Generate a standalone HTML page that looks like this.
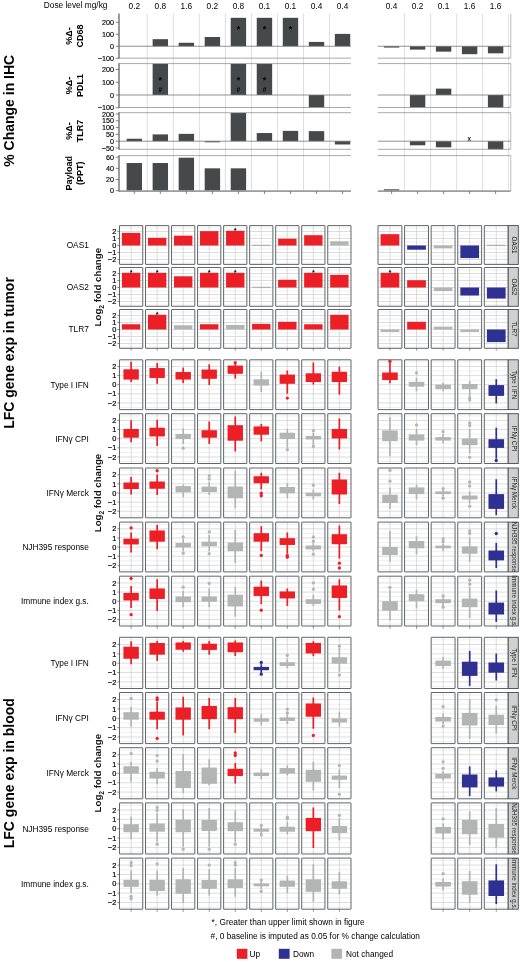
<!DOCTYPE html>
<html lang="en">
<head>
<meta charset="utf-8">
<title>Figure</title>
<style>
html,body{margin:0;padding:0;background:#fff;}
body{width:520px;height:962px;overflow:hidden;}
svg{display:block;font-family:'Liberation Sans',Arial,sans-serif;}
</style>
</head>
<body>
<svg width="520" height="962" viewBox="0 0 520 962">
<rect x="0" y="0" width="520" height="962" fill="#ffffff"/>
<text x="43.8" y="8.1" font-size="8.3" text-anchor="start" fill="#000">Dose level mg/kg</text>
<text x="134.3" y="8.8" font-size="8.3" text-anchor="middle" fill="#000">0.2</text>
<text x="160.33" y="8.8" font-size="8.3" text-anchor="middle" fill="#000">0.8</text>
<text x="186.36" y="8.8" font-size="8.3" text-anchor="middle" fill="#000">1.6</text>
<text x="212.39" y="8.8" font-size="8.3" text-anchor="middle" fill="#000">0.2</text>
<text x="238.42" y="8.8" font-size="8.3" text-anchor="middle" fill="#000">0.8</text>
<text x="264.45" y="8.8" font-size="8.3" text-anchor="middle" fill="#000">0.1</text>
<text x="290.48" y="8.8" font-size="8.3" text-anchor="middle" fill="#000">0.1</text>
<text x="316.51" y="8.8" font-size="8.3" text-anchor="middle" fill="#000">0.4</text>
<text x="342.54" y="8.8" font-size="8.3" text-anchor="middle" fill="#000">0.4</text>
<text x="391.6" y="8.8" font-size="8.3" text-anchor="middle" fill="#000">0.4</text>
<text x="417.6" y="8.8" font-size="8.3" text-anchor="middle" fill="#000">0.2</text>
<text x="443.6" y="8.8" font-size="8.3" text-anchor="middle" fill="#000">0.1</text>
<text x="469.6" y="8.8" font-size="8.3" text-anchor="middle" fill="#000">1.6</text>
<text x="495.6" y="8.8" font-size="8.3" text-anchor="middle" fill="#000">1.6</text>
<line x1="147.31" y1="13.8" x2="147.31" y2="191" stroke="#d6d6d6" stroke-width="0.8"/>
<line x1="173.35" y1="13.8" x2="173.35" y2="191" stroke="#d6d6d6" stroke-width="0.8"/>
<line x1="199.38" y1="13.8" x2="199.38" y2="191" stroke="#d6d6d6" stroke-width="0.8"/>
<line x1="225.41" y1="13.8" x2="225.41" y2="191" stroke="#d6d6d6" stroke-width="0.8"/>
<line x1="251.44" y1="13.8" x2="251.44" y2="191" stroke="#d6d6d6" stroke-width="0.8"/>
<line x1="277.47" y1="13.8" x2="277.47" y2="191" stroke="#d6d6d6" stroke-width="0.8"/>
<line x1="303.5" y1="13.8" x2="303.5" y2="191" stroke="#d6d6d6" stroke-width="0.8"/>
<line x1="329.53" y1="13.8" x2="329.53" y2="191" stroke="#d6d6d6" stroke-width="0.8"/>
<line x1="404.6" y1="13.8" x2="404.6" y2="191" stroke="#d6d6d6" stroke-width="0.8"/>
<line x1="430.6" y1="13.8" x2="430.6" y2="191" stroke="#d6d6d6" stroke-width="0.8"/>
<line x1="456.6" y1="13.8" x2="456.6" y2="191" stroke="#d6d6d6" stroke-width="0.8"/>
<line x1="482.6" y1="13.8" x2="482.6" y2="191" stroke="#d6d6d6" stroke-width="0.8"/>
<line x1="508.6" y1="13.8" x2="508.6" y2="191" stroke="#d6d6d6" stroke-width="0.8"/>
<rect x="152.63" y="39.17" width="15.4" height="7.08" fill="#46484a"/>
<rect x="178.66" y="42.77" width="15.4" height="3.48" fill="#46484a"/>
<rect x="204.69" y="37.01" width="15.4" height="9.24" fill="#46484a"/>
<rect x="230.72" y="17.81" width="15.4" height="28.44" fill="#46484a"/>
<rect x="256.75" y="17.81" width="15.4" height="28.44" fill="#46484a"/>
<rect x="282.78" y="17.81" width="15.4" height="28.44" fill="#46484a"/>
<rect x="308.81" y="41.93" width="15.4" height="4.32" fill="#46484a"/>
<rect x="334.84" y="33.89" width="15.4" height="12.36" fill="#46484a"/>
<rect x="383.9" y="46.25" width="15.4" height="1.32" fill="#46484a"/>
<rect x="409.9" y="46.25" width="15.4" height="3.36" fill="#46484a"/>
<rect x="435.9" y="46.25" width="15.4" height="5.4" fill="#46484a"/>
<rect x="461.9" y="46.25" width="15.4" height="7.92" fill="#46484a"/>
<rect x="487.9" y="46.25" width="15.4" height="7.08" fill="#46484a"/>
<text x="238.42" y="32.4" font-size="9" text-anchor="middle" font-weight="bold" fill="#000">*</text>
<text x="264.45" y="32.4" font-size="9" text-anchor="middle" font-weight="bold" fill="#000">*</text>
<text x="290.48" y="32.4" font-size="9" text-anchor="middle" font-weight="bold" fill="#000">*</text>
<line x1="119" y1="58.15" x2="351" y2="58.15" stroke="#8e8e8e" stroke-width="0.75"/>
<line x1="377.8" y1="58.15" x2="510.8" y2="58.15" stroke="#8e8e8e" stroke-width="0.75"/>
<line x1="510.8" y1="13.9" x2="510.8" y2="58.15" stroke="#a8a8a8" stroke-width="0.75"/>
<line x1="119" y1="46.25" x2="351" y2="46.25" stroke="#777" stroke-width="0.8"/>
<line x1="377.8" y1="46.25" x2="510.8" y2="46.25" stroke="#777" stroke-width="0.8"/>
<line x1="119" y1="13.5" x2="119" y2="58.55" stroke="#666" stroke-width="1.3"/>
<line x1="115.7" y1="22.25" x2="119" y2="22.25" stroke="#666" stroke-width="0.8"/>
<text x="114" y="24.75" font-size="7.2" text-anchor="end" fill="#000" stroke="#000" stroke-width="0.15">200</text>
<line x1="115.7" y1="34.25" x2="119" y2="34.25" stroke="#666" stroke-width="0.8"/>
<text x="114" y="36.75" font-size="7.2" text-anchor="end" fill="#000" stroke="#000" stroke-width="0.15">100</text>
<line x1="115.7" y1="46.25" x2="119" y2="46.25" stroke="#666" stroke-width="0.8"/>
<text x="114" y="48.75" font-size="7.2" text-anchor="end" fill="#000" stroke="#000" stroke-width="0.15">0</text>
<line x1="115.7" y1="58.25" x2="119" y2="58.25" stroke="#666" stroke-width="0.8"/>
<text x="114" y="60.75" font-size="7.2" text-anchor="end" fill="#000" stroke="#000" stroke-width="0.15">−100</text>
<text x="71.6" y="36.02" font-size="9" text-anchor="middle" font-weight="bold" fill="#000" transform="rotate(-90 71.6 36.02)">%Δ-</text>
<text x="83.2" y="36.02" font-size="9" text-anchor="middle" font-weight="bold" fill="#000" transform="rotate(-90 83.2 36.02)">CD68</text>
<rect x="152.63" y="63.8" width="15.4" height="31.2" fill="#46484a"/>
<rect x="230.72" y="63.8" width="15.4" height="31.2" fill="#46484a"/>
<rect x="256.75" y="63.8" width="15.4" height="31.2" fill="#46484a"/>
<rect x="308.81" y="95" width="15.4" height="12.5" fill="#46484a"/>
<rect x="409.9" y="95" width="15.4" height="12.5" fill="#46484a"/>
<rect x="435.9" y="88.62" width="15.4" height="6.38" fill="#46484a"/>
<rect x="487.9" y="95" width="15.4" height="12.5" fill="#46484a"/>
<text x="160.33" y="82.6" font-size="9" text-anchor="middle" font-weight="bold" fill="#000">*</text>
<text x="160.33" y="91.8" font-size="6.5" text-anchor="middle" font-weight="bold" fill="#000">#</text>
<text x="238.42" y="82.6" font-size="9" text-anchor="middle" font-weight="bold" fill="#000">*</text>
<text x="238.42" y="91.8" font-size="6.5" text-anchor="middle" font-weight="bold" fill="#000">#</text>
<text x="264.45" y="82.6" font-size="9" text-anchor="middle" font-weight="bold" fill="#000">*</text>
<text x="264.45" y="91.8" font-size="6.5" text-anchor="middle" font-weight="bold" fill="#000">#</text>
<line x1="119" y1="63.6" x2="351" y2="63.6" stroke="#8e8e8e" stroke-width="0.75"/>
<line x1="377.8" y1="63.6" x2="510.8" y2="63.6" stroke="#8e8e8e" stroke-width="0.75"/>
<line x1="119" y1="107.5" x2="351" y2="107.5" stroke="#8e8e8e" stroke-width="0.75"/>
<line x1="377.8" y1="107.5" x2="510.8" y2="107.5" stroke="#8e8e8e" stroke-width="0.75"/>
<line x1="510.8" y1="63.6" x2="510.8" y2="107.5" stroke="#a8a8a8" stroke-width="0.75"/>
<line x1="119" y1="95" x2="351" y2="95" stroke="#777" stroke-width="0.8"/>
<line x1="377.8" y1="95" x2="510.8" y2="95" stroke="#777" stroke-width="0.8"/>
<line x1="119" y1="63.2" x2="119" y2="107.9" stroke="#666" stroke-width="1.3"/>
<line x1="115.7" y1="69.5" x2="119" y2="69.5" stroke="#666" stroke-width="0.8"/>
<text x="114" y="72" font-size="7.2" text-anchor="end" fill="#000" stroke="#000" stroke-width="0.15">200</text>
<line x1="115.7" y1="82.25" x2="119" y2="82.25" stroke="#666" stroke-width="0.8"/>
<text x="114" y="84.75" font-size="7.2" text-anchor="end" fill="#000" stroke="#000" stroke-width="0.15">100</text>
<line x1="115.7" y1="95" x2="119" y2="95" stroke="#666" stroke-width="0.8"/>
<text x="114" y="97.5" font-size="7.2" text-anchor="end" fill="#000" stroke="#000" stroke-width="0.15">0</text>
<line x1="115.7" y1="107.75" x2="119" y2="107.75" stroke="#666" stroke-width="0.8"/>
<text x="114" y="110.25" font-size="7.2" text-anchor="end" fill="#000" stroke="#000" stroke-width="0.15">−100</text>
<text x="71.6" y="85.55" font-size="9" text-anchor="middle" font-weight="bold" fill="#000" transform="rotate(-90 71.6 85.55)">%Δ-</text>
<text x="83.2" y="85.55" font-size="9" text-anchor="middle" font-weight="bold" fill="#000" transform="rotate(-90 83.2 85.55)">PDL1</text>
<rect x="126.6" y="138.75" width="15.4" height="2.45" fill="#46484a"/>
<rect x="152.63" y="134.4" width="15.4" height="6.8" fill="#46484a"/>
<rect x="178.66" y="133.86" width="15.4" height="7.34" fill="#46484a"/>
<rect x="204.69" y="141.2" width="15.4" height="1.09" fill="#46484a"/>
<rect x="230.72" y="112.9" width="15.4" height="28.3" fill="#46484a"/>
<rect x="256.75" y="133.04" width="15.4" height="8.16" fill="#46484a"/>
<rect x="282.78" y="130.86" width="15.4" height="10.34" fill="#46484a"/>
<rect x="308.81" y="131.14" width="15.4" height="10.06" fill="#46484a"/>
<rect x="334.84" y="141.2" width="15.4" height="3.26" fill="#46484a"/>
<rect x="409.9" y="141.2" width="15.4" height="4.08" fill="#46484a"/>
<rect x="435.9" y="141.2" width="15.4" height="6.12" fill="#46484a"/>
<rect x="487.9" y="141.2" width="15.4" height="8.1" fill="#46484a"/>
<line x1="119" y1="112.7" x2="351" y2="112.7" stroke="#8e8e8e" stroke-width="0.75"/>
<line x1="377.8" y1="112.7" x2="510.8" y2="112.7" stroke="#8e8e8e" stroke-width="0.75"/>
<line x1="119" y1="149.3" x2="351" y2="149.3" stroke="#8e8e8e" stroke-width="0.75"/>
<line x1="377.8" y1="149.3" x2="510.8" y2="149.3" stroke="#8e8e8e" stroke-width="0.75"/>
<line x1="510.8" y1="112.7" x2="510.8" y2="149.3" stroke="#a8a8a8" stroke-width="0.75"/>
<line x1="119" y1="141.2" x2="351" y2="141.2" stroke="#777" stroke-width="0.8"/>
<line x1="377.8" y1="141.2" x2="510.8" y2="141.2" stroke="#777" stroke-width="0.8"/>
<line x1="119" y1="112.3" x2="119" y2="149.7" stroke="#666" stroke-width="1.3"/>
<line x1="115.7" y1="114" x2="119" y2="114" stroke="#666" stroke-width="0.8"/>
<text x="114" y="116.5" font-size="7.2" text-anchor="end" fill="#000" stroke="#000" stroke-width="0.15">200</text>
<line x1="115.7" y1="120.8" x2="119" y2="120.8" stroke="#666" stroke-width="0.8"/>
<text x="114" y="123.3" font-size="7.2" text-anchor="end" fill="#000" stroke="#000" stroke-width="0.15">150</text>
<line x1="115.7" y1="127.6" x2="119" y2="127.6" stroke="#666" stroke-width="0.8"/>
<text x="114" y="130.1" font-size="7.2" text-anchor="end" fill="#000" stroke="#000" stroke-width="0.15">100</text>
<line x1="115.7" y1="134.4" x2="119" y2="134.4" stroke="#666" stroke-width="0.8"/>
<text x="114" y="136.9" font-size="7.2" text-anchor="end" fill="#000" stroke="#000" stroke-width="0.15">50</text>
<line x1="115.7" y1="141.2" x2="119" y2="141.2" stroke="#666" stroke-width="0.8"/>
<text x="114" y="143.7" font-size="7.2" text-anchor="end" fill="#000" stroke="#000" stroke-width="0.15">0</text>
<line x1="115.7" y1="148" x2="119" y2="148" stroke="#666" stroke-width="0.8"/>
<text x="114" y="150.5" font-size="7.2" text-anchor="end" fill="#000" stroke="#000" stroke-width="0.15">−50</text>
<text x="71.6" y="131" font-size="9" text-anchor="middle" font-weight="bold" fill="#000" transform="rotate(-90 71.6 131)">%Δ-</text>
<text x="83.2" y="131" font-size="9" text-anchor="middle" font-weight="bold" fill="#000" transform="rotate(-90 83.2 131)">TLR7</text>
<rect x="126.6" y="163.03" width="15.4" height="27.67" fill="#46484a"/>
<rect x="152.63" y="163.03" width="15.4" height="27.67" fill="#46484a"/>
<rect x="178.66" y="157.72" width="15.4" height="32.98" fill="#46484a"/>
<rect x="204.69" y="168.34" width="15.4" height="22.36" fill="#46484a"/>
<rect x="230.72" y="168.34" width="15.4" height="22.36" fill="#46484a"/>
<rect x="383.9" y="189.3" width="15.4" height="1.4" fill="#46484a"/>
<line x1="119" y1="155.6" x2="351" y2="155.6" stroke="#8e8e8e" stroke-width="0.75"/>
<line x1="377.8" y1="155.6" x2="510.8" y2="155.6" stroke="#8e8e8e" stroke-width="0.75"/>
<line x1="119" y1="191.2" x2="351" y2="191.2" stroke="#9c9c9c" stroke-width="1.7"/>
<line x1="377.8" y1="191.2" x2="510.8" y2="191.2" stroke="#9c9c9c" stroke-width="1.7"/>
<line x1="510.8" y1="155.6" x2="510.8" y2="191" stroke="#a8a8a8" stroke-width="0.75"/>
<line x1="119" y1="155.2" x2="119" y2="191.4" stroke="#666" stroke-width="1.3"/>
<line x1="115.7" y1="157.16" x2="119" y2="157.16" stroke="#666" stroke-width="0.8"/>
<text x="114" y="159.66" font-size="7.2" text-anchor="end" fill="#000" stroke="#000" stroke-width="0.15">60</text>
<line x1="115.7" y1="168.34" x2="119" y2="168.34" stroke="#666" stroke-width="0.8"/>
<text x="114" y="170.84" font-size="7.2" text-anchor="end" fill="#000" stroke="#000" stroke-width="0.15">40</text>
<line x1="115.7" y1="179.52" x2="119" y2="179.52" stroke="#666" stroke-width="0.8"/>
<text x="114" y="182.02" font-size="7.2" text-anchor="end" fill="#000" stroke="#000" stroke-width="0.15">20</text>
<line x1="115.7" y1="190.7" x2="119" y2="190.7" stroke="#666" stroke-width="0.8"/>
<text x="114" y="193.2" font-size="7.2" text-anchor="end" fill="#000" stroke="#000" stroke-width="0.15">0</text>
<text x="71.6" y="173.3" font-size="9" text-anchor="middle" font-weight="bold" fill="#000" transform="rotate(-90 71.6 173.3)">Payload</text>
<text x="83.2" y="173.3" font-size="9" text-anchor="middle" font-weight="bold" fill="#000" transform="rotate(-90 83.2 173.3)">(PPT)</text>
<text x="469.4" y="141" font-size="6.5" text-anchor="middle" font-weight="bold" fill="#222">x</text>
<line x1="134.3" y1="191.2" x2="134.3" y2="194" stroke="#666" stroke-width="0.8"/>
<line x1="160.33" y1="191.2" x2="160.33" y2="194" stroke="#666" stroke-width="0.8"/>
<line x1="186.36" y1="191.2" x2="186.36" y2="194" stroke="#666" stroke-width="0.8"/>
<line x1="212.39" y1="191.2" x2="212.39" y2="194" stroke="#666" stroke-width="0.8"/>
<line x1="238.42" y1="191.2" x2="238.42" y2="194" stroke="#666" stroke-width="0.8"/>
<line x1="264.45" y1="191.2" x2="264.45" y2="194" stroke="#666" stroke-width="0.8"/>
<line x1="290.48" y1="191.2" x2="290.48" y2="194" stroke="#666" stroke-width="0.8"/>
<line x1="316.51" y1="191.2" x2="316.51" y2="194" stroke="#666" stroke-width="0.8"/>
<line x1="342.54" y1="191.2" x2="342.54" y2="194" stroke="#666" stroke-width="0.8"/>
<line x1="391.6" y1="191.2" x2="391.6" y2="194" stroke="#666" stroke-width="0.8"/>
<line x1="417.6" y1="191.2" x2="417.6" y2="194" stroke="#666" stroke-width="0.8"/>
<line x1="443.6" y1="191.2" x2="443.6" y2="194" stroke="#666" stroke-width="0.8"/>
<line x1="469.6" y1="191.2" x2="469.6" y2="194" stroke="#666" stroke-width="0.8"/>
<line x1="495.6" y1="191.2" x2="495.6" y2="194" stroke="#666" stroke-width="0.8"/>
<text x="14.2" y="110.8" font-size="14" text-anchor="middle" font-weight="bold" fill="#000" transform="rotate(-90 14.2 110.8)">% Change in IHC</text>
<text x="14.2" y="353" font-size="14" text-anchor="middle" font-weight="bold" fill="#000" transform="rotate(-90 14.2 353)">LFC gene exp in tumor</text>
<text x="14.2" y="773.2" font-size="14" text-anchor="middle" font-weight="bold" fill="#000" transform="rotate(-90 14.2 773.2)">LFC gene exp in blood</text>
<text x="101.4" y="287.2" font-size="9.7" font-weight="bold" text-anchor="middle" fill="#111" transform="rotate(-90 101.4 287.2)">Log<tspan font-size="6.6" dy="2.2">2</tspan><tspan dy="-2.2"> fold change</tspan></text>
<text x="101.4" y="493" font-size="9.7" font-weight="bold" text-anchor="middle" fill="#111" transform="rotate(-90 101.4 493)">Log<tspan font-size="6.6" dy="2.2">2</tspan><tspan dy="-2.2"> fold change</tspan></text>
<text x="101.4" y="773.2" font-size="9.7" font-weight="bold" text-anchor="middle" fill="#111" transform="rotate(-90 101.4 773.2)">Log<tspan font-size="6.6" dy="2.2">2</tspan><tspan dy="-2.2"> fold change</tspan></text>
<rect x="119.5" y="225.6" width="23.25" height="38.8" fill="#fff"/>
<path d="M119.5 263H142.75M119.5 256H142.75M119.5 249H142.75M119.5 242H142.75M119.5 235H142.75M119.5 228H142.75" stroke="#e0e0e0" stroke-width="0.5" fill="none"/>
<path d="M119.5 259.5H142.75M119.5 252.5H142.75M119.5 245.5H142.75M119.5 238.5H142.75M119.5 231.5H142.75M131.12 225.6V264.4" stroke="#cfcfcf" stroke-width="0.7" fill="none"/>
<rect x="121.92" y="232.9" width="18.4" height="12.6" fill="#ec1f26"/>
<rect x="119.5" y="225.6" width="23.25" height="38.8" fill="none" stroke="#464a4e" stroke-width="0.85" rx="0.2"/>
<rect x="145.53" y="225.6" width="23.25" height="38.8" fill="#fff"/>
<path d="M145.53 263H168.78M145.53 256H168.78M145.53 249H168.78M145.53 242H168.78M145.53 235H168.78M145.53 228H168.78" stroke="#e0e0e0" stroke-width="0.5" fill="none"/>
<path d="M145.53 259.5H168.78M145.53 252.5H168.78M145.53 245.5H168.78M145.53 238.5H168.78M145.53 231.5H168.78M157.16 225.6V264.4" stroke="#cfcfcf" stroke-width="0.7" fill="none"/>
<rect x="147.96" y="237.8" width="18.4" height="7.7" fill="#ec1f26"/>
<rect x="145.53" y="225.6" width="23.25" height="38.8" fill="none" stroke="#464a4e" stroke-width="0.85" rx="0.2"/>
<rect x="171.56" y="225.6" width="23.25" height="38.8" fill="#fff"/>
<path d="M171.56 263H194.81M171.56 256H194.81M171.56 249H194.81M171.56 242H194.81M171.56 235H194.81M171.56 228H194.81" stroke="#e0e0e0" stroke-width="0.5" fill="none"/>
<path d="M171.56 259.5H194.81M171.56 252.5H194.81M171.56 245.5H194.81M171.56 238.5H194.81M171.56 231.5H194.81M183.19 225.6V264.4" stroke="#cfcfcf" stroke-width="0.7" fill="none"/>
<rect x="173.99" y="235.7" width="18.4" height="9.8" fill="#ec1f26"/>
<rect x="171.56" y="225.6" width="23.25" height="38.8" fill="none" stroke="#464a4e" stroke-width="0.85" rx="0.2"/>
<rect x="197.59" y="225.6" width="23.25" height="38.8" fill="#fff"/>
<path d="M197.59 263H220.84M197.59 256H220.84M197.59 249H220.84M197.59 242H220.84M197.59 235H220.84M197.59 228H220.84" stroke="#e0e0e0" stroke-width="0.5" fill="none"/>
<path d="M197.59 259.5H220.84M197.59 252.5H220.84M197.59 245.5H220.84M197.59 238.5H220.84M197.59 231.5H220.84M209.22 225.6V264.4" stroke="#cfcfcf" stroke-width="0.7" fill="none"/>
<rect x="200.02" y="231.15" width="18.4" height="14.35" fill="#ec1f26"/>
<rect x="197.59" y="225.6" width="23.25" height="38.8" fill="none" stroke="#464a4e" stroke-width="0.85" rx="0.2"/>
<rect x="223.62" y="225.6" width="23.25" height="38.8" fill="#fff"/>
<path d="M223.62 263H246.87M223.62 256H246.87M223.62 249H246.87M223.62 242H246.87M223.62 235H246.87M223.62 228H246.87" stroke="#e0e0e0" stroke-width="0.5" fill="none"/>
<path d="M223.62 259.5H246.87M223.62 252.5H246.87M223.62 245.5H246.87M223.62 238.5H246.87M223.62 231.5H246.87M235.25 225.6V264.4" stroke="#cfcfcf" stroke-width="0.7" fill="none"/>
<rect x="226.05" y="230.8" width="18.4" height="14.7" fill="#ec1f26"/>
<text x="235.25" y="233.4" font-size="7.5" text-anchor="middle" font-weight="bold" fill="#000">*</text>
<rect x="223.62" y="225.6" width="23.25" height="38.8" fill="none" stroke="#464a4e" stroke-width="0.85" rx="0.2"/>
<rect x="249.65" y="225.6" width="23.25" height="38.8" fill="#fff"/>
<path d="M249.65 263H272.9M249.65 256H272.9M249.65 249H272.9M249.65 242H272.9M249.65 235H272.9M249.65 228H272.9" stroke="#e0e0e0" stroke-width="0.5" fill="none"/>
<path d="M249.65 259.5H272.9M249.65 252.5H272.9M249.65 245.5H272.9M249.65 238.5H272.9M249.65 231.5H272.9M261.27 225.6V264.4" stroke="#cfcfcf" stroke-width="0.7" fill="none"/>
<rect x="252.07" y="244.7" width="18.4" height="1.4" fill="#b3b5b4"/>
<rect x="249.65" y="225.6" width="23.25" height="38.8" fill="none" stroke="#464a4e" stroke-width="0.85" rx="0.2"/>
<rect x="275.68" y="225.6" width="23.25" height="38.8" fill="#fff"/>
<path d="M275.68 263H298.93M275.68 256H298.93M275.68 249H298.93M275.68 242H298.93M275.68 235H298.93M275.68 228H298.93" stroke="#e0e0e0" stroke-width="0.5" fill="none"/>
<path d="M275.68 259.5H298.93M275.68 252.5H298.93M275.68 245.5H298.93M275.68 238.5H298.93M275.68 231.5H298.93M287.31 225.6V264.4" stroke="#cfcfcf" stroke-width="0.7" fill="none"/>
<rect x="278.11" y="238.71" width="18.4" height="6.79" fill="#ec1f26"/>
<rect x="275.68" y="225.6" width="23.25" height="38.8" fill="none" stroke="#464a4e" stroke-width="0.85" rx="0.2"/>
<rect x="301.71" y="225.6" width="23.25" height="38.8" fill="#fff"/>
<path d="M301.71 263H324.96M301.71 256H324.96M301.71 249H324.96M301.71 242H324.96M301.71 235H324.96M301.71 228H324.96" stroke="#e0e0e0" stroke-width="0.5" fill="none"/>
<path d="M301.71 259.5H324.96M301.71 252.5H324.96M301.71 245.5H324.96M301.71 238.5H324.96M301.71 231.5H324.96M313.34 225.6V264.4" stroke="#cfcfcf" stroke-width="0.7" fill="none"/>
<rect x="304.14" y="235.21" width="18.4" height="10.29" fill="#ec1f26"/>
<rect x="301.71" y="225.6" width="23.25" height="38.8" fill="none" stroke="#464a4e" stroke-width="0.85" rx="0.2"/>
<rect x="327.74" y="225.6" width="23.25" height="38.8" fill="#fff"/>
<path d="M327.74 263H350.99M327.74 256H350.99M327.74 249H350.99M327.74 242H350.99M327.74 235H350.99M327.74 228H350.99" stroke="#e0e0e0" stroke-width="0.5" fill="none"/>
<path d="M327.74 259.5H350.99M327.74 252.5H350.99M327.74 245.5H350.99M327.74 238.5H350.99M327.74 231.5H350.99M339.37 225.6V264.4" stroke="#cfcfcf" stroke-width="0.7" fill="none"/>
<rect x="330.17" y="241.3" width="18.4" height="4.2" fill="#b3b5b4"/>
<rect x="327.74" y="225.6" width="23.25" height="38.8" fill="none" stroke="#464a4e" stroke-width="0.85" rx="0.2"/>
<rect x="378" y="225.6" width="23.9" height="38.8" fill="#fff"/>
<path d="M378 263H401.9M378 256H401.9M378 249H401.9M378 242H401.9M378 235H401.9M378 228H401.9" stroke="#e0e0e0" stroke-width="0.5" fill="none"/>
<path d="M378 259.5H401.9M378 252.5H401.9M378 245.5H401.9M378 238.5H401.9M378 231.5H401.9M389.95 225.6V264.4" stroke="#cfcfcf" stroke-width="0.7" fill="none"/>
<rect x="380.6" y="234.16" width="18.7" height="11.34" fill="#ec1f26"/>
<rect x="378" y="225.6" width="23.9" height="38.8" fill="none" stroke="#464a4e" stroke-width="0.85" rx="0.2"/>
<rect x="404.58" y="225.6" width="23.9" height="38.8" fill="#fff"/>
<path d="M404.58 263H428.48M404.58 256H428.48M404.58 249H428.48M404.58 242H428.48M404.58 235H428.48M404.58 228H428.48" stroke="#e0e0e0" stroke-width="0.5" fill="none"/>
<path d="M404.58 259.5H428.48M404.58 252.5H428.48M404.58 245.5H428.48M404.58 238.5H428.48M404.58 231.5H428.48M416.53 225.6V264.4" stroke="#cfcfcf" stroke-width="0.7" fill="none"/>
<rect x="407.18" y="245.5" width="18.7" height="4.2" fill="#2e3192"/>
<rect x="404.58" y="225.6" width="23.9" height="38.8" fill="none" stroke="#464a4e" stroke-width="0.85" rx="0.2"/>
<rect x="431.16" y="225.6" width="23.9" height="38.8" fill="#fff"/>
<path d="M431.16 263H455.06M431.16 256H455.06M431.16 249H455.06M431.16 242H455.06M431.16 235H455.06M431.16 228H455.06" stroke="#e0e0e0" stroke-width="0.5" fill="none"/>
<path d="M431.16 259.5H455.06M431.16 252.5H455.06M431.16 245.5H455.06M431.16 238.5H455.06M431.16 231.5H455.06M443.11 225.6V264.4" stroke="#cfcfcf" stroke-width="0.7" fill="none"/>
<rect x="433.76" y="245.5" width="18.7" height="2.8" fill="#b3b5b4"/>
<rect x="431.16" y="225.6" width="23.9" height="38.8" fill="none" stroke="#464a4e" stroke-width="0.85" rx="0.2"/>
<rect x="457.74" y="225.6" width="23.9" height="38.8" fill="#fff"/>
<path d="M457.74 263H481.64M457.74 256H481.64M457.74 249H481.64M457.74 242H481.64M457.74 235H481.64M457.74 228H481.64" stroke="#e0e0e0" stroke-width="0.5" fill="none"/>
<path d="M457.74 259.5H481.64M457.74 252.5H481.64M457.74 245.5H481.64M457.74 238.5H481.64M457.74 231.5H481.64M469.69 225.6V264.4" stroke="#cfcfcf" stroke-width="0.7" fill="none"/>
<rect x="460.34" y="245.5" width="18.7" height="12.6" fill="#2e3192"/>
<rect x="457.74" y="225.6" width="23.9" height="38.8" fill="none" stroke="#464a4e" stroke-width="0.85" rx="0.2"/>
<rect x="484.32" y="225.6" width="23.9" height="38.8" fill="#fff"/>
<path d="M484.32 263H508.22M484.32 256H508.22M484.32 249H508.22M484.32 242H508.22M484.32 235H508.22M484.32 228H508.22" stroke="#e0e0e0" stroke-width="0.5" fill="none"/>
<path d="M484.32 259.5H508.22M484.32 252.5H508.22M484.32 245.5H508.22M484.32 238.5H508.22M484.32 231.5H508.22M496.27 225.6V264.4" stroke="#cfcfcf" stroke-width="0.7" fill="none"/>
<rect x="486.92" y="244.7" width="18.7" height="1.4" fill="#b3b5b4"/>
<rect x="484.32" y="225.6" width="23.9" height="38.8" fill="none" stroke="#464a4e" stroke-width="0.85" rx="0.2"/>
<line x1="117.4" y1="231.5" x2="119.2" y2="231.5" stroke="#333" stroke-width="0.6"/>
<text x="116.3" y="234.15" font-size="7.4" text-anchor="end" fill="#000" stroke="#000" stroke-width="0.2">2</text>
<line x1="117.4" y1="238.5" x2="119.2" y2="238.5" stroke="#333" stroke-width="0.6"/>
<text x="116.3" y="241.15" font-size="7.4" text-anchor="end" fill="#000" stroke="#000" stroke-width="0.2">1</text>
<line x1="117.4" y1="245.5" x2="119.2" y2="245.5" stroke="#333" stroke-width="0.6"/>
<text x="116.3" y="248.15" font-size="7.4" text-anchor="end" fill="#000" stroke="#000" stroke-width="0.2">0</text>
<line x1="117.4" y1="252.5" x2="119.2" y2="252.5" stroke="#333" stroke-width="0.6"/>
<text x="116.3" y="255.15" font-size="7.4" text-anchor="end" fill="#000" stroke="#000" stroke-width="0.2">−1</text>
<line x1="117.4" y1="259.5" x2="119.2" y2="259.5" stroke="#333" stroke-width="0.6"/>
<text x="116.3" y="262.15" font-size="7.4" text-anchor="end" fill="#000" stroke="#000" stroke-width="0.2">−2</text>
<rect x="508.2" y="225.6" width="10.1" height="38.8" fill="#d0d0d0" stroke="#464a4e" stroke-width="0.9"/>
<text x="511.5" y="245" font-size="6.3" text-anchor="middle" fill="#1a1a1a" transform="rotate(90 511.5 245)">OAS1</text>
<text x="88.8" y="248.2" font-size="8.3" text-anchor="end" fill="#000">OAS1</text>
<rect x="119.5" y="267.5" width="23.25" height="38.8" fill="#fff"/>
<path d="M119.5 305H142.75M119.5 298H142.75M119.5 291H142.75M119.5 284H142.75M119.5 277H142.75M119.5 270H142.75" stroke="#e0e0e0" stroke-width="0.5" fill="none"/>
<path d="M119.5 301.5H142.75M119.5 294.5H142.75M119.5 287.5H142.75M119.5 280.5H142.75M119.5 273.5H142.75M131.12 267.5V306.3" stroke="#cfcfcf" stroke-width="0.7" fill="none"/>
<rect x="121.92" y="272.8" width="18.4" height="14.7" fill="#ec1f26"/>
<text x="131.12" y="275.4" font-size="7.5" text-anchor="middle" font-weight="bold" fill="#000">*</text>
<rect x="119.5" y="267.5" width="23.25" height="38.8" fill="none" stroke="#464a4e" stroke-width="0.85" rx="0.2"/>
<rect x="145.53" y="267.5" width="23.25" height="38.8" fill="#fff"/>
<path d="M145.53 305H168.78M145.53 298H168.78M145.53 291H168.78M145.53 284H168.78M145.53 277H168.78M145.53 270H168.78" stroke="#e0e0e0" stroke-width="0.5" fill="none"/>
<path d="M145.53 301.5H168.78M145.53 294.5H168.78M145.53 287.5H168.78M145.53 280.5H168.78M145.53 273.5H168.78M157.16 267.5V306.3" stroke="#cfcfcf" stroke-width="0.7" fill="none"/>
<rect x="147.96" y="272.8" width="18.4" height="14.7" fill="#ec1f26"/>
<text x="157.16" y="275.4" font-size="7.5" text-anchor="middle" font-weight="bold" fill="#000">*</text>
<rect x="145.53" y="267.5" width="23.25" height="38.8" fill="none" stroke="#464a4e" stroke-width="0.85" rx="0.2"/>
<rect x="171.56" y="267.5" width="23.25" height="38.8" fill="#fff"/>
<path d="M171.56 305H194.81M171.56 298H194.81M171.56 291H194.81M171.56 284H194.81M171.56 277H194.81M171.56 270H194.81" stroke="#e0e0e0" stroke-width="0.5" fill="none"/>
<path d="M171.56 301.5H194.81M171.56 294.5H194.81M171.56 287.5H194.81M171.56 280.5H194.81M171.56 273.5H194.81M183.19 267.5V306.3" stroke="#cfcfcf" stroke-width="0.7" fill="none"/>
<rect x="173.99" y="276.3" width="18.4" height="11.2" fill="#ec1f26"/>
<rect x="171.56" y="267.5" width="23.25" height="38.8" fill="none" stroke="#464a4e" stroke-width="0.85" rx="0.2"/>
<rect x="197.59" y="267.5" width="23.25" height="38.8" fill="#fff"/>
<path d="M197.59 305H220.84M197.59 298H220.84M197.59 291H220.84M197.59 284H220.84M197.59 277H220.84M197.59 270H220.84" stroke="#e0e0e0" stroke-width="0.5" fill="none"/>
<path d="M197.59 301.5H220.84M197.59 294.5H220.84M197.59 287.5H220.84M197.59 280.5H220.84M197.59 273.5H220.84M209.22 267.5V306.3" stroke="#cfcfcf" stroke-width="0.7" fill="none"/>
<rect x="200.02" y="272.8" width="18.4" height="14.7" fill="#ec1f26"/>
<text x="209.22" y="275.4" font-size="7.5" text-anchor="middle" font-weight="bold" fill="#000">*</text>
<rect x="197.59" y="267.5" width="23.25" height="38.8" fill="none" stroke="#464a4e" stroke-width="0.85" rx="0.2"/>
<rect x="223.62" y="267.5" width="23.25" height="38.8" fill="#fff"/>
<path d="M223.62 305H246.87M223.62 298H246.87M223.62 291H246.87M223.62 284H246.87M223.62 277H246.87M223.62 270H246.87" stroke="#e0e0e0" stroke-width="0.5" fill="none"/>
<path d="M223.62 301.5H246.87M223.62 294.5H246.87M223.62 287.5H246.87M223.62 280.5H246.87M223.62 273.5H246.87M235.25 267.5V306.3" stroke="#cfcfcf" stroke-width="0.7" fill="none"/>
<rect x="226.05" y="272.8" width="18.4" height="14.7" fill="#ec1f26"/>
<text x="235.25" y="275.4" font-size="7.5" text-anchor="middle" font-weight="bold" fill="#000">*</text>
<rect x="223.62" y="267.5" width="23.25" height="38.8" fill="none" stroke="#464a4e" stroke-width="0.85" rx="0.2"/>
<rect x="249.65" y="267.5" width="23.25" height="38.8" fill="#fff"/>
<path d="M249.65 305H272.9M249.65 298H272.9M249.65 291H272.9M249.65 284H272.9M249.65 277H272.9M249.65 270H272.9" stroke="#e0e0e0" stroke-width="0.5" fill="none"/>
<path d="M249.65 301.5H272.9M249.65 294.5H272.9M249.65 287.5H272.9M249.65 280.5H272.9M249.65 273.5H272.9M261.27 267.5V306.3" stroke="#cfcfcf" stroke-width="0.7" fill="none"/>
<rect x="252.07" y="286.7" width="18.4" height="1.4" fill="#b3b5b4"/>
<rect x="249.65" y="267.5" width="23.25" height="38.8" fill="none" stroke="#464a4e" stroke-width="0.85" rx="0.2"/>
<rect x="275.68" y="267.5" width="23.25" height="38.8" fill="#fff"/>
<path d="M275.68 305H298.93M275.68 298H298.93M275.68 291H298.93M275.68 284H298.93M275.68 277H298.93M275.68 270H298.93" stroke="#e0e0e0" stroke-width="0.5" fill="none"/>
<path d="M275.68 301.5H298.93M275.68 294.5H298.93M275.68 287.5H298.93M275.68 280.5H298.93M275.68 273.5H298.93M287.31 267.5V306.3" stroke="#cfcfcf" stroke-width="0.7" fill="none"/>
<rect x="278.11" y="279.8" width="18.4" height="7.7" fill="#ec1f26"/>
<rect x="275.68" y="267.5" width="23.25" height="38.8" fill="none" stroke="#464a4e" stroke-width="0.85" rx="0.2"/>
<rect x="301.71" y="267.5" width="23.25" height="38.8" fill="#fff"/>
<path d="M301.71 305H324.96M301.71 298H324.96M301.71 291H324.96M301.71 284H324.96M301.71 277H324.96M301.71 270H324.96" stroke="#e0e0e0" stroke-width="0.5" fill="none"/>
<path d="M301.71 301.5H324.96M301.71 294.5H324.96M301.71 287.5H324.96M301.71 280.5H324.96M301.71 273.5H324.96M313.34 267.5V306.3" stroke="#cfcfcf" stroke-width="0.7" fill="none"/>
<rect x="304.14" y="272.8" width="18.4" height="14.7" fill="#ec1f26"/>
<text x="313.34" y="275.4" font-size="7.5" text-anchor="middle" font-weight="bold" fill="#000">*</text>
<rect x="301.71" y="267.5" width="23.25" height="38.8" fill="none" stroke="#464a4e" stroke-width="0.85" rx="0.2"/>
<rect x="327.74" y="267.5" width="23.25" height="38.8" fill="#fff"/>
<path d="M327.74 305H350.99M327.74 298H350.99M327.74 291H350.99M327.74 284H350.99M327.74 277H350.99M327.74 270H350.99" stroke="#e0e0e0" stroke-width="0.5" fill="none"/>
<path d="M327.74 301.5H350.99M327.74 294.5H350.99M327.74 287.5H350.99M327.74 280.5H350.99M327.74 273.5H350.99M339.37 267.5V306.3" stroke="#cfcfcf" stroke-width="0.7" fill="none"/>
<rect x="330.17" y="274.9" width="18.4" height="12.6" fill="#ec1f26"/>
<rect x="327.74" y="267.5" width="23.25" height="38.8" fill="none" stroke="#464a4e" stroke-width="0.85" rx="0.2"/>
<rect x="378" y="267.5" width="23.9" height="38.8" fill="#fff"/>
<path d="M378 305H401.9M378 298H401.9M378 291H401.9M378 284H401.9M378 277H401.9M378 270H401.9" stroke="#e0e0e0" stroke-width="0.5" fill="none"/>
<path d="M378 301.5H401.9M378 294.5H401.9M378 287.5H401.9M378 280.5H401.9M378 273.5H401.9M389.95 267.5V306.3" stroke="#cfcfcf" stroke-width="0.7" fill="none"/>
<rect x="380.6" y="272.8" width="18.7" height="14.7" fill="#ec1f26"/>
<text x="389.95" y="275.4" font-size="7.5" text-anchor="middle" font-weight="bold" fill="#000">*</text>
<rect x="378" y="267.5" width="23.9" height="38.8" fill="none" stroke="#464a4e" stroke-width="0.85" rx="0.2"/>
<rect x="404.58" y="267.5" width="23.9" height="38.8" fill="#fff"/>
<path d="M404.58 305H428.48M404.58 298H428.48M404.58 291H428.48M404.58 284H428.48M404.58 277H428.48M404.58 270H428.48" stroke="#e0e0e0" stroke-width="0.5" fill="none"/>
<path d="M404.58 301.5H428.48M404.58 294.5H428.48M404.58 287.5H428.48M404.58 280.5H428.48M404.58 273.5H428.48M416.53 267.5V306.3" stroke="#cfcfcf" stroke-width="0.7" fill="none"/>
<rect x="407.18" y="280.22" width="18.7" height="7.28" fill="#ec1f26"/>
<rect x="404.58" y="267.5" width="23.9" height="38.8" fill="none" stroke="#464a4e" stroke-width="0.85" rx="0.2"/>
<rect x="431.16" y="267.5" width="23.9" height="38.8" fill="#fff"/>
<path d="M431.16 305H455.06M431.16 298H455.06M431.16 291H455.06M431.16 284H455.06M431.16 277H455.06M431.16 270H455.06" stroke="#e0e0e0" stroke-width="0.5" fill="none"/>
<path d="M431.16 301.5H455.06M431.16 294.5H455.06M431.16 287.5H455.06M431.16 280.5H455.06M431.16 273.5H455.06M443.11 267.5V306.3" stroke="#cfcfcf" stroke-width="0.7" fill="none"/>
<rect x="433.76" y="287.5" width="18.7" height="3.5" fill="#b3b5b4"/>
<rect x="431.16" y="267.5" width="23.9" height="38.8" fill="none" stroke="#464a4e" stroke-width="0.85" rx="0.2"/>
<rect x="457.74" y="267.5" width="23.9" height="38.8" fill="#fff"/>
<path d="M457.74 305H481.64M457.74 298H481.64M457.74 291H481.64M457.74 284H481.64M457.74 277H481.64M457.74 270H481.64" stroke="#e0e0e0" stroke-width="0.5" fill="none"/>
<path d="M457.74 301.5H481.64M457.74 294.5H481.64M457.74 287.5H481.64M457.74 280.5H481.64M457.74 273.5H481.64M469.69 267.5V306.3" stroke="#cfcfcf" stroke-width="0.7" fill="none"/>
<rect x="460.34" y="287.5" width="18.7" height="8.05" fill="#2e3192"/>
<rect x="457.74" y="267.5" width="23.9" height="38.8" fill="none" stroke="#464a4e" stroke-width="0.85" rx="0.2"/>
<rect x="484.32" y="267.5" width="23.9" height="38.8" fill="#fff"/>
<path d="M484.32 305H508.22M484.32 298H508.22M484.32 291H508.22M484.32 284H508.22M484.32 277H508.22M484.32 270H508.22" stroke="#e0e0e0" stroke-width="0.5" fill="none"/>
<path d="M484.32 301.5H508.22M484.32 294.5H508.22M484.32 287.5H508.22M484.32 280.5H508.22M484.32 273.5H508.22M496.27 267.5V306.3" stroke="#cfcfcf" stroke-width="0.7" fill="none"/>
<rect x="486.92" y="287.5" width="18.7" height="11.06" fill="#2e3192"/>
<rect x="484.32" y="267.5" width="23.9" height="38.8" fill="none" stroke="#464a4e" stroke-width="0.85" rx="0.2"/>
<line x1="117.4" y1="273.5" x2="119.2" y2="273.5" stroke="#333" stroke-width="0.6"/>
<text x="116.3" y="276.15" font-size="7.4" text-anchor="end" fill="#000" stroke="#000" stroke-width="0.2">2</text>
<line x1="117.4" y1="280.5" x2="119.2" y2="280.5" stroke="#333" stroke-width="0.6"/>
<text x="116.3" y="283.15" font-size="7.4" text-anchor="end" fill="#000" stroke="#000" stroke-width="0.2">1</text>
<line x1="117.4" y1="287.5" x2="119.2" y2="287.5" stroke="#333" stroke-width="0.6"/>
<text x="116.3" y="290.15" font-size="7.4" text-anchor="end" fill="#000" stroke="#000" stroke-width="0.2">0</text>
<line x1="117.4" y1="294.5" x2="119.2" y2="294.5" stroke="#333" stroke-width="0.6"/>
<text x="116.3" y="297.15" font-size="7.4" text-anchor="end" fill="#000" stroke="#000" stroke-width="0.2">−1</text>
<line x1="117.4" y1="301.5" x2="119.2" y2="301.5" stroke="#333" stroke-width="0.6"/>
<text x="116.3" y="304.15" font-size="7.4" text-anchor="end" fill="#000" stroke="#000" stroke-width="0.2">−2</text>
<rect x="508.2" y="267.5" width="10.1" height="38.8" fill="#d0d0d0" stroke="#464a4e" stroke-width="0.9"/>
<text x="511.5" y="286.9" font-size="6.3" text-anchor="middle" fill="#1a1a1a" transform="rotate(90 511.5 286.9)">OAS2</text>
<text x="88.8" y="290.2" font-size="8.3" text-anchor="end" fill="#000">OAS2</text>
<rect x="119.5" y="309.5" width="23.25" height="38.8" fill="#fff"/>
<path d="M119.5 347H142.75M119.5 340H142.75M119.5 333H142.75M119.5 326H142.75M119.5 319H142.75M119.5 312H142.75" stroke="#e0e0e0" stroke-width="0.5" fill="none"/>
<path d="M119.5 343.5H142.75M119.5 336.5H142.75M119.5 329.5H142.75M119.5 322.5H142.75M119.5 315.5H142.75M131.12 309.5V348.3" stroke="#cfcfcf" stroke-width="0.7" fill="none"/>
<rect x="121.92" y="324.25" width="18.4" height="5.25" fill="#ec1f26"/>
<rect x="119.5" y="309.5" width="23.25" height="38.8" fill="none" stroke="#464a4e" stroke-width="0.85" rx="0.2"/>
<rect x="145.53" y="309.5" width="23.25" height="38.8" fill="#fff"/>
<path d="M145.53 347H168.78M145.53 340H168.78M145.53 333H168.78M145.53 326H168.78M145.53 319H168.78M145.53 312H168.78" stroke="#e0e0e0" stroke-width="0.5" fill="none"/>
<path d="M145.53 343.5H168.78M145.53 336.5H168.78M145.53 329.5H168.78M145.53 322.5H168.78M145.53 315.5H168.78M157.16 309.5V348.3" stroke="#cfcfcf" stroke-width="0.7" fill="none"/>
<rect x="147.96" y="314.8" width="18.4" height="14.7" fill="#ec1f26"/>
<text x="157.16" y="317.4" font-size="7.5" text-anchor="middle" font-weight="bold" fill="#000">*</text>
<rect x="145.53" y="309.5" width="23.25" height="38.8" fill="none" stroke="#464a4e" stroke-width="0.85" rx="0.2"/>
<rect x="171.56" y="309.5" width="23.25" height="38.8" fill="#fff"/>
<path d="M171.56 347H194.81M171.56 340H194.81M171.56 333H194.81M171.56 326H194.81M171.56 319H194.81M171.56 312H194.81" stroke="#e0e0e0" stroke-width="0.5" fill="none"/>
<path d="M171.56 343.5H194.81M171.56 336.5H194.81M171.56 329.5H194.81M171.56 322.5H194.81M171.56 315.5H194.81M183.19 309.5V348.3" stroke="#cfcfcf" stroke-width="0.7" fill="none"/>
<rect x="173.99" y="325.3" width="18.4" height="4.2" fill="#b3b5b4"/>
<rect x="171.56" y="309.5" width="23.25" height="38.8" fill="none" stroke="#464a4e" stroke-width="0.85" rx="0.2"/>
<rect x="197.59" y="309.5" width="23.25" height="38.8" fill="#fff"/>
<path d="M197.59 347H220.84M197.59 340H220.84M197.59 333H220.84M197.59 326H220.84M197.59 319H220.84M197.59 312H220.84" stroke="#e0e0e0" stroke-width="0.5" fill="none"/>
<path d="M197.59 343.5H220.84M197.59 336.5H220.84M197.59 329.5H220.84M197.59 322.5H220.84M197.59 315.5H220.84M209.22 309.5V348.3" stroke="#cfcfcf" stroke-width="0.7" fill="none"/>
<rect x="200.02" y="324.25" width="18.4" height="5.25" fill="#ec1f26"/>
<rect x="197.59" y="309.5" width="23.25" height="38.8" fill="none" stroke="#464a4e" stroke-width="0.85" rx="0.2"/>
<rect x="223.62" y="309.5" width="23.25" height="38.8" fill="#fff"/>
<path d="M223.62 347H246.87M223.62 340H246.87M223.62 333H246.87M223.62 326H246.87M223.62 319H246.87M223.62 312H246.87" stroke="#e0e0e0" stroke-width="0.5" fill="none"/>
<path d="M223.62 343.5H246.87M223.62 336.5H246.87M223.62 329.5H246.87M223.62 322.5H246.87M223.62 315.5H246.87M235.25 309.5V348.3" stroke="#cfcfcf" stroke-width="0.7" fill="none"/>
<rect x="226.05" y="324.95" width="18.4" height="4.55" fill="#b3b5b4"/>
<rect x="223.62" y="309.5" width="23.25" height="38.8" fill="none" stroke="#464a4e" stroke-width="0.85" rx="0.2"/>
<rect x="249.65" y="309.5" width="23.25" height="38.8" fill="#fff"/>
<path d="M249.65 347H272.9M249.65 340H272.9M249.65 333H272.9M249.65 326H272.9M249.65 319H272.9M249.65 312H272.9" stroke="#e0e0e0" stroke-width="0.5" fill="none"/>
<path d="M249.65 343.5H272.9M249.65 336.5H272.9M249.65 329.5H272.9M249.65 322.5H272.9M249.65 315.5H272.9M261.27 309.5V348.3" stroke="#cfcfcf" stroke-width="0.7" fill="none"/>
<rect x="252.07" y="323.9" width="18.4" height="5.6" fill="#ec1f26"/>
<rect x="249.65" y="309.5" width="23.25" height="38.8" fill="none" stroke="#464a4e" stroke-width="0.85" rx="0.2"/>
<rect x="275.68" y="309.5" width="23.25" height="38.8" fill="#fff"/>
<path d="M275.68 347H298.93M275.68 340H298.93M275.68 333H298.93M275.68 326H298.93M275.68 319H298.93M275.68 312H298.93" stroke="#e0e0e0" stroke-width="0.5" fill="none"/>
<path d="M275.68 343.5H298.93M275.68 336.5H298.93M275.68 329.5H298.93M275.68 322.5H298.93M275.68 315.5H298.93M287.31 309.5V348.3" stroke="#cfcfcf" stroke-width="0.7" fill="none"/>
<rect x="278.11" y="321.8" width="18.4" height="7.7" fill="#ec1f26"/>
<rect x="275.68" y="309.5" width="23.25" height="38.8" fill="none" stroke="#464a4e" stroke-width="0.85" rx="0.2"/>
<rect x="301.71" y="309.5" width="23.25" height="38.8" fill="#fff"/>
<path d="M301.71 347H324.96M301.71 340H324.96M301.71 333H324.96M301.71 326H324.96M301.71 319H324.96M301.71 312H324.96" stroke="#e0e0e0" stroke-width="0.5" fill="none"/>
<path d="M301.71 343.5H324.96M301.71 336.5H324.96M301.71 329.5H324.96M301.71 322.5H324.96M301.71 315.5H324.96M313.34 309.5V348.3" stroke="#cfcfcf" stroke-width="0.7" fill="none"/>
<rect x="304.14" y="324.25" width="18.4" height="5.25" fill="#ec1f26"/>
<rect x="301.71" y="309.5" width="23.25" height="38.8" fill="none" stroke="#464a4e" stroke-width="0.85" rx="0.2"/>
<rect x="327.74" y="309.5" width="23.25" height="38.8" fill="#fff"/>
<path d="M327.74 347H350.99M327.74 340H350.99M327.74 333H350.99M327.74 326H350.99M327.74 319H350.99M327.74 312H350.99" stroke="#e0e0e0" stroke-width="0.5" fill="none"/>
<path d="M327.74 343.5H350.99M327.74 336.5H350.99M327.74 329.5H350.99M327.74 322.5H350.99M327.74 315.5H350.99M339.37 309.5V348.3" stroke="#cfcfcf" stroke-width="0.7" fill="none"/>
<rect x="330.17" y="314.8" width="18.4" height="14.7" fill="#ec1f26"/>
<rect x="327.74" y="309.5" width="23.25" height="38.8" fill="none" stroke="#464a4e" stroke-width="0.85" rx="0.2"/>
<rect x="378" y="309.5" width="23.9" height="38.8" fill="#fff"/>
<path d="M378 347H401.9M378 340H401.9M378 333H401.9M378 326H401.9M378 319H401.9M378 312H401.9" stroke="#e0e0e0" stroke-width="0.5" fill="none"/>
<path d="M378 343.5H401.9M378 336.5H401.9M378 329.5H401.9M378 322.5H401.9M378 315.5H401.9M389.95 309.5V348.3" stroke="#cfcfcf" stroke-width="0.7" fill="none"/>
<rect x="380.6" y="329.5" width="18.7" height="2.45" fill="#b3b5b4"/>
<rect x="378" y="309.5" width="23.9" height="38.8" fill="none" stroke="#464a4e" stroke-width="0.85" rx="0.2"/>
<rect x="404.58" y="309.5" width="23.9" height="38.8" fill="#fff"/>
<path d="M404.58 347H428.48M404.58 340H428.48M404.58 333H428.48M404.58 326H428.48M404.58 319H428.48M404.58 312H428.48" stroke="#e0e0e0" stroke-width="0.5" fill="none"/>
<path d="M404.58 343.5H428.48M404.58 336.5H428.48M404.58 329.5H428.48M404.58 322.5H428.48M404.58 315.5H428.48M416.53 309.5V348.3" stroke="#cfcfcf" stroke-width="0.7" fill="none"/>
<rect x="407.18" y="321.8" width="18.7" height="7.7" fill="#ec1f26"/>
<rect x="404.58" y="309.5" width="23.9" height="38.8" fill="none" stroke="#464a4e" stroke-width="0.85" rx="0.2"/>
<rect x="431.16" y="309.5" width="23.9" height="38.8" fill="#fff"/>
<path d="M431.16 347H455.06M431.16 340H455.06M431.16 333H455.06M431.16 326H455.06M431.16 319H455.06M431.16 312H455.06" stroke="#e0e0e0" stroke-width="0.5" fill="none"/>
<path d="M431.16 343.5H455.06M431.16 336.5H455.06M431.16 329.5H455.06M431.16 322.5H455.06M431.16 315.5H455.06M443.11 309.5V348.3" stroke="#cfcfcf" stroke-width="0.7" fill="none"/>
<rect x="433.76" y="326.7" width="18.7" height="2.8" fill="#b3b5b4"/>
<rect x="431.16" y="309.5" width="23.9" height="38.8" fill="none" stroke="#464a4e" stroke-width="0.85" rx="0.2"/>
<rect x="457.74" y="309.5" width="23.9" height="38.8" fill="#fff"/>
<path d="M457.74 347H481.64M457.74 340H481.64M457.74 333H481.64M457.74 326H481.64M457.74 319H481.64M457.74 312H481.64" stroke="#e0e0e0" stroke-width="0.5" fill="none"/>
<path d="M457.74 343.5H481.64M457.74 336.5H481.64M457.74 329.5H481.64M457.74 322.5H481.64M457.74 315.5H481.64M469.69 309.5V348.3" stroke="#cfcfcf" stroke-width="0.7" fill="none"/>
<rect x="460.34" y="329.5" width="18.7" height="2.45" fill="#b3b5b4"/>
<rect x="457.74" y="309.5" width="23.9" height="38.8" fill="none" stroke="#464a4e" stroke-width="0.85" rx="0.2"/>
<rect x="484.32" y="309.5" width="23.9" height="38.8" fill="#fff"/>
<path d="M484.32 347H508.22M484.32 340H508.22M484.32 333H508.22M484.32 326H508.22M484.32 319H508.22M484.32 312H508.22" stroke="#e0e0e0" stroke-width="0.5" fill="none"/>
<path d="M484.32 343.5H508.22M484.32 336.5H508.22M484.32 329.5H508.22M484.32 322.5H508.22M484.32 315.5H508.22M496.27 309.5V348.3" stroke="#cfcfcf" stroke-width="0.7" fill="none"/>
<rect x="486.92" y="329.5" width="18.7" height="12.6" fill="#2e3192"/>
<rect x="484.32" y="309.5" width="23.9" height="38.8" fill="none" stroke="#464a4e" stroke-width="0.85" rx="0.2"/>
<line x1="117.4" y1="315.5" x2="119.2" y2="315.5" stroke="#333" stroke-width="0.6"/>
<text x="116.3" y="318.15" font-size="7.4" text-anchor="end" fill="#000" stroke="#000" stroke-width="0.2">2</text>
<line x1="117.4" y1="322.5" x2="119.2" y2="322.5" stroke="#333" stroke-width="0.6"/>
<text x="116.3" y="325.15" font-size="7.4" text-anchor="end" fill="#000" stroke="#000" stroke-width="0.2">1</text>
<line x1="117.4" y1="329.5" x2="119.2" y2="329.5" stroke="#333" stroke-width="0.6"/>
<text x="116.3" y="332.15" font-size="7.4" text-anchor="end" fill="#000" stroke="#000" stroke-width="0.2">0</text>
<line x1="117.4" y1="336.5" x2="119.2" y2="336.5" stroke="#333" stroke-width="0.6"/>
<text x="116.3" y="339.15" font-size="7.4" text-anchor="end" fill="#000" stroke="#000" stroke-width="0.2">−1</text>
<line x1="117.4" y1="343.5" x2="119.2" y2="343.5" stroke="#333" stroke-width="0.6"/>
<text x="116.3" y="346.15" font-size="7.4" text-anchor="end" fill="#000" stroke="#000" stroke-width="0.2">−2</text>
<rect x="508.2" y="309.5" width="10.1" height="38.8" fill="#d0d0d0" stroke="#464a4e" stroke-width="0.9"/>
<text x="511.5" y="328.9" font-size="6.3" text-anchor="middle" fill="#1a1a1a" transform="rotate(90 511.5 328.9)">TLR7</text>
<text x="88.8" y="332.2" font-size="8.3" text-anchor="end" fill="#000">TLR7</text>
<line x1="131.12" y1="348.5" x2="131.12" y2="350.6" stroke="#444" stroke-width="0.6"/>
<line x1="157.16" y1="348.5" x2="157.16" y2="350.6" stroke="#444" stroke-width="0.6"/>
<line x1="183.19" y1="348.5" x2="183.19" y2="350.6" stroke="#444" stroke-width="0.6"/>
<line x1="209.22" y1="348.5" x2="209.22" y2="350.6" stroke="#444" stroke-width="0.6"/>
<line x1="235.25" y1="348.5" x2="235.25" y2="350.6" stroke="#444" stroke-width="0.6"/>
<line x1="261.27" y1="348.5" x2="261.27" y2="350.6" stroke="#444" stroke-width="0.6"/>
<line x1="287.31" y1="348.5" x2="287.31" y2="350.6" stroke="#444" stroke-width="0.6"/>
<line x1="313.34" y1="348.5" x2="313.34" y2="350.6" stroke="#444" stroke-width="0.6"/>
<line x1="339.37" y1="348.5" x2="339.37" y2="350.6" stroke="#444" stroke-width="0.6"/>
<line x1="389.95" y1="348.5" x2="389.95" y2="350.6" stroke="#444" stroke-width="0.6"/>
<line x1="416.53" y1="348.5" x2="416.53" y2="350.6" stroke="#444" stroke-width="0.6"/>
<line x1="443.11" y1="348.5" x2="443.11" y2="350.6" stroke="#444" stroke-width="0.6"/>
<line x1="469.69" y1="348.5" x2="469.69" y2="350.6" stroke="#444" stroke-width="0.6"/>
<line x1="496.27" y1="348.5" x2="496.27" y2="350.6" stroke="#444" stroke-width="0.6"/>
<rect x="119.5" y="359.8" width="23.25" height="49.8" fill="#fff"/>
<path d="M119.5 407.52H142.75M119.5 398.39H142.75M119.5 389.26H142.75M119.5 380.13H142.75M119.5 371H142.75M119.5 361.88H142.75" stroke="#e0e0e0" stroke-width="0.5" fill="none"/>
<path d="M119.5 402.96H142.75M119.5 393.83H142.75M119.5 384.7H142.75M119.5 375.57H142.75M119.5 366.44H142.75M131.12 359.8V409.6" stroke="#cfcfcf" stroke-width="0.7" fill="none"/>
<line x1="131.12" y1="361.8" x2="131.12" y2="382.05" stroke="#ec1f26" stroke-width="1.7"/>
<rect x="123.42" y="369.3" width="15.4" height="10.25" fill="#ec1f26"/>
<rect x="119.5" y="359.8" width="23.25" height="49.8" fill="none" stroke="#464a4e" stroke-width="0.85" rx="0.2"/>
<rect x="145.53" y="359.8" width="23.25" height="49.8" fill="#fff"/>
<path d="M145.53 407.52H168.78M145.53 398.39H168.78M145.53 389.26H168.78M145.53 380.13H168.78M145.53 371H168.78M145.53 361.88H168.78" stroke="#e0e0e0" stroke-width="0.5" fill="none"/>
<path d="M145.53 402.96H168.78M145.53 393.83H168.78M145.53 384.7H168.78M145.53 375.57H168.78M145.53 366.44H168.78M157.16 359.8V409.6" stroke="#cfcfcf" stroke-width="0.7" fill="none"/>
<line x1="157.16" y1="363.05" x2="157.16" y2="383.8" stroke="#ec1f26" stroke-width="1.7"/>
<rect x="149.46" y="368.05" width="15.4" height="10" fill="#ec1f26"/>
<rect x="145.53" y="359.8" width="23.25" height="49.8" fill="none" stroke="#464a4e" stroke-width="0.85" rx="0.2"/>
<rect x="171.56" y="359.8" width="23.25" height="49.8" fill="#fff"/>
<path d="M171.56 407.52H194.81M171.56 398.39H194.81M171.56 389.26H194.81M171.56 380.13H194.81M171.56 371H194.81M171.56 361.88H194.81" stroke="#e0e0e0" stroke-width="0.5" fill="none"/>
<path d="M171.56 402.96H194.81M171.56 393.83H194.81M171.56 384.7H194.81M171.56 375.57H194.81M171.56 366.44H194.81M183.19 359.8V409.6" stroke="#cfcfcf" stroke-width="0.7" fill="none"/>
<line x1="183.19" y1="367.55" x2="183.19" y2="383.05" stroke="#ec1f26" stroke-width="1.7"/>
<rect x="175.49" y="372.05" width="15.4" height="7.5" fill="#ec1f26"/>
<rect x="171.56" y="359.8" width="23.25" height="49.8" fill="none" stroke="#464a4e" stroke-width="0.85" rx="0.2"/>
<rect x="197.59" y="359.8" width="23.25" height="49.8" fill="#fff"/>
<path d="M197.59 407.52H220.84M197.59 398.39H220.84M197.59 389.26H220.84M197.59 380.13H220.84M197.59 371H220.84M197.59 361.88H220.84" stroke="#e0e0e0" stroke-width="0.5" fill="none"/>
<path d="M197.59 402.96H220.84M197.59 393.83H220.84M197.59 384.7H220.84M197.59 375.57H220.84M197.59 366.44H220.84M209.22 359.8V409.6" stroke="#cfcfcf" stroke-width="0.7" fill="none"/>
<line x1="209.22" y1="364.3" x2="209.22" y2="385.05" stroke="#ec1f26" stroke-width="1.7"/>
<rect x="201.52" y="369.55" width="15.4" height="9.25" fill="#ec1f26"/>
<rect x="197.59" y="359.8" width="23.25" height="49.8" fill="none" stroke="#464a4e" stroke-width="0.85" rx="0.2"/>
<rect x="223.62" y="359.8" width="23.25" height="49.8" fill="#fff"/>
<path d="M223.62 407.52H246.87M223.62 398.39H246.87M223.62 389.26H246.87M223.62 380.13H246.87M223.62 371H246.87M223.62 361.88H246.87" stroke="#e0e0e0" stroke-width="0.5" fill="none"/>
<path d="M223.62 402.96H246.87M223.62 393.83H246.87M223.62 384.7H246.87M223.62 375.57H246.87M223.62 366.44H246.87M235.25 359.8V409.6" stroke="#cfcfcf" stroke-width="0.7" fill="none"/>
<line x1="235.25" y1="362.6" x2="235.25" y2="378.6" stroke="#ec1f26" stroke-width="1.7"/>
<rect x="227.55" y="365.55" width="15.4" height="8.25" fill="#ec1f26"/>
<circle cx="235.25" cy="362.6" r="1.65" fill="#ec1f26"/>
<rect x="223.62" y="359.8" width="23.25" height="49.8" fill="none" stroke="#464a4e" stroke-width="0.85" rx="0.2"/>
<rect x="249.65" y="359.8" width="23.25" height="49.8" fill="#fff"/>
<path d="M249.65 407.52H272.9M249.65 398.39H272.9M249.65 389.26H272.9M249.65 380.13H272.9M249.65 371H272.9M249.65 361.88H272.9" stroke="#e0e0e0" stroke-width="0.5" fill="none"/>
<path d="M249.65 402.96H272.9M249.65 393.83H272.9M249.65 384.7H272.9M249.65 375.57H272.9M249.65 366.44H272.9M261.27 359.8V409.6" stroke="#cfcfcf" stroke-width="0.7" fill="none"/>
<line x1="261.27" y1="371.8" x2="261.27" y2="392.05" stroke="#b3b5b4" stroke-width="1.7"/>
<rect x="253.57" y="379.3" width="15.4" height="6.25" fill="#b3b5b4"/>
<rect x="249.65" y="359.8" width="23.25" height="49.8" fill="none" stroke="#464a4e" stroke-width="0.85" rx="0.2"/>
<rect x="275.68" y="359.8" width="23.25" height="49.8" fill="#fff"/>
<path d="M275.68 407.52H298.93M275.68 398.39H298.93M275.68 389.26H298.93M275.68 380.13H298.93M275.68 371H298.93M275.68 361.88H298.93" stroke="#e0e0e0" stroke-width="0.5" fill="none"/>
<path d="M275.68 402.96H298.93M275.68 393.83H298.93M275.68 384.7H298.93M275.68 375.57H298.93M275.68 366.44H298.93M287.31 359.8V409.6" stroke="#cfcfcf" stroke-width="0.7" fill="none"/>
<line x1="287.31" y1="370.55" x2="287.31" y2="393.8" stroke="#ec1f26" stroke-width="1.7"/>
<rect x="279.61" y="374.55" width="15.4" height="9.25" fill="#ec1f26"/>
<circle cx="287.31" cy="398.05" r="1.65" fill="#ec1f26"/>
<rect x="275.68" y="359.8" width="23.25" height="49.8" fill="none" stroke="#464a4e" stroke-width="0.85" rx="0.2"/>
<rect x="301.71" y="359.8" width="23.25" height="49.8" fill="#fff"/>
<path d="M301.71 407.52H324.96M301.71 398.39H324.96M301.71 389.26H324.96M301.71 380.13H324.96M301.71 371H324.96M301.71 361.88H324.96" stroke="#e0e0e0" stroke-width="0.5" fill="none"/>
<path d="M301.71 402.96H324.96M301.71 393.83H324.96M301.71 384.7H324.96M301.71 375.57H324.96M301.71 366.44H324.96M313.34 359.8V409.6" stroke="#cfcfcf" stroke-width="0.7" fill="none"/>
<line x1="313.34" y1="362.55" x2="313.34" y2="384.55" stroke="#ec1f26" stroke-width="1.7"/>
<rect x="305.64" y="373.3" width="15.4" height="8.75" fill="#ec1f26"/>
<rect x="301.71" y="359.8" width="23.25" height="49.8" fill="none" stroke="#464a4e" stroke-width="0.85" rx="0.2"/>
<rect x="327.74" y="359.8" width="23.25" height="49.8" fill="#fff"/>
<path d="M327.74 407.52H350.99M327.74 398.39H350.99M327.74 389.26H350.99M327.74 380.13H350.99M327.74 371H350.99M327.74 361.88H350.99" stroke="#e0e0e0" stroke-width="0.5" fill="none"/>
<path d="M327.74 402.96H350.99M327.74 393.83H350.99M327.74 384.7H350.99M327.74 375.57H350.99M327.74 366.44H350.99M339.37 359.8V409.6" stroke="#cfcfcf" stroke-width="0.7" fill="none"/>
<line x1="339.37" y1="366.8" x2="339.37" y2="394.55" stroke="#ec1f26" stroke-width="1.7"/>
<rect x="331.67" y="371.8" width="15.4" height="10.25" fill="#ec1f26"/>
<rect x="327.74" y="359.8" width="23.25" height="49.8" fill="none" stroke="#464a4e" stroke-width="0.85" rx="0.2"/>
<rect x="378" y="359.8" width="23.9" height="49.8" fill="#fff"/>
<path d="M378 407.52H401.9M378 398.39H401.9M378 389.26H401.9M378 380.13H401.9M378 371H401.9M378 361.88H401.9" stroke="#e0e0e0" stroke-width="0.5" fill="none"/>
<path d="M378 402.96H401.9M378 393.83H401.9M378 384.7H401.9M378 375.57H401.9M378 366.44H401.9M389.95 359.8V409.6" stroke="#cfcfcf" stroke-width="0.7" fill="none"/>
<line x1="389.95" y1="362.3" x2="389.95" y2="383.3" stroke="#ec1f26" stroke-width="1.7"/>
<rect x="382.15" y="372.5" width="15.6" height="7.5" fill="#ec1f26"/>
<circle cx="389.95" cy="361.3" r="1.65" fill="#ec1f26"/>
<rect x="378" y="359.8" width="23.9" height="49.8" fill="none" stroke="#464a4e" stroke-width="0.85" rx="0.2"/>
<rect x="404.58" y="359.8" width="23.9" height="49.8" fill="#fff"/>
<path d="M404.58 407.52H428.48M404.58 398.39H428.48M404.58 389.26H428.48M404.58 380.13H428.48M404.58 371H428.48M404.58 361.88H428.48" stroke="#e0e0e0" stroke-width="0.5" fill="none"/>
<path d="M404.58 402.96H428.48M404.58 393.83H428.48M404.58 384.7H428.48M404.58 375.57H428.48M404.58 366.44H428.48M416.53 359.8V409.6" stroke="#cfcfcf" stroke-width="0.7" fill="none"/>
<line x1="416.53" y1="377.8" x2="416.53" y2="391.3" stroke="#b3b5b4" stroke-width="1.7"/>
<rect x="408.73" y="381.9" width="15.6" height="4.8" fill="#b3b5b4"/>
<circle cx="416.53" cy="373" r="1.65" fill="#b3b5b4"/>
<rect x="404.58" y="359.8" width="23.9" height="49.8" fill="none" stroke="#464a4e" stroke-width="0.85" rx="0.2"/>
<rect x="431.16" y="359.8" width="23.9" height="49.8" fill="#fff"/>
<path d="M431.16 407.52H455.06M431.16 398.39H455.06M431.16 389.26H455.06M431.16 380.13H455.06M431.16 371H455.06M431.16 361.88H455.06" stroke="#e0e0e0" stroke-width="0.5" fill="none"/>
<path d="M431.16 402.96H455.06M431.16 393.83H455.06M431.16 384.7H455.06M431.16 375.57H455.06M431.16 366.44H455.06M443.11 359.8V409.6" stroke="#cfcfcf" stroke-width="0.7" fill="none"/>
<line x1="443.11" y1="382.7" x2="443.11" y2="391.3" stroke="#b3b5b4" stroke-width="1.7"/>
<rect x="435.31" y="384.6" width="15.6" height="4.5" fill="#b3b5b4"/>
<rect x="431.16" y="359.8" width="23.9" height="49.8" fill="none" stroke="#464a4e" stroke-width="0.85" rx="0.2"/>
<rect x="457.74" y="359.8" width="23.9" height="49.8" fill="#fff"/>
<path d="M457.74 407.52H481.64M457.74 398.39H481.64M457.74 389.26H481.64M457.74 380.13H481.64M457.74 371H481.64M457.74 361.88H481.64" stroke="#e0e0e0" stroke-width="0.5" fill="none"/>
<path d="M457.74 402.96H481.64M457.74 393.83H481.64M457.74 384.7H481.64M457.74 375.57H481.64M457.74 366.44H481.64M469.69 359.8V409.6" stroke="#cfcfcf" stroke-width="0.7" fill="none"/>
<line x1="469.69" y1="381.1" x2="469.69" y2="396.7" stroke="#b3b5b4" stroke-width="1.7"/>
<rect x="461.89" y="384" width="15.6" height="5.1" fill="#b3b5b4"/>
<circle cx="469.69" cy="397.9" r="1.65" fill="#b3b5b4"/>
<circle cx="469.69" cy="400.1" r="1.65" fill="#b3b5b4"/>
<rect x="457.74" y="359.8" width="23.9" height="49.8" fill="none" stroke="#464a4e" stroke-width="0.85" rx="0.2"/>
<rect x="484.32" y="359.8" width="23.9" height="49.8" fill="#fff"/>
<path d="M484.32 407.52H508.22M484.32 398.39H508.22M484.32 389.26H508.22M484.32 380.13H508.22M484.32 371H508.22M484.32 361.88H508.22" stroke="#e0e0e0" stroke-width="0.5" fill="none"/>
<path d="M484.32 402.96H508.22M484.32 393.83H508.22M484.32 384.7H508.22M484.32 375.57H508.22M484.32 366.44H508.22M496.27 359.8V409.6" stroke="#cfcfcf" stroke-width="0.7" fill="none"/>
<line x1="496.27" y1="379.2" x2="496.27" y2="403.4" stroke="#2e3192" stroke-width="1.7"/>
<rect x="488.47" y="385.1" width="15.6" height="10.8" fill="#2e3192"/>
<rect x="484.32" y="359.8" width="23.9" height="49.8" fill="none" stroke="#464a4e" stroke-width="0.85" rx="0.2"/>
<line x1="117.4" y1="366.44" x2="119.2" y2="366.44" stroke="#333" stroke-width="0.6"/>
<text x="116.3" y="369.09" font-size="7.4" text-anchor="end" fill="#000" stroke="#000" stroke-width="0.2">2</text>
<line x1="117.4" y1="375.57" x2="119.2" y2="375.57" stroke="#333" stroke-width="0.6"/>
<text x="116.3" y="378.22" font-size="7.4" text-anchor="end" fill="#000" stroke="#000" stroke-width="0.2">1</text>
<line x1="117.4" y1="384.7" x2="119.2" y2="384.7" stroke="#333" stroke-width="0.6"/>
<text x="116.3" y="387.35" font-size="7.4" text-anchor="end" fill="#000" stroke="#000" stroke-width="0.2">0</text>
<line x1="117.4" y1="393.83" x2="119.2" y2="393.83" stroke="#333" stroke-width="0.6"/>
<text x="116.3" y="396.48" font-size="7.4" text-anchor="end" fill="#000" stroke="#000" stroke-width="0.2">−1</text>
<line x1="117.4" y1="402.96" x2="119.2" y2="402.96" stroke="#333" stroke-width="0.6"/>
<text x="116.3" y="405.61" font-size="7.4" text-anchor="end" fill="#000" stroke="#000" stroke-width="0.2">−2</text>
<rect x="508.2" y="359.8" width="10.1" height="49.8" fill="#d0d0d0" stroke="#464a4e" stroke-width="0.9"/>
<text x="511.5" y="384.7" font-size="6.3" text-anchor="middle" fill="#1a1a1a" transform="rotate(90 511.5 384.7)">Type I IFN</text>
<text x="88.8" y="387.6" font-size="8.3" text-anchor="end" fill="#000">Type I IFN</text>
<rect x="119.5" y="413.7" width="23.25" height="49.8" fill="#fff"/>
<path d="M119.5 461.52H142.75M119.5 452.39H142.75M119.5 443.26H142.75M119.5 434.13H142.75M119.5 425H142.75M119.5 415.88H142.75" stroke="#e0e0e0" stroke-width="0.5" fill="none"/>
<path d="M119.5 456.96H142.75M119.5 447.83H142.75M119.5 438.7H142.75M119.5 429.57H142.75M119.5 420.44H142.75M131.12 413.7V463.5" stroke="#cfcfcf" stroke-width="0.7" fill="none"/>
<line x1="131.12" y1="420.2" x2="131.12" y2="442.2" stroke="#ec1f26" stroke-width="1.7"/>
<rect x="123.42" y="428.95" width="15.4" height="8.75" fill="#ec1f26"/>
<rect x="119.5" y="413.7" width="23.25" height="49.8" fill="none" stroke="#464a4e" stroke-width="0.85" rx="0.2"/>
<rect x="145.53" y="413.7" width="23.25" height="49.8" fill="#fff"/>
<path d="M145.53 461.52H168.78M145.53 452.39H168.78M145.53 443.26H168.78M145.53 434.13H168.78M145.53 425H168.78M145.53 415.88H168.78" stroke="#e0e0e0" stroke-width="0.5" fill="none"/>
<path d="M145.53 456.96H168.78M145.53 447.83H168.78M145.53 438.7H168.78M145.53 429.57H168.78M145.53 420.44H168.78M157.16 413.7V463.5" stroke="#cfcfcf" stroke-width="0.7" fill="none"/>
<line x1="157.16" y1="419.7" x2="157.16" y2="445.95" stroke="#ec1f26" stroke-width="1.7"/>
<rect x="149.46" y="427.7" width="15.4" height="8.75" fill="#ec1f26"/>
<rect x="145.53" y="413.7" width="23.25" height="49.8" fill="none" stroke="#464a4e" stroke-width="0.85" rx="0.2"/>
<rect x="171.56" y="413.7" width="23.25" height="49.8" fill="#fff"/>
<path d="M171.56 461.52H194.81M171.56 452.39H194.81M171.56 443.26H194.81M171.56 434.13H194.81M171.56 425H194.81M171.56 415.88H194.81" stroke="#e0e0e0" stroke-width="0.5" fill="none"/>
<path d="M171.56 456.96H194.81M171.56 447.83H194.81M171.56 438.7H194.81M171.56 429.57H194.81M171.56 420.44H194.81M183.19 413.7V463.5" stroke="#cfcfcf" stroke-width="0.7" fill="none"/>
<line x1="183.19" y1="428.2" x2="183.19" y2="443.95" stroke="#b3b5b4" stroke-width="1.7"/>
<rect x="175.49" y="433.95" width="15.4" height="5" fill="#b3b5b4"/>
<circle cx="183.19" cy="448.2" r="1.65" fill="#b3b5b4"/>
<rect x="171.56" y="413.7" width="23.25" height="49.8" fill="none" stroke="#464a4e" stroke-width="0.85" rx="0.2"/>
<rect x="197.59" y="413.7" width="23.25" height="49.8" fill="#fff"/>
<path d="M197.59 461.52H220.84M197.59 452.39H220.84M197.59 443.26H220.84M197.59 434.13H220.84M197.59 425H220.84M197.59 415.88H220.84" stroke="#e0e0e0" stroke-width="0.5" fill="none"/>
<path d="M197.59 456.96H220.84M197.59 447.83H220.84M197.59 438.7H220.84M197.59 429.57H220.84M197.59 420.44H220.84M209.22 413.7V463.5" stroke="#cfcfcf" stroke-width="0.7" fill="none"/>
<line x1="209.22" y1="421.45" x2="209.22" y2="443.95" stroke="#ec1f26" stroke-width="1.7"/>
<rect x="201.52" y="430.2" width="15.4" height="7.5" fill="#ec1f26"/>
<rect x="197.59" y="413.7" width="23.25" height="49.8" fill="none" stroke="#464a4e" stroke-width="0.85" rx="0.2"/>
<rect x="223.62" y="413.7" width="23.25" height="49.8" fill="#fff"/>
<path d="M223.62 461.52H246.87M223.62 452.39H246.87M223.62 443.26H246.87M223.62 434.13H246.87M223.62 425H246.87M223.62 415.88H246.87" stroke="#e0e0e0" stroke-width="0.5" fill="none"/>
<path d="M223.62 456.96H246.87M223.62 447.83H246.87M223.62 438.7H246.87M223.62 429.57H246.87M223.62 420.44H246.87M235.25 413.7V463.5" stroke="#cfcfcf" stroke-width="0.7" fill="none"/>
<line x1="235.25" y1="416.45" x2="235.25" y2="451.45" stroke="#ec1f26" stroke-width="1.7"/>
<rect x="227.55" y="425.2" width="15.4" height="15.5" fill="#ec1f26"/>
<rect x="223.62" y="413.7" width="23.25" height="49.8" fill="none" stroke="#464a4e" stroke-width="0.85" rx="0.2"/>
<rect x="249.65" y="413.7" width="23.25" height="49.8" fill="#fff"/>
<path d="M249.65 461.52H272.9M249.65 452.39H272.9M249.65 443.26H272.9M249.65 434.13H272.9M249.65 425H272.9M249.65 415.88H272.9" stroke="#e0e0e0" stroke-width="0.5" fill="none"/>
<path d="M249.65 456.96H272.9M249.65 447.83H272.9M249.65 438.7H272.9M249.65 429.57H272.9M249.65 420.44H272.9M261.27 413.7V463.5" stroke="#cfcfcf" stroke-width="0.7" fill="none"/>
<line x1="261.27" y1="423.95" x2="261.27" y2="441.45" stroke="#ec1f26" stroke-width="1.7"/>
<rect x="253.57" y="426.45" width="15.4" height="8.25" fill="#ec1f26"/>
<rect x="249.65" y="413.7" width="23.25" height="49.8" fill="none" stroke="#464a4e" stroke-width="0.85" rx="0.2"/>
<rect x="275.68" y="413.7" width="23.25" height="49.8" fill="#fff"/>
<path d="M275.68 461.52H298.93M275.68 452.39H298.93M275.68 443.26H298.93M275.68 434.13H298.93M275.68 425H298.93M275.68 415.88H298.93" stroke="#e0e0e0" stroke-width="0.5" fill="none"/>
<path d="M275.68 456.96H298.93M275.68 447.83H298.93M275.68 438.7H298.93M275.68 429.57H298.93M275.68 420.44H298.93M287.31 413.7V463.5" stroke="#cfcfcf" stroke-width="0.7" fill="none"/>
<line x1="287.31" y1="428.95" x2="287.31" y2="447.7" stroke="#b3b5b4" stroke-width="1.7"/>
<rect x="279.61" y="432.7" width="15.4" height="6.25" fill="#b3b5b4"/>
<circle cx="287.31" cy="449.7" r="1.65" fill="#b3b5b4"/>
<rect x="275.68" y="413.7" width="23.25" height="49.8" fill="none" stroke="#464a4e" stroke-width="0.85" rx="0.2"/>
<rect x="301.71" y="413.7" width="23.25" height="49.8" fill="#fff"/>
<path d="M301.71 461.52H324.96M301.71 452.39H324.96M301.71 443.26H324.96M301.71 434.13H324.96M301.71 425H324.96M301.71 415.88H324.96" stroke="#e0e0e0" stroke-width="0.5" fill="none"/>
<path d="M301.71 456.96H324.96M301.71 447.83H324.96M301.71 438.7H324.96M301.71 429.57H324.96M301.71 420.44H324.96M313.34 413.7V463.5" stroke="#cfcfcf" stroke-width="0.7" fill="none"/>
<line x1="313.34" y1="432.7" x2="313.34" y2="445.2" stroke="#b3b5b4" stroke-width="1.7"/>
<rect x="305.64" y="435.95" width="15.4" height="3.5" fill="#b3b5b4"/>
<circle cx="313.34" cy="430.7" r="1.65" fill="#b3b5b4"/>
<circle cx="313.34" cy="446.45" r="1.65" fill="#b3b5b4"/>
<rect x="301.71" y="413.7" width="23.25" height="49.8" fill="none" stroke="#464a4e" stroke-width="0.85" rx="0.2"/>
<rect x="327.74" y="413.7" width="23.25" height="49.8" fill="#fff"/>
<path d="M327.74 461.52H350.99M327.74 452.39H350.99M327.74 443.26H350.99M327.74 434.13H350.99M327.74 425H350.99M327.74 415.88H350.99" stroke="#e0e0e0" stroke-width="0.5" fill="none"/>
<path d="M327.74 456.96H350.99M327.74 447.83H350.99M327.74 438.7H350.99M327.74 429.57H350.99M327.74 420.44H350.99M339.37 413.7V463.5" stroke="#cfcfcf" stroke-width="0.7" fill="none"/>
<line x1="339.37" y1="418.45" x2="339.37" y2="449.45" stroke="#ec1f26" stroke-width="1.7"/>
<rect x="331.67" y="428.95" width="15.4" height="9.5" fill="#ec1f26"/>
<rect x="327.74" y="413.7" width="23.25" height="49.8" fill="none" stroke="#464a4e" stroke-width="0.85" rx="0.2"/>
<rect x="378" y="413.7" width="23.9" height="49.8" fill="#fff"/>
<path d="M378 461.52H401.9M378 452.39H401.9M378 443.26H401.9M378 434.13H401.9M378 425H401.9M378 415.88H401.9" stroke="#e0e0e0" stroke-width="0.5" fill="none"/>
<path d="M378 456.96H401.9M378 447.83H401.9M378 438.7H401.9M378 429.57H401.9M378 420.44H401.9M389.95 413.7V463.5" stroke="#cfcfcf" stroke-width="0.7" fill="none"/>
<line x1="389.95" y1="416.9" x2="389.95" y2="456" stroke="#b3b5b4" stroke-width="1.7"/>
<rect x="382.15" y="430.4" width="15.6" height="10.8" fill="#b3b5b4"/>
<rect x="378" y="413.7" width="23.9" height="49.8" fill="none" stroke="#464a4e" stroke-width="0.85" rx="0.2"/>
<rect x="404.58" y="413.7" width="23.9" height="49.8" fill="#fff"/>
<path d="M404.58 461.52H428.48M404.58 452.39H428.48M404.58 443.26H428.48M404.58 434.13H428.48M404.58 425H428.48M404.58 415.88H428.48" stroke="#e0e0e0" stroke-width="0.5" fill="none"/>
<path d="M404.58 456.96H428.48M404.58 447.83H428.48M404.58 438.7H428.48M404.58 429.57H428.48M404.58 420.44H428.48M416.53 413.7V463.5" stroke="#cfcfcf" stroke-width="0.7" fill="none"/>
<line x1="416.53" y1="429" x2="416.53" y2="445.2" stroke="#b3b5b4" stroke-width="1.7"/>
<rect x="408.73" y="434.4" width="15.6" height="6.2" fill="#b3b5b4"/>
<circle cx="416.53" cy="425" r="1.65" fill="#b3b5b4"/>
<rect x="404.58" y="413.7" width="23.9" height="49.8" fill="none" stroke="#464a4e" stroke-width="0.85" rx="0.2"/>
<rect x="431.16" y="413.7" width="23.9" height="49.8" fill="#fff"/>
<path d="M431.16 461.52H455.06M431.16 452.39H455.06M431.16 443.26H455.06M431.16 434.13H455.06M431.16 425H455.06M431.16 415.88H455.06" stroke="#e0e0e0" stroke-width="0.5" fill="none"/>
<path d="M431.16 456.96H455.06M431.16 447.83H455.06M431.16 438.7H455.06M431.16 429.57H455.06M431.16 420.44H455.06M443.11 413.7V463.5" stroke="#cfcfcf" stroke-width="0.7" fill="none"/>
<line x1="443.11" y1="433.9" x2="443.11" y2="443.3" stroke="#b3b5b4" stroke-width="1.7"/>
<rect x="435.31" y="437.1" width="15.6" height="3.5" fill="#b3b5b4"/>
<circle cx="443.11" cy="431.7" r="1.65" fill="#b3b5b4"/>
<rect x="431.16" y="413.7" width="23.9" height="49.8" fill="none" stroke="#464a4e" stroke-width="0.85" rx="0.2"/>
<rect x="457.74" y="413.7" width="23.9" height="49.8" fill="#fff"/>
<path d="M457.74 461.52H481.64M457.74 452.39H481.64M457.74 443.26H481.64M457.74 434.13H481.64M457.74 425H481.64M457.74 415.88H481.64" stroke="#e0e0e0" stroke-width="0.5" fill="none"/>
<path d="M457.74 456.96H481.64M457.74 447.83H481.64M457.74 438.7H481.64M457.74 429.57H481.64M457.74 420.44H481.64M469.69 413.7V463.5" stroke="#cfcfcf" stroke-width="0.7" fill="none"/>
<line x1="469.69" y1="429" x2="469.69" y2="453.2" stroke="#b3b5b4" stroke-width="1.7"/>
<rect x="461.89" y="438.5" width="15.6" height="6.7" fill="#b3b5b4"/>
<circle cx="469.69" cy="422.9" r="1.65" fill="#b3b5b4"/>
<circle cx="469.69" cy="425.5" r="1.65" fill="#b3b5b4"/>
<circle cx="469.69" cy="457.3" r="1.65" fill="#b3b5b4"/>
<rect x="457.74" y="413.7" width="23.9" height="49.8" fill="none" stroke="#464a4e" stroke-width="0.85" rx="0.2"/>
<rect x="484.32" y="413.7" width="23.9" height="49.8" fill="#fff"/>
<path d="M484.32 461.52H508.22M484.32 452.39H508.22M484.32 443.26H508.22M484.32 434.13H508.22M484.32 425H508.22M484.32 415.88H508.22" stroke="#e0e0e0" stroke-width="0.5" fill="none"/>
<path d="M484.32 456.96H508.22M484.32 447.83H508.22M484.32 438.7H508.22M484.32 429.57H508.22M484.32 420.44H508.22M496.27 413.7V463.5" stroke="#cfcfcf" stroke-width="0.7" fill="none"/>
<line x1="496.27" y1="427.7" x2="496.27" y2="458.7" stroke="#2e3192" stroke-width="1.7"/>
<rect x="488.47" y="439.2" width="15.6" height="8.7" fill="#2e3192"/>
<circle cx="496.27" cy="460.5" r="1.65" fill="#2e3192"/>
<rect x="484.32" y="413.7" width="23.9" height="49.8" fill="none" stroke="#464a4e" stroke-width="0.85" rx="0.2"/>
<line x1="117.4" y1="420.44" x2="119.2" y2="420.44" stroke="#333" stroke-width="0.6"/>
<text x="116.3" y="423.09" font-size="7.4" text-anchor="end" fill="#000" stroke="#000" stroke-width="0.2">2</text>
<line x1="117.4" y1="429.57" x2="119.2" y2="429.57" stroke="#333" stroke-width="0.6"/>
<text x="116.3" y="432.22" font-size="7.4" text-anchor="end" fill="#000" stroke="#000" stroke-width="0.2">1</text>
<line x1="117.4" y1="438.7" x2="119.2" y2="438.7" stroke="#333" stroke-width="0.6"/>
<text x="116.3" y="441.35" font-size="7.4" text-anchor="end" fill="#000" stroke="#000" stroke-width="0.2">0</text>
<line x1="117.4" y1="447.83" x2="119.2" y2="447.83" stroke="#333" stroke-width="0.6"/>
<text x="116.3" y="450.48" font-size="7.4" text-anchor="end" fill="#000" stroke="#000" stroke-width="0.2">−1</text>
<line x1="117.4" y1="456.96" x2="119.2" y2="456.96" stroke="#333" stroke-width="0.6"/>
<text x="116.3" y="459.61" font-size="7.4" text-anchor="end" fill="#000" stroke="#000" stroke-width="0.2">−2</text>
<rect x="508.2" y="413.7" width="10.1" height="49.8" fill="#d0d0d0" stroke="#464a4e" stroke-width="0.9"/>
<text x="511.5" y="438.6" font-size="6.3" text-anchor="middle" fill="#1a1a1a" transform="rotate(90 511.5 438.6)">IFNγ CPI</text>
<text x="88.8" y="441.6" font-size="8.3" text-anchor="end" fill="#000">IFNγ CPI</text>
<rect x="119.5" y="468" width="23.25" height="49.8" fill="#fff"/>
<path d="M119.5 515.83H142.75M119.5 506.69H142.75M119.5 497.56H142.75M119.5 488.44H142.75M119.5 479.31H142.75M119.5 470.18H142.75" stroke="#e0e0e0" stroke-width="0.5" fill="none"/>
<path d="M119.5 511.26H142.75M119.5 502.13H142.75M119.5 493H142.75M119.5 483.87H142.75M119.5 474.74H142.75M131.12 468V517.8" stroke="#cfcfcf" stroke-width="0.7" fill="none"/>
<line x1="131.12" y1="477" x2="131.12" y2="494.5" stroke="#ec1f26" stroke-width="1.7"/>
<rect x="123.42" y="482.5" width="15.4" height="6.5" fill="#ec1f26"/>
<rect x="119.5" y="468" width="23.25" height="49.8" fill="none" stroke="#464a4e" stroke-width="0.85" rx="0.2"/>
<rect x="145.53" y="468" width="23.25" height="49.8" fill="#fff"/>
<path d="M145.53 515.83H168.78M145.53 506.69H168.78M145.53 497.56H168.78M145.53 488.44H168.78M145.53 479.31H168.78M145.53 470.18H168.78" stroke="#e0e0e0" stroke-width="0.5" fill="none"/>
<path d="M145.53 511.26H168.78M145.53 502.13H168.78M145.53 493H168.78M145.53 483.87H168.78M145.53 474.74H168.78M157.16 468V517.8" stroke="#cfcfcf" stroke-width="0.7" fill="none"/>
<line x1="157.16" y1="474.5" x2="157.16" y2="495" stroke="#ec1f26" stroke-width="1.7"/>
<rect x="149.46" y="481.5" width="15.4" height="7.25" fill="#ec1f26"/>
<circle cx="157.16" cy="470.75" r="1.65" fill="#ec1f26"/>
<rect x="145.53" y="468" width="23.25" height="49.8" fill="none" stroke="#464a4e" stroke-width="0.85" rx="0.2"/>
<rect x="171.56" y="468" width="23.25" height="49.8" fill="#fff"/>
<path d="M171.56 515.83H194.81M171.56 506.69H194.81M171.56 497.56H194.81M171.56 488.44H194.81M171.56 479.31H194.81M171.56 470.18H194.81" stroke="#e0e0e0" stroke-width="0.5" fill="none"/>
<path d="M171.56 511.26H194.81M171.56 502.13H194.81M171.56 493H194.81M171.56 483.87H194.81M171.56 474.74H194.81M183.19 468V517.8" stroke="#cfcfcf" stroke-width="0.7" fill="none"/>
<line x1="183.19" y1="484.5" x2="183.19" y2="497" stroke="#b3b5b4" stroke-width="1.7"/>
<rect x="175.49" y="486.1" width="15.4" height="6.2" fill="#b3b5b4"/>
<rect x="171.56" y="468" width="23.25" height="49.8" fill="none" stroke="#464a4e" stroke-width="0.85" rx="0.2"/>
<rect x="197.59" y="468" width="23.25" height="49.8" fill="#fff"/>
<path d="M197.59 515.83H220.84M197.59 506.69H220.84M197.59 497.56H220.84M197.59 488.44H220.84M197.59 479.31H220.84M197.59 470.18H220.84" stroke="#e0e0e0" stroke-width="0.5" fill="none"/>
<path d="M197.59 511.26H220.84M197.59 502.13H220.84M197.59 493H220.84M197.59 483.87H220.84M197.59 474.74H220.84M209.22 468V517.8" stroke="#cfcfcf" stroke-width="0.7" fill="none"/>
<line x1="209.22" y1="482" x2="209.22" y2="495" stroke="#b3b5b4" stroke-width="1.7"/>
<rect x="201.52" y="486.6" width="15.4" height="5.4" fill="#b3b5b4"/>
<circle cx="209.22" cy="475.75" r="1.65" fill="#b3b5b4"/>
<circle cx="209.22" cy="479" r="1.65" fill="#b3b5b4"/>
<rect x="197.59" y="468" width="23.25" height="49.8" fill="none" stroke="#464a4e" stroke-width="0.85" rx="0.2"/>
<rect x="223.62" y="468" width="23.25" height="49.8" fill="#fff"/>
<path d="M223.62 515.83H246.87M223.62 506.69H246.87M223.62 497.56H246.87M223.62 488.44H246.87M223.62 479.31H246.87M223.62 470.18H246.87" stroke="#e0e0e0" stroke-width="0.5" fill="none"/>
<path d="M223.62 511.26H246.87M223.62 502.13H246.87M223.62 493H246.87M223.62 483.87H246.87M223.62 474.74H246.87M235.25 468V517.8" stroke="#cfcfcf" stroke-width="0.7" fill="none"/>
<line x1="235.25" y1="470.75" x2="235.25" y2="508.25" stroke="#b3b5b4" stroke-width="1.7"/>
<rect x="227.55" y="486.5" width="15.4" height="11.75" fill="#b3b5b4"/>
<rect x="223.62" y="468" width="23.25" height="49.8" fill="none" stroke="#464a4e" stroke-width="0.85" rx="0.2"/>
<rect x="249.65" y="468" width="23.25" height="49.8" fill="#fff"/>
<path d="M249.65 515.83H272.9M249.65 506.69H272.9M249.65 497.56H272.9M249.65 488.44H272.9M249.65 479.31H272.9M249.65 470.18H272.9" stroke="#e0e0e0" stroke-width="0.5" fill="none"/>
<path d="M249.65 511.26H272.9M249.65 502.13H272.9M249.65 493H272.9M249.65 483.87H272.9M249.65 474.74H272.9M261.27 468V517.8" stroke="#cfcfcf" stroke-width="0.7" fill="none"/>
<line x1="261.27" y1="472.75" x2="261.27" y2="489.5" stroke="#ec1f26" stroke-width="1.7"/>
<rect x="253.57" y="476.25" width="15.4" height="7" fill="#ec1f26"/>
<circle cx="261.27" cy="493.25" r="1.65" fill="#ec1f26"/>
<circle cx="261.27" cy="495.75" r="1.65" fill="#ec1f26"/>
<rect x="249.65" y="468" width="23.25" height="49.8" fill="none" stroke="#464a4e" stroke-width="0.85" rx="0.2"/>
<rect x="275.68" y="468" width="23.25" height="49.8" fill="#fff"/>
<path d="M275.68 515.83H298.93M275.68 506.69H298.93M275.68 497.56H298.93M275.68 488.44H298.93M275.68 479.31H298.93M275.68 470.18H298.93" stroke="#e0e0e0" stroke-width="0.5" fill="none"/>
<path d="M275.68 511.26H298.93M275.68 502.13H298.93M275.68 493H298.93M275.68 483.87H298.93M275.68 474.74H298.93M287.31 468V517.8" stroke="#cfcfcf" stroke-width="0.7" fill="none"/>
<line x1="287.31" y1="483.25" x2="287.31" y2="498.25" stroke="#b3b5b4" stroke-width="1.7"/>
<rect x="279.61" y="487" width="15.4" height="6.25" fill="#b3b5b4"/>
<rect x="275.68" y="468" width="23.25" height="49.8" fill="none" stroke="#464a4e" stroke-width="0.85" rx="0.2"/>
<rect x="301.71" y="468" width="23.25" height="49.8" fill="#fff"/>
<path d="M301.71 515.83H324.96M301.71 506.69H324.96M301.71 497.56H324.96M301.71 488.44H324.96M301.71 479.31H324.96M301.71 470.18H324.96" stroke="#e0e0e0" stroke-width="0.5" fill="none"/>
<path d="M301.71 511.26H324.96M301.71 502.13H324.96M301.71 493H324.96M301.71 483.87H324.96M301.71 474.74H324.96M313.34 468V517.8" stroke="#cfcfcf" stroke-width="0.7" fill="none"/>
<line x1="313.34" y1="489.5" x2="313.34" y2="499.5" stroke="#b3b5b4" stroke-width="1.7"/>
<rect x="305.64" y="492.75" width="15.4" height="3.5" fill="#b3b5b4"/>
<circle cx="313.34" cy="485.25" r="1.65" fill="#b3b5b4"/>
<rect x="301.71" y="468" width="23.25" height="49.8" fill="none" stroke="#464a4e" stroke-width="0.85" rx="0.2"/>
<rect x="327.74" y="468" width="23.25" height="49.8" fill="#fff"/>
<path d="M327.74 515.83H350.99M327.74 506.69H350.99M327.74 497.56H350.99M327.74 488.44H350.99M327.74 479.31H350.99M327.74 470.18H350.99" stroke="#e0e0e0" stroke-width="0.5" fill="none"/>
<path d="M327.74 511.26H350.99M327.74 502.13H350.99M327.74 493H350.99M327.74 483.87H350.99M327.74 474.74H350.99M339.37 468V517.8" stroke="#cfcfcf" stroke-width="0.7" fill="none"/>
<line x1="339.37" y1="472.75" x2="339.37" y2="504" stroke="#ec1f26" stroke-width="1.7"/>
<rect x="331.67" y="479.5" width="15.4" height="15" fill="#ec1f26"/>
<rect x="327.74" y="468" width="23.25" height="49.8" fill="none" stroke="#464a4e" stroke-width="0.85" rx="0.2"/>
<rect x="378" y="468" width="23.9" height="49.8" fill="#fff"/>
<path d="M378 515.83H401.9M378 506.69H401.9M378 497.56H401.9M378 488.44H401.9M378 479.31H401.9M378 470.18H401.9" stroke="#e0e0e0" stroke-width="0.5" fill="none"/>
<path d="M378 511.26H401.9M378 502.13H401.9M378 493H401.9M378 483.87H401.9M378 474.74H401.9M389.95 468V517.8" stroke="#cfcfcf" stroke-width="0.7" fill="none"/>
<line x1="389.95" y1="487.4" x2="389.95" y2="508.9" stroke="#b3b5b4" stroke-width="1.7"/>
<rect x="382.15" y="494.7" width="15.6" height="8.3" fill="#b3b5b4"/>
<circle cx="389.95" cy="470.4" r="1.65" fill="#b3b5b4"/>
<circle cx="389.95" cy="481.2" r="1.65" fill="#b3b5b4"/>
<rect x="378" y="468" width="23.9" height="49.8" fill="none" stroke="#464a4e" stroke-width="0.85" rx="0.2"/>
<rect x="404.58" y="468" width="23.9" height="49.8" fill="#fff"/>
<path d="M404.58 515.83H428.48M404.58 506.69H428.48M404.58 497.56H428.48M404.58 488.44H428.48M404.58 479.31H428.48M404.58 470.18H428.48" stroke="#e0e0e0" stroke-width="0.5" fill="none"/>
<path d="M404.58 511.26H428.48M404.58 502.13H428.48M404.58 493H428.48M404.58 483.87H428.48M404.58 474.74H428.48M416.53 468V517.8" stroke="#cfcfcf" stroke-width="0.7" fill="none"/>
<line x1="416.53" y1="484.7" x2="416.53" y2="499.5" stroke="#b3b5b4" stroke-width="1.7"/>
<rect x="408.73" y="487.4" width="15.6" height="6.7" fill="#b3b5b4"/>
<rect x="404.58" y="468" width="23.9" height="49.8" fill="none" stroke="#464a4e" stroke-width="0.85" rx="0.2"/>
<rect x="431.16" y="468" width="23.9" height="49.8" fill="#fff"/>
<path d="M431.16 515.83H455.06M431.16 506.69H455.06M431.16 497.56H455.06M431.16 488.44H455.06M431.16 479.31H455.06M431.16 470.18H455.06" stroke="#e0e0e0" stroke-width="0.5" fill="none"/>
<path d="M431.16 511.26H455.06M431.16 502.13H455.06M431.16 493H455.06M431.16 483.87H455.06M431.16 474.74H455.06M443.11 468V517.8" stroke="#cfcfcf" stroke-width="0.7" fill="none"/>
<line x1="443.11" y1="490.1" x2="443.11" y2="496.8" stroke="#b3b5b4" stroke-width="1.7"/>
<rect x="435.31" y="491.4" width="15.6" height="2.7" fill="#b3b5b4"/>
<circle cx="443.11" cy="488.7" r="1.65" fill="#b3b5b4"/>
<circle cx="443.11" cy="498.2" r="1.65" fill="#b3b5b4"/>
<rect x="431.16" y="468" width="23.9" height="49.8" fill="none" stroke="#464a4e" stroke-width="0.85" rx="0.2"/>
<rect x="457.74" y="468" width="23.9" height="49.8" fill="#fff"/>
<path d="M457.74 515.83H481.64M457.74 506.69H481.64M457.74 497.56H481.64M457.74 488.44H481.64M457.74 479.31H481.64M457.74 470.18H481.64" stroke="#e0e0e0" stroke-width="0.5" fill="none"/>
<path d="M457.74 511.26H481.64M457.74 502.13H481.64M457.74 493H481.64M457.74 483.87H481.64M457.74 474.74H481.64M469.69 468V517.8" stroke="#cfcfcf" stroke-width="0.7" fill="none"/>
<line x1="469.69" y1="491.4" x2="469.69" y2="503.5" stroke="#b3b5b4" stroke-width="1.7"/>
<rect x="461.89" y="495.5" width="15.6" height="4" fill="#b3b5b4"/>
<circle cx="469.69" cy="482" r="1.65" fill="#b3b5b4"/>
<circle cx="469.69" cy="486" r="1.65" fill="#b3b5b4"/>
<circle cx="469.69" cy="506.2" r="1.65" fill="#b3b5b4"/>
<rect x="457.74" y="468" width="23.9" height="49.8" fill="none" stroke="#464a4e" stroke-width="0.85" rx="0.2"/>
<rect x="484.32" y="468" width="23.9" height="49.8" fill="#fff"/>
<path d="M484.32 515.83H508.22M484.32 506.69H508.22M484.32 497.56H508.22M484.32 488.44H508.22M484.32 479.31H508.22M484.32 470.18H508.22" stroke="#e0e0e0" stroke-width="0.5" fill="none"/>
<path d="M484.32 511.26H508.22M484.32 502.13H508.22M484.32 493H508.22M484.32 483.87H508.22M484.32 474.74H508.22M496.27 468V517.8" stroke="#cfcfcf" stroke-width="0.7" fill="none"/>
<line x1="496.27" y1="479.3" x2="496.27" y2="515.1" stroke="#2e3192" stroke-width="1.7"/>
<rect x="488.47" y="494.1" width="15.6" height="14.8" fill="#2e3192"/>
<rect x="484.32" y="468" width="23.9" height="49.8" fill="none" stroke="#464a4e" stroke-width="0.85" rx="0.2"/>
<line x1="117.4" y1="474.74" x2="119.2" y2="474.74" stroke="#333" stroke-width="0.6"/>
<text x="116.3" y="477.39" font-size="7.4" text-anchor="end" fill="#000" stroke="#000" stroke-width="0.2">2</text>
<line x1="117.4" y1="483.87" x2="119.2" y2="483.87" stroke="#333" stroke-width="0.6"/>
<text x="116.3" y="486.52" font-size="7.4" text-anchor="end" fill="#000" stroke="#000" stroke-width="0.2">1</text>
<line x1="117.4" y1="493" x2="119.2" y2="493" stroke="#333" stroke-width="0.6"/>
<text x="116.3" y="495.65" font-size="7.4" text-anchor="end" fill="#000" stroke="#000" stroke-width="0.2">0</text>
<line x1="117.4" y1="502.13" x2="119.2" y2="502.13" stroke="#333" stroke-width="0.6"/>
<text x="116.3" y="504.78" font-size="7.4" text-anchor="end" fill="#000" stroke="#000" stroke-width="0.2">−1</text>
<line x1="117.4" y1="511.26" x2="119.2" y2="511.26" stroke="#333" stroke-width="0.6"/>
<text x="116.3" y="513.91" font-size="7.4" text-anchor="end" fill="#000" stroke="#000" stroke-width="0.2">−2</text>
<rect x="508.2" y="468" width="10.1" height="49.8" fill="#d0d0d0" stroke="#464a4e" stroke-width="0.9"/>
<text x="511.5" y="492.9" font-size="6.3" text-anchor="middle" fill="#1a1a1a" transform="rotate(90 511.5 492.9)">IFNγ Merck</text>
<text x="88.8" y="495.9" font-size="8.3" text-anchor="end" fill="#000">IFNγ Merck</text>
<rect x="119.5" y="522.1" width="23.25" height="49.8" fill="#fff"/>
<path d="M119.5 569.93H142.75M119.5 560.8H142.75M119.5 551.67H142.75M119.5 542.53H142.75M119.5 533.4H142.75M119.5 524.27H142.75" stroke="#e0e0e0" stroke-width="0.5" fill="none"/>
<path d="M119.5 565.36H142.75M119.5 556.23H142.75M119.5 547.1H142.75M119.5 537.97H142.75M119.5 528.84H142.75M131.12 522.1V571.9" stroke="#cfcfcf" stroke-width="0.7" fill="none"/>
<line x1="131.12" y1="532.45" x2="131.12" y2="552.45" stroke="#ec1f26" stroke-width="1.7"/>
<rect x="123.42" y="538.7" width="15.4" height="5.75" fill="#ec1f26"/>
<circle cx="131.12" cy="527.95" r="1.65" fill="#ec1f26"/>
<rect x="119.5" y="522.1" width="23.25" height="49.8" fill="none" stroke="#464a4e" stroke-width="0.85" rx="0.2"/>
<rect x="145.53" y="522.1" width="23.25" height="49.8" fill="#fff"/>
<path d="M145.53 569.93H168.78M145.53 560.8H168.78M145.53 551.67H168.78M145.53 542.53H168.78M145.53 533.4H168.78M145.53 524.27H168.78" stroke="#e0e0e0" stroke-width="0.5" fill="none"/>
<path d="M145.53 565.36H168.78M145.53 556.23H168.78M145.53 547.1H168.78M145.53 537.97H168.78M145.53 528.84H168.78M157.16 522.1V571.9" stroke="#cfcfcf" stroke-width="0.7" fill="none"/>
<line x1="157.16" y1="524.95" x2="157.16" y2="549.2" stroke="#ec1f26" stroke-width="1.7"/>
<rect x="149.46" y="530.45" width="15.4" height="11.25" fill="#ec1f26"/>
<rect x="145.53" y="522.1" width="23.25" height="49.8" fill="none" stroke="#464a4e" stroke-width="0.85" rx="0.2"/>
<rect x="171.56" y="522.1" width="23.25" height="49.8" fill="#fff"/>
<path d="M171.56 569.93H194.81M171.56 560.8H194.81M171.56 551.67H194.81M171.56 542.53H194.81M171.56 533.4H194.81M171.56 524.27H194.81" stroke="#e0e0e0" stroke-width="0.5" fill="none"/>
<path d="M171.56 565.36H194.81M171.56 556.23H194.81M171.56 547.1H194.81M171.56 537.97H194.81M171.56 528.84H194.81M183.19 522.1V571.9" stroke="#cfcfcf" stroke-width="0.7" fill="none"/>
<line x1="183.19" y1="538.7" x2="183.19" y2="551.2" stroke="#b3b5b4" stroke-width="1.7"/>
<rect x="175.49" y="542.95" width="15.4" height="4.5" fill="#b3b5b4"/>
<circle cx="183.19" cy="536.95" r="1.65" fill="#b3b5b4"/>
<circle cx="183.19" cy="553.2" r="1.65" fill="#b3b5b4"/>
<rect x="171.56" y="522.1" width="23.25" height="49.8" fill="none" stroke="#464a4e" stroke-width="0.85" rx="0.2"/>
<rect x="197.59" y="522.1" width="23.25" height="49.8" fill="#fff"/>
<path d="M197.59 569.93H220.84M197.59 560.8H220.84M197.59 551.67H220.84M197.59 542.53H220.84M197.59 533.4H220.84M197.59 524.27H220.84" stroke="#e0e0e0" stroke-width="0.5" fill="none"/>
<path d="M197.59 565.36H220.84M197.59 556.23H220.84M197.59 547.1H220.84M197.59 537.97H220.84M197.59 528.84H220.84M209.22 522.1V571.9" stroke="#cfcfcf" stroke-width="0.7" fill="none"/>
<line x1="209.22" y1="534.95" x2="209.22" y2="551.2" stroke="#b3b5b4" stroke-width="1.7"/>
<rect x="201.52" y="541.7" width="15.4" height="4.5" fill="#b3b5b4"/>
<circle cx="209.22" cy="531.95" r="1.65" fill="#b3b5b4"/>
<circle cx="209.22" cy="553.7" r="1.65" fill="#b3b5b4"/>
<rect x="197.59" y="522.1" width="23.25" height="49.8" fill="none" stroke="#464a4e" stroke-width="0.85" rx="0.2"/>
<rect x="223.62" y="522.1" width="23.25" height="49.8" fill="#fff"/>
<path d="M223.62 569.93H246.87M223.62 560.8H246.87M223.62 551.67H246.87M223.62 542.53H246.87M223.62 533.4H246.87M223.62 524.27H246.87" stroke="#e0e0e0" stroke-width="0.5" fill="none"/>
<path d="M223.62 565.36H246.87M223.62 556.23H246.87M223.62 547.1H246.87M223.62 537.97H246.87M223.62 528.84H246.87M235.25 522.1V571.9" stroke="#cfcfcf" stroke-width="0.7" fill="none"/>
<line x1="235.25" y1="529.95" x2="235.25" y2="563.2" stroke="#b3b5b4" stroke-width="1.7"/>
<rect x="227.55" y="542.45" width="15.4" height="8.75" fill="#b3b5b4"/>
<rect x="223.62" y="522.1" width="23.25" height="49.8" fill="none" stroke="#464a4e" stroke-width="0.85" rx="0.2"/>
<rect x="249.65" y="522.1" width="23.25" height="49.8" fill="#fff"/>
<path d="M249.65 569.93H272.9M249.65 560.8H272.9M249.65 551.67H272.9M249.65 542.53H272.9M249.65 533.4H272.9M249.65 524.27H272.9" stroke="#e0e0e0" stroke-width="0.5" fill="none"/>
<path d="M249.65 565.36H272.9M249.65 556.23H272.9M249.65 547.1H272.9M249.65 537.97H272.9M249.65 528.84H272.9M261.27 522.1V571.9" stroke="#cfcfcf" stroke-width="0.7" fill="none"/>
<line x1="261.27" y1="526.2" x2="261.27" y2="551.2" stroke="#ec1f26" stroke-width="1.7"/>
<rect x="253.57" y="533.2" width="15.4" height="8.5" fill="#ec1f26"/>
<circle cx="261.27" cy="555.45" r="1.65" fill="#ec1f26"/>
<rect x="249.65" y="522.1" width="23.25" height="49.8" fill="none" stroke="#464a4e" stroke-width="0.85" rx="0.2"/>
<rect x="275.68" y="522.1" width="23.25" height="49.8" fill="#fff"/>
<path d="M275.68 569.93H298.93M275.68 560.8H298.93M275.68 551.67H298.93M275.68 542.53H298.93M275.68 533.4H298.93M275.68 524.27H298.93" stroke="#e0e0e0" stroke-width="0.5" fill="none"/>
<path d="M275.68 565.36H298.93M275.68 556.23H298.93M275.68 547.1H298.93M275.68 537.97H298.93M275.68 528.84H298.93M287.31 522.1V571.9" stroke="#cfcfcf" stroke-width="0.7" fill="none"/>
<line x1="287.31" y1="532.45" x2="287.31" y2="553.7" stroke="#ec1f26" stroke-width="1.7"/>
<rect x="279.61" y="538.2" width="15.4" height="6.75" fill="#ec1f26"/>
<circle cx="287.31" cy="555.5" r="1.65" fill="#ec1f26"/>
<circle cx="287.31" cy="557.2" r="1.65" fill="#ec1f26"/>
<rect x="275.68" y="522.1" width="23.25" height="49.8" fill="none" stroke="#464a4e" stroke-width="0.85" rx="0.2"/>
<rect x="301.71" y="522.1" width="23.25" height="49.8" fill="#fff"/>
<path d="M301.71 569.93H324.96M301.71 560.8H324.96M301.71 551.67H324.96M301.71 542.53H324.96M301.71 533.4H324.96M301.71 524.27H324.96" stroke="#e0e0e0" stroke-width="0.5" fill="none"/>
<path d="M301.71 565.36H324.96M301.71 556.23H324.96M301.71 547.1H324.96M301.71 537.97H324.96M301.71 528.84H324.96M313.34 522.1V571.9" stroke="#cfcfcf" stroke-width="0.7" fill="none"/>
<line x1="313.34" y1="542.95" x2="313.34" y2="551.2" stroke="#b3b5b4" stroke-width="1.7"/>
<rect x="305.64" y="545.45" width="15.4" height="4" fill="#b3b5b4"/>
<circle cx="313.34" cy="536.95" r="1.65" fill="#b3b5b4"/>
<circle cx="313.34" cy="541.2" r="1.65" fill="#b3b5b4"/>
<circle cx="313.34" cy="554.2" r="1.65" fill="#b3b5b4"/>
<rect x="301.71" y="522.1" width="23.25" height="49.8" fill="none" stroke="#464a4e" stroke-width="0.85" rx="0.2"/>
<rect x="327.74" y="522.1" width="23.25" height="49.8" fill="#fff"/>
<path d="M327.74 569.93H350.99M327.74 560.8H350.99M327.74 551.67H350.99M327.74 542.53H350.99M327.74 533.4H350.99M327.74 524.27H350.99" stroke="#e0e0e0" stroke-width="0.5" fill="none"/>
<path d="M327.74 565.36H350.99M327.74 556.23H350.99M327.74 547.1H350.99M327.74 537.97H350.99M327.74 528.84H350.99M339.37 522.1V571.9" stroke="#cfcfcf" stroke-width="0.7" fill="none"/>
<line x1="339.37" y1="525.45" x2="339.37" y2="558.7" stroke="#ec1f26" stroke-width="1.7"/>
<rect x="331.67" y="534.2" width="15.4" height="10" fill="#ec1f26"/>
<circle cx="339.37" cy="563.2" r="1.65" fill="#ec1f26"/>
<circle cx="339.37" cy="567.95" r="1.65" fill="#ec1f26"/>
<rect x="327.74" y="522.1" width="23.25" height="49.8" fill="none" stroke="#464a4e" stroke-width="0.85" rx="0.2"/>
<rect x="378" y="522.1" width="23.9" height="49.8" fill="#fff"/>
<path d="M378 569.93H401.9M378 560.8H401.9M378 551.67H401.9M378 542.53H401.9M378 533.4H401.9M378 524.27H401.9" stroke="#e0e0e0" stroke-width="0.5" fill="none"/>
<path d="M378 565.36H401.9M378 556.23H401.9M378 547.1H401.9M378 537.97H401.9M378 528.84H401.9M389.95 522.1V571.9" stroke="#cfcfcf" stroke-width="0.7" fill="none"/>
<line x1="389.95" y1="530.8" x2="389.95" y2="561.8" stroke="#b3b5b4" stroke-width="1.7"/>
<rect x="382.15" y="547" width="15.6" height="8" fill="#b3b5b4"/>
<rect x="378" y="522.1" width="23.9" height="49.8" fill="none" stroke="#464a4e" stroke-width="0.85" rx="0.2"/>
<rect x="404.58" y="522.1" width="23.9" height="49.8" fill="#fff"/>
<path d="M404.58 569.93H428.48M404.58 560.8H428.48M404.58 551.67H428.48M404.58 542.53H428.48M404.58 533.4H428.48M404.58 524.27H428.48" stroke="#e0e0e0" stroke-width="0.5" fill="none"/>
<path d="M404.58 565.36H428.48M404.58 556.23H428.48M404.58 547.1H428.48M404.58 537.97H428.48M404.58 528.84H428.48M416.53 522.1V571.9" stroke="#cfcfcf" stroke-width="0.7" fill="none"/>
<line x1="416.53" y1="536.2" x2="416.53" y2="554.5" stroke="#b3b5b4" stroke-width="1.7"/>
<rect x="408.73" y="541" width="15.6" height="7.3" fill="#b3b5b4"/>
<rect x="404.58" y="522.1" width="23.9" height="49.8" fill="none" stroke="#464a4e" stroke-width="0.85" rx="0.2"/>
<rect x="431.16" y="522.1" width="23.9" height="49.8" fill="#fff"/>
<path d="M431.16 569.93H455.06M431.16 560.8H455.06M431.16 551.67H455.06M431.16 542.53H455.06M431.16 533.4H455.06M431.16 524.27H455.06" stroke="#e0e0e0" stroke-width="0.5" fill="none"/>
<path d="M431.16 565.36H455.06M431.16 556.23H455.06M431.16 547.1H455.06M431.16 537.97H455.06M431.16 528.84H455.06M443.11 522.1V571.9" stroke="#cfcfcf" stroke-width="0.7" fill="none"/>
<line x1="443.11" y1="543.5" x2="443.11" y2="551" stroke="#b3b5b4" stroke-width="1.7"/>
<rect x="435.31" y="545.6" width="15.6" height="2.7" fill="#b3b5b4"/>
<circle cx="443.11" cy="538.9" r="1.65" fill="#b3b5b4"/>
<circle cx="443.11" cy="541.6" r="1.65" fill="#b3b5b4"/>
<rect x="431.16" y="522.1" width="23.9" height="49.8" fill="none" stroke="#464a4e" stroke-width="0.85" rx="0.2"/>
<rect x="457.74" y="522.1" width="23.9" height="49.8" fill="#fff"/>
<path d="M457.74 569.93H481.64M457.74 560.8H481.64M457.74 551.67H481.64M457.74 542.53H481.64M457.74 533.4H481.64M457.74 524.27H481.64" stroke="#e0e0e0" stroke-width="0.5" fill="none"/>
<path d="M457.74 565.36H481.64M457.74 556.23H481.64M457.74 547.1H481.64M457.74 537.97H481.64M457.74 528.84H481.64M469.69 522.1V571.9" stroke="#cfcfcf" stroke-width="0.7" fill="none"/>
<line x1="469.69" y1="537.5" x2="469.69" y2="561.8" stroke="#b3b5b4" stroke-width="1.7"/>
<rect x="461.89" y="546.4" width="15.6" height="7.3" fill="#b3b5b4"/>
<circle cx="469.69" cy="530.8" r="1.65" fill="#b3b5b4"/>
<circle cx="469.69" cy="533.5" r="1.65" fill="#b3b5b4"/>
<rect x="457.74" y="522.1" width="23.9" height="49.8" fill="none" stroke="#464a4e" stroke-width="0.85" rx="0.2"/>
<rect x="484.32" y="522.1" width="23.9" height="49.8" fill="#fff"/>
<path d="M484.32 569.93H508.22M484.32 560.8H508.22M484.32 551.67H508.22M484.32 542.53H508.22M484.32 533.4H508.22M484.32 524.27H508.22" stroke="#e0e0e0" stroke-width="0.5" fill="none"/>
<path d="M484.32 565.36H508.22M484.32 556.23H508.22M484.32 547.1H508.22M484.32 537.97H508.22M484.32 528.84H508.22M496.27 522.1V571.9" stroke="#cfcfcf" stroke-width="0.7" fill="none"/>
<line x1="496.27" y1="542.9" x2="496.27" y2="568" stroke="#2e3192" stroke-width="1.7"/>
<rect x="488.47" y="550.5" width="15.6" height="9.9" fill="#2e3192"/>
<circle cx="496.27" cy="533.5" r="1.65" fill="#2e3192"/>
<rect x="484.32" y="522.1" width="23.9" height="49.8" fill="none" stroke="#464a4e" stroke-width="0.85" rx="0.2"/>
<line x1="117.4" y1="528.84" x2="119.2" y2="528.84" stroke="#333" stroke-width="0.6"/>
<text x="116.3" y="531.49" font-size="7.4" text-anchor="end" fill="#000" stroke="#000" stroke-width="0.2">2</text>
<line x1="117.4" y1="537.97" x2="119.2" y2="537.97" stroke="#333" stroke-width="0.6"/>
<text x="116.3" y="540.62" font-size="7.4" text-anchor="end" fill="#000" stroke="#000" stroke-width="0.2">1</text>
<line x1="117.4" y1="547.1" x2="119.2" y2="547.1" stroke="#333" stroke-width="0.6"/>
<text x="116.3" y="549.75" font-size="7.4" text-anchor="end" fill="#000" stroke="#000" stroke-width="0.2">0</text>
<line x1="117.4" y1="556.23" x2="119.2" y2="556.23" stroke="#333" stroke-width="0.6"/>
<text x="116.3" y="558.88" font-size="7.4" text-anchor="end" fill="#000" stroke="#000" stroke-width="0.2">−1</text>
<line x1="117.4" y1="565.36" x2="119.2" y2="565.36" stroke="#333" stroke-width="0.6"/>
<text x="116.3" y="568.01" font-size="7.4" text-anchor="end" fill="#000" stroke="#000" stroke-width="0.2">−2</text>
<rect x="508.2" y="522.1" width="10.1" height="49.8" fill="#d0d0d0" stroke="#464a4e" stroke-width="0.9"/>
<text x="511.5" y="547" font-size="6.3" text-anchor="middle" fill="#1a1a1a" transform="rotate(90 511.5 547)">NJH395 response</text>
<text x="88.8" y="550" font-size="8.3" text-anchor="end" fill="#000">NJH395 response</text>
<rect x="119.5" y="576.2" width="23.25" height="49.8" fill="#fff"/>
<path d="M119.5 624.03H142.75M119.5 614.9H142.75M119.5 605.77H142.75M119.5 596.63H142.75M119.5 587.5H142.75M119.5 578.38H142.75" stroke="#e0e0e0" stroke-width="0.5" fill="none"/>
<path d="M119.5 619.46H142.75M119.5 610.33H142.75M119.5 601.2H142.75M119.5 592.07H142.75M119.5 582.94H142.75M131.12 576.2V626" stroke="#cfcfcf" stroke-width="0.7" fill="none"/>
<line x1="131.12" y1="585.95" x2="131.12" y2="607.95" stroke="#ec1f26" stroke-width="1.7"/>
<rect x="123.42" y="592.95" width="15.4" height="7.5" fill="#ec1f26"/>
<circle cx="131.12" cy="578.45" r="1.65" fill="#ec1f26"/>
<circle cx="131.12" cy="614.7" r="1.65" fill="#ec1f26"/>
<rect x="119.5" y="576.2" width="23.25" height="49.8" fill="none" stroke="#464a4e" stroke-width="0.85" rx="0.2"/>
<rect x="145.53" y="576.2" width="23.25" height="49.8" fill="#fff"/>
<path d="M145.53 624.03H168.78M145.53 614.9H168.78M145.53 605.77H168.78M145.53 596.63H168.78M145.53 587.5H168.78M145.53 578.38H168.78" stroke="#e0e0e0" stroke-width="0.5" fill="none"/>
<path d="M145.53 619.46H168.78M145.53 610.33H168.78M145.53 601.2H168.78M145.53 592.07H168.78M145.53 582.94H168.78M157.16 576.2V626" stroke="#cfcfcf" stroke-width="0.7" fill="none"/>
<line x1="157.16" y1="579.2" x2="157.16" y2="610.95" stroke="#ec1f26" stroke-width="1.7"/>
<rect x="149.46" y="588.45" width="15.4" height="10.5" fill="#ec1f26"/>
<rect x="145.53" y="576.2" width="23.25" height="49.8" fill="none" stroke="#464a4e" stroke-width="0.85" rx="0.2"/>
<rect x="171.56" y="576.2" width="23.25" height="49.8" fill="#fff"/>
<path d="M171.56 624.03H194.81M171.56 614.9H194.81M171.56 605.77H194.81M171.56 596.63H194.81M171.56 587.5H194.81M171.56 578.38H194.81" stroke="#e0e0e0" stroke-width="0.5" fill="none"/>
<path d="M171.56 619.46H194.81M171.56 610.33H194.81M171.56 601.2H194.81M171.56 592.07H194.81M171.56 582.94H194.81M183.19 576.2V626" stroke="#cfcfcf" stroke-width="0.7" fill="none"/>
<line x1="183.19" y1="590.95" x2="183.19" y2="607.2" stroke="#b3b5b4" stroke-width="1.7"/>
<rect x="175.49" y="596.45" width="15.4" height="5.75" fill="#b3b5b4"/>
<circle cx="183.19" cy="587.2" r="1.65" fill="#b3b5b4"/>
<rect x="171.56" y="576.2" width="23.25" height="49.8" fill="none" stroke="#464a4e" stroke-width="0.85" rx="0.2"/>
<rect x="197.59" y="576.2" width="23.25" height="49.8" fill="#fff"/>
<path d="M197.59 624.03H220.84M197.59 614.9H220.84M197.59 605.77H220.84M197.59 596.63H220.84M197.59 587.5H220.84M197.59 578.38H220.84" stroke="#e0e0e0" stroke-width="0.5" fill="none"/>
<path d="M197.59 619.46H220.84M197.59 610.33H220.84M197.59 601.2H220.84M197.59 592.07H220.84M197.59 582.94H220.84M209.22 576.2V626" stroke="#cfcfcf" stroke-width="0.7" fill="none"/>
<line x1="209.22" y1="588.45" x2="209.22" y2="607.2" stroke="#b3b5b4" stroke-width="1.7"/>
<rect x="201.52" y="596.45" width="15.4" height="5.25" fill="#b3b5b4"/>
<circle cx="209.22" cy="583.45" r="1.65" fill="#b3b5b4"/>
<rect x="197.59" y="576.2" width="23.25" height="49.8" fill="none" stroke="#464a4e" stroke-width="0.85" rx="0.2"/>
<rect x="223.62" y="576.2" width="23.25" height="49.8" fill="#fff"/>
<path d="M223.62 624.03H246.87M223.62 614.9H246.87M223.62 605.77H246.87M223.62 596.63H246.87M223.62 587.5H246.87M223.62 578.38H246.87" stroke="#e0e0e0" stroke-width="0.5" fill="none"/>
<path d="M223.62 619.46H246.87M223.62 610.33H246.87M223.62 601.2H246.87M223.62 592.07H246.87M223.62 582.94H246.87M235.25 576.2V626" stroke="#cfcfcf" stroke-width="0.7" fill="none"/>
<line x1="235.25" y1="587.2" x2="235.25" y2="616.7" stroke="#b3b5b4" stroke-width="1.7"/>
<rect x="227.55" y="594.7" width="15.4" height="11.75" fill="#b3b5b4"/>
<rect x="223.62" y="576.2" width="23.25" height="49.8" fill="none" stroke="#464a4e" stroke-width="0.85" rx="0.2"/>
<rect x="249.65" y="576.2" width="23.25" height="49.8" fill="#fff"/>
<path d="M249.65 624.03H272.9M249.65 614.9H272.9M249.65 605.77H272.9M249.65 596.63H272.9M249.65 587.5H272.9M249.65 578.38H272.9" stroke="#e0e0e0" stroke-width="0.5" fill="none"/>
<path d="M249.65 619.46H272.9M249.65 610.33H272.9M249.65 601.2H272.9M249.65 592.07H272.9M249.65 582.94H272.9M261.27 576.2V626" stroke="#cfcfcf" stroke-width="0.7" fill="none"/>
<line x1="261.27" y1="580.45" x2="261.27" y2="604.2" stroke="#ec1f26" stroke-width="1.7"/>
<rect x="253.57" y="586.7" width="15.4" height="9.25" fill="#ec1f26"/>
<circle cx="261.27" cy="610.2" r="1.65" fill="#ec1f26"/>
<rect x="249.65" y="576.2" width="23.25" height="49.8" fill="none" stroke="#464a4e" stroke-width="0.85" rx="0.2"/>
<rect x="275.68" y="576.2" width="23.25" height="49.8" fill="#fff"/>
<path d="M275.68 624.03H298.93M275.68 614.9H298.93M275.68 605.77H298.93M275.68 596.63H298.93M275.68 587.5H298.93M275.68 578.38H298.93" stroke="#e0e0e0" stroke-width="0.5" fill="none"/>
<path d="M275.68 619.46H298.93M275.68 610.33H298.93M275.68 601.2H298.93M275.68 592.07H298.93M275.68 582.94H298.93M287.31 576.2V626" stroke="#cfcfcf" stroke-width="0.7" fill="none"/>
<line x1="287.31" y1="588.45" x2="287.31" y2="605.95" stroke="#ec1f26" stroke-width="1.7"/>
<rect x="279.61" y="591.45" width="15.4" height="7" fill="#ec1f26"/>
<rect x="275.68" y="576.2" width="23.25" height="49.8" fill="none" stroke="#464a4e" stroke-width="0.85" rx="0.2"/>
<rect x="301.71" y="576.2" width="23.25" height="49.8" fill="#fff"/>
<path d="M301.71 624.03H324.96M301.71 614.9H324.96M301.71 605.77H324.96M301.71 596.63H324.96M301.71 587.5H324.96M301.71 578.38H324.96" stroke="#e0e0e0" stroke-width="0.5" fill="none"/>
<path d="M301.71 619.46H324.96M301.71 610.33H324.96M301.71 601.2H324.96M301.71 592.07H324.96M301.71 582.94H324.96M313.34 576.2V626" stroke="#cfcfcf" stroke-width="0.7" fill="none"/>
<line x1="313.34" y1="594.7" x2="313.34" y2="605.95" stroke="#b3b5b4" stroke-width="1.7"/>
<rect x="305.64" y="599.2" width="15.4" height="4.75" fill="#b3b5b4"/>
<circle cx="313.34" cy="582.95" r="1.65" fill="#b3b5b4"/>
<circle cx="313.34" cy="589.2" r="1.65" fill="#b3b5b4"/>
<rect x="301.71" y="576.2" width="23.25" height="49.8" fill="none" stroke="#464a4e" stroke-width="0.85" rx="0.2"/>
<rect x="327.74" y="576.2" width="23.25" height="49.8" fill="#fff"/>
<path d="M327.74 624.03H350.99M327.74 614.9H350.99M327.74 605.77H350.99M327.74 596.63H350.99M327.74 587.5H350.99M327.74 578.38H350.99" stroke="#e0e0e0" stroke-width="0.5" fill="none"/>
<path d="M327.74 619.46H350.99M327.74 610.33H350.99M327.74 601.2H350.99M327.74 592.07H350.99M327.74 582.94H350.99M339.37 576.2V626" stroke="#cfcfcf" stroke-width="0.7" fill="none"/>
<line x1="339.37" y1="579.2" x2="339.37" y2="610.45" stroke="#ec1f26" stroke-width="1.7"/>
<rect x="331.67" y="585.45" width="15.4" height="12.5" fill="#ec1f26"/>
<circle cx="339.37" cy="616.7" r="1.65" fill="#ec1f26"/>
<rect x="327.74" y="576.2" width="23.25" height="49.8" fill="none" stroke="#464a4e" stroke-width="0.85" rx="0.2"/>
<rect x="378" y="576.2" width="23.9" height="49.8" fill="#fff"/>
<path d="M378 624.03H401.9M378 614.9H401.9M378 605.77H401.9M378 596.63H401.9M378 587.5H401.9M378 578.38H401.9" stroke="#e0e0e0" stroke-width="0.5" fill="none"/>
<path d="M378 619.46H401.9M378 610.33H401.9M378 601.2H401.9M378 592.07H401.9M378 582.94H401.9M389.95 576.2V626" stroke="#cfcfcf" stroke-width="0.7" fill="none"/>
<line x1="389.95" y1="589.7" x2="389.95" y2="620.2" stroke="#b3b5b4" stroke-width="1.7"/>
<rect x="382.15" y="601.2" width="15.6" height="9.5" fill="#b3b5b4"/>
<circle cx="389.95" cy="587.5" r="1.65" fill="#b3b5b4"/>
<rect x="378" y="576.2" width="23.9" height="49.8" fill="none" stroke="#464a4e" stroke-width="0.85" rx="0.2"/>
<rect x="404.58" y="576.2" width="23.9" height="49.8" fill="#fff"/>
<path d="M404.58 624.03H428.48M404.58 614.9H428.48M404.58 605.77H428.48M404.58 596.63H428.48M404.58 587.5H428.48M404.58 578.38H428.48" stroke="#e0e0e0" stroke-width="0.5" fill="none"/>
<path d="M404.58 619.46H428.48M404.58 610.33H428.48M404.58 601.2H428.48M404.58 592.07H428.48M404.58 582.94H428.48M416.53 576.2V626" stroke="#cfcfcf" stroke-width="0.7" fill="none"/>
<line x1="416.53" y1="589.7" x2="416.53" y2="608.5" stroke="#b3b5b4" stroke-width="1.7"/>
<rect x="408.73" y="594.2" width="15.6" height="7" fill="#b3b5b4"/>
<rect x="404.58" y="576.2" width="23.9" height="49.8" fill="none" stroke="#464a4e" stroke-width="0.85" rx="0.2"/>
<rect x="431.16" y="576.2" width="23.9" height="49.8" fill="#fff"/>
<path d="M431.16 624.03H455.06M431.16 614.9H455.06M431.16 605.77H455.06M431.16 596.63H455.06M431.16 587.5H455.06M431.16 578.38H455.06" stroke="#e0e0e0" stroke-width="0.5" fill="none"/>
<path d="M431.16 619.46H455.06M431.16 610.33H455.06M431.16 601.2H455.06M431.16 592.07H455.06M431.16 582.94H455.06M443.11 576.2V626" stroke="#cfcfcf" stroke-width="0.7" fill="none"/>
<line x1="443.11" y1="597.2" x2="443.11" y2="605.9" stroke="#b3b5b4" stroke-width="1.7"/>
<rect x="435.31" y="599.2" width="15.6" height="4" fill="#b3b5b4"/>
<circle cx="443.11" cy="595.9" r="1.65" fill="#b3b5b4"/>
<circle cx="443.11" cy="607.2" r="1.65" fill="#b3b5b4"/>
<rect x="431.16" y="576.2" width="23.9" height="49.8" fill="none" stroke="#464a4e" stroke-width="0.85" rx="0.2"/>
<rect x="457.74" y="576.2" width="23.9" height="49.8" fill="#fff"/>
<path d="M457.74 624.03H481.64M457.74 614.9H481.64M457.74 605.77H481.64M457.74 596.63H481.64M457.74 587.5H481.64M457.74 578.38H481.64" stroke="#e0e0e0" stroke-width="0.5" fill="none"/>
<path d="M457.74 619.46H481.64M457.74 610.33H481.64M457.74 601.2H481.64M457.74 592.07H481.64M457.74 582.94H481.64M469.69 576.2V626" stroke="#cfcfcf" stroke-width="0.7" fill="none"/>
<line x1="469.69" y1="587" x2="469.69" y2="618" stroke="#b3b5b4" stroke-width="1.7"/>
<rect x="461.89" y="598.6" width="15.6" height="8.6" fill="#b3b5b4"/>
<circle cx="469.69" cy="580.2" r="1.65" fill="#b3b5b4"/>
<circle cx="469.69" cy="584.2" r="1.65" fill="#b3b5b4"/>
<rect x="457.74" y="576.2" width="23.9" height="49.8" fill="none" stroke="#464a4e" stroke-width="0.85" rx="0.2"/>
<rect x="484.32" y="576.2" width="23.9" height="49.8" fill="#fff"/>
<path d="M484.32 624.03H508.22M484.32 614.9H508.22M484.32 605.77H508.22M484.32 596.63H508.22M484.32 587.5H508.22M484.32 578.38H508.22" stroke="#e0e0e0" stroke-width="0.5" fill="none"/>
<path d="M484.32 619.46H508.22M484.32 610.33H508.22M484.32 601.2H508.22M484.32 592.07H508.22M484.32 582.94H508.22M496.27 576.2V626" stroke="#cfcfcf" stroke-width="0.7" fill="none"/>
<line x1="496.27" y1="590.5" x2="496.27" y2="622" stroke="#2e3192" stroke-width="1.7"/>
<rect x="488.47" y="602.6" width="15.6" height="11.9" fill="#2e3192"/>
<rect x="484.32" y="576.2" width="23.9" height="49.8" fill="none" stroke="#464a4e" stroke-width="0.85" rx="0.2"/>
<line x1="117.4" y1="582.94" x2="119.2" y2="582.94" stroke="#333" stroke-width="0.6"/>
<text x="116.3" y="585.59" font-size="7.4" text-anchor="end" fill="#000" stroke="#000" stroke-width="0.2">2</text>
<line x1="117.4" y1="592.07" x2="119.2" y2="592.07" stroke="#333" stroke-width="0.6"/>
<text x="116.3" y="594.72" font-size="7.4" text-anchor="end" fill="#000" stroke="#000" stroke-width="0.2">1</text>
<line x1="117.4" y1="601.2" x2="119.2" y2="601.2" stroke="#333" stroke-width="0.6"/>
<text x="116.3" y="603.85" font-size="7.4" text-anchor="end" fill="#000" stroke="#000" stroke-width="0.2">0</text>
<line x1="117.4" y1="610.33" x2="119.2" y2="610.33" stroke="#333" stroke-width="0.6"/>
<text x="116.3" y="612.98" font-size="7.4" text-anchor="end" fill="#000" stroke="#000" stroke-width="0.2">−1</text>
<line x1="117.4" y1="619.46" x2="119.2" y2="619.46" stroke="#333" stroke-width="0.6"/>
<text x="116.3" y="622.11" font-size="7.4" text-anchor="end" fill="#000" stroke="#000" stroke-width="0.2">−2</text>
<rect x="508.2" y="576.2" width="10.1" height="49.8" fill="#d0d0d0" stroke="#464a4e" stroke-width="0.9"/>
<text x="511.5" y="601.1" font-size="6.3" text-anchor="middle" fill="#1a1a1a" transform="rotate(90 511.5 601.1)">Immune index g.s.</text>
<text x="88.8" y="604.1" font-size="8.3" text-anchor="end" fill="#000">Immune index g.s.</text>
<line x1="131.12" y1="626.2" x2="131.12" y2="628.8" stroke="#444" stroke-width="0.6"/>
<line x1="157.16" y1="626.2" x2="157.16" y2="628.8" stroke="#444" stroke-width="0.6"/>
<line x1="183.19" y1="626.2" x2="183.19" y2="628.8" stroke="#444" stroke-width="0.6"/>
<line x1="209.22" y1="626.2" x2="209.22" y2="628.8" stroke="#444" stroke-width="0.6"/>
<line x1="235.25" y1="626.2" x2="235.25" y2="628.8" stroke="#444" stroke-width="0.6"/>
<line x1="261.27" y1="626.2" x2="261.27" y2="628.8" stroke="#444" stroke-width="0.6"/>
<line x1="287.31" y1="626.2" x2="287.31" y2="628.8" stroke="#444" stroke-width="0.6"/>
<line x1="313.34" y1="626.2" x2="313.34" y2="628.8" stroke="#444" stroke-width="0.6"/>
<line x1="339.37" y1="626.2" x2="339.37" y2="628.8" stroke="#444" stroke-width="0.6"/>
<line x1="389.95" y1="626.2" x2="389.95" y2="628.8" stroke="#444" stroke-width="0.6"/>
<line x1="416.53" y1="626.2" x2="416.53" y2="628.8" stroke="#444" stroke-width="0.6"/>
<line x1="443.11" y1="626.2" x2="443.11" y2="628.8" stroke="#444" stroke-width="0.6"/>
<line x1="469.69" y1="626.2" x2="469.69" y2="628.8" stroke="#444" stroke-width="0.6"/>
<line x1="496.27" y1="626.2" x2="496.27" y2="628.8" stroke="#444" stroke-width="0.6"/>
<rect x="119.5" y="637.3" width="23.25" height="51.2" fill="#fff"/>
<path d="M119.5 686.58H142.75M119.5 677.23H142.75M119.5 667.88H142.75M119.5 658.53H142.75M119.5 649.18H142.75M119.5 639.83H142.75" stroke="#e0e0e0" stroke-width="0.5" fill="none"/>
<path d="M119.5 681.9H142.75M119.5 672.55H142.75M119.5 663.2H142.75M119.5 653.85H142.75M119.5 644.5H142.75M131.12 637.3V688.5" stroke="#cfcfcf" stroke-width="0.7" fill="none"/>
<line x1="131.12" y1="641.2" x2="131.12" y2="664.2" stroke="#ec1f26" stroke-width="1.7"/>
<rect x="123.42" y="646.7" width="15.4" height="12" fill="#ec1f26"/>
<rect x="119.5" y="637.3" width="23.25" height="51.2" fill="none" stroke="#464a4e" stroke-width="0.85" rx="0.2"/>
<rect x="145.53" y="637.3" width="23.25" height="51.2" fill="#fff"/>
<path d="M145.53 686.58H168.78M145.53 677.23H168.78M145.53 667.88H168.78M145.53 658.53H168.78M145.53 649.18H168.78M145.53 639.83H168.78" stroke="#e0e0e0" stroke-width="0.5" fill="none"/>
<path d="M145.53 681.9H168.78M145.53 672.55H168.78M145.53 663.2H168.78M145.53 653.85H168.78M145.53 644.5H168.78M157.16 637.3V688.5" stroke="#cfcfcf" stroke-width="0.7" fill="none"/>
<line x1="157.16" y1="640.95" x2="157.16" y2="660.95" stroke="#ec1f26" stroke-width="1.7"/>
<rect x="149.46" y="642.95" width="15.4" height="11.75" fill="#ec1f26"/>
<rect x="145.53" y="637.3" width="23.25" height="51.2" fill="none" stroke="#464a4e" stroke-width="0.85" rx="0.2"/>
<rect x="171.56" y="637.3" width="23.25" height="51.2" fill="#fff"/>
<path d="M171.56 686.58H194.81M171.56 677.23H194.81M171.56 667.88H194.81M171.56 658.53H194.81M171.56 649.18H194.81M171.56 639.83H194.81" stroke="#e0e0e0" stroke-width="0.5" fill="none"/>
<path d="M171.56 681.9H194.81M171.56 672.55H194.81M171.56 663.2H194.81M171.56 653.85H194.81M171.56 644.5H194.81M183.19 637.3V688.5" stroke="#cfcfcf" stroke-width="0.7" fill="none"/>
<line x1="183.19" y1="640.95" x2="183.19" y2="651.7" stroke="#ec1f26" stroke-width="1.7"/>
<rect x="175.49" y="642.45" width="15.4" height="7.25" fill="#ec1f26"/>
<rect x="171.56" y="637.3" width="23.25" height="51.2" fill="none" stroke="#464a4e" stroke-width="0.85" rx="0.2"/>
<rect x="197.59" y="637.3" width="23.25" height="51.2" fill="#fff"/>
<path d="M197.59 686.58H220.84M197.59 677.23H220.84M197.59 667.88H220.84M197.59 658.53H220.84M197.59 649.18H220.84M197.59 639.83H220.84" stroke="#e0e0e0" stroke-width="0.5" fill="none"/>
<path d="M197.59 681.9H220.84M197.59 672.55H220.84M197.59 663.2H220.84M197.59 653.85H220.84M197.59 644.5H220.84M209.22 637.3V688.5" stroke="#cfcfcf" stroke-width="0.7" fill="none"/>
<line x1="209.22" y1="640.95" x2="209.22" y2="654.7" stroke="#ec1f26" stroke-width="1.7"/>
<rect x="201.52" y="643.7" width="15.4" height="6.25" fill="#ec1f26"/>
<rect x="197.59" y="637.3" width="23.25" height="51.2" fill="none" stroke="#464a4e" stroke-width="0.85" rx="0.2"/>
<rect x="223.62" y="637.3" width="23.25" height="51.2" fill="#fff"/>
<path d="M223.62 686.58H246.87M223.62 677.23H246.87M223.62 667.88H246.87M223.62 658.53H246.87M223.62 649.18H246.87M223.62 639.83H246.87" stroke="#e0e0e0" stroke-width="0.5" fill="none"/>
<path d="M223.62 681.9H246.87M223.62 672.55H246.87M223.62 663.2H246.87M223.62 653.85H246.87M223.62 644.5H246.87M235.25 637.3V688.5" stroke="#cfcfcf" stroke-width="0.7" fill="none"/>
<line x1="235.25" y1="640.45" x2="235.25" y2="655.95" stroke="#ec1f26" stroke-width="1.7"/>
<rect x="227.55" y="642.45" width="15.4" height="9.75" fill="#ec1f26"/>
<rect x="223.62" y="637.3" width="23.25" height="51.2" fill="none" stroke="#464a4e" stroke-width="0.85" rx="0.2"/>
<rect x="249.65" y="637.3" width="23.25" height="51.2" fill="#fff"/>
<path d="M249.65 686.58H272.9M249.65 677.23H272.9M249.65 667.88H272.9M249.65 658.53H272.9M249.65 649.18H272.9M249.65 639.83H272.9" stroke="#e0e0e0" stroke-width="0.5" fill="none"/>
<path d="M249.65 681.9H272.9M249.65 672.55H272.9M249.65 663.2H272.9M249.65 653.85H272.9M249.65 644.5H272.9M261.27 637.3V688.5" stroke="#cfcfcf" stroke-width="0.7" fill="none"/>
<line x1="261.27" y1="664.2" x2="261.27" y2="672.95" stroke="#2e3192" stroke-width="1.7"/>
<rect x="253.57" y="666.9" width="15.4" height="3.3" fill="#2e3192"/>
<circle cx="261.27" cy="662.45" r="1.65" fill="#2e3192"/>
<circle cx="261.27" cy="674.2" r="1.65" fill="#2e3192"/>
<rect x="249.65" y="637.3" width="23.25" height="51.2" fill="none" stroke="#464a4e" stroke-width="0.85" rx="0.2"/>
<rect x="275.68" y="637.3" width="23.25" height="51.2" fill="#fff"/>
<path d="M275.68 686.58H298.93M275.68 677.23H298.93M275.68 667.88H298.93M275.68 658.53H298.93M275.68 649.18H298.93M275.68 639.83H298.93" stroke="#e0e0e0" stroke-width="0.5" fill="none"/>
<path d="M275.68 681.9H298.93M275.68 672.55H298.93M275.68 663.2H298.93M275.68 653.85H298.93M275.68 644.5H298.93M287.31 637.3V688.5" stroke="#cfcfcf" stroke-width="0.7" fill="none"/>
<line x1="287.31" y1="658.45" x2="287.31" y2="667.95" stroke="#b3b5b4" stroke-width="1.7"/>
<rect x="279.61" y="662.2" width="15.4" height="3.75" fill="#b3b5b4"/>
<circle cx="287.31" cy="655.45" r="1.65" fill="#b3b5b4"/>
<rect x="275.68" y="637.3" width="23.25" height="51.2" fill="none" stroke="#464a4e" stroke-width="0.85" rx="0.2"/>
<rect x="301.71" y="637.3" width="23.25" height="51.2" fill="#fff"/>
<path d="M301.71 686.58H324.96M301.71 677.23H324.96M301.71 667.88H324.96M301.71 658.53H324.96M301.71 649.18H324.96M301.71 639.83H324.96" stroke="#e0e0e0" stroke-width="0.5" fill="none"/>
<path d="M301.71 681.9H324.96M301.71 672.55H324.96M301.71 663.2H324.96M301.71 653.85H324.96M301.71 644.5H324.96M313.34 637.3V688.5" stroke="#cfcfcf" stroke-width="0.7" fill="none"/>
<line x1="313.34" y1="641.2" x2="313.34" y2="656.2" stroke="#ec1f26" stroke-width="1.7"/>
<rect x="305.64" y="642.95" width="15.4" height="10.5" fill="#ec1f26"/>
<rect x="301.71" y="637.3" width="23.25" height="51.2" fill="none" stroke="#464a4e" stroke-width="0.85" rx="0.2"/>
<rect x="327.74" y="637.3" width="23.25" height="51.2" fill="#fff"/>
<path d="M327.74 686.58H350.99M327.74 677.23H350.99M327.74 667.88H350.99M327.74 658.53H350.99M327.74 649.18H350.99M327.74 639.83H350.99" stroke="#e0e0e0" stroke-width="0.5" fill="none"/>
<path d="M327.74 681.9H350.99M327.74 672.55H350.99M327.74 663.2H350.99M327.74 653.85H350.99M327.74 644.5H350.99M339.37 637.3V688.5" stroke="#cfcfcf" stroke-width="0.7" fill="none"/>
<line x1="339.37" y1="647.95" x2="339.37" y2="671.7" stroke="#b3b5b4" stroke-width="1.7"/>
<rect x="331.67" y="657.2" width="15.4" height="6.5" fill="#b3b5b4"/>
<circle cx="339.37" cy="646.2" r="1.65" fill="#b3b5b4"/>
<circle cx="339.37" cy="674.95" r="1.65" fill="#b3b5b4"/>
<rect x="327.74" y="637.3" width="23.25" height="51.2" fill="none" stroke="#464a4e" stroke-width="0.85" rx="0.2"/>
<rect x="431.16" y="637.3" width="23.9" height="51.2" fill="#fff"/>
<path d="M431.16 686.58H455.06M431.16 677.23H455.06M431.16 667.88H455.06M431.16 658.53H455.06M431.16 649.18H455.06M431.16 639.83H455.06" stroke="#e0e0e0" stroke-width="0.5" fill="none"/>
<path d="M431.16 681.9H455.06M431.16 672.55H455.06M431.16 663.2H455.06M431.16 653.85H455.06M431.16 644.5H455.06M443.11 637.3V688.5" stroke="#cfcfcf" stroke-width="0.7" fill="none"/>
<line x1="443.11" y1="657.1" x2="443.11" y2="668.7" stroke="#b3b5b4" stroke-width="1.7"/>
<rect x="435.31" y="660.6" width="15.6" height="5.4" fill="#b3b5b4"/>
<rect x="431.16" y="637.3" width="23.9" height="51.2" fill="none" stroke="#464a4e" stroke-width="0.85" rx="0.2"/>
<rect x="457.74" y="637.3" width="23.9" height="51.2" fill="#fff"/>
<path d="M457.74 686.58H481.64M457.74 677.23H481.64M457.74 667.88H481.64M457.74 658.53H481.64M457.74 649.18H481.64M457.74 639.83H481.64" stroke="#e0e0e0" stroke-width="0.5" fill="none"/>
<path d="M457.74 681.9H481.64M457.74 672.55H481.64M457.74 663.2H481.64M457.74 653.85H481.64M457.74 644.5H481.64M469.69 637.3V688.5" stroke="#cfcfcf" stroke-width="0.7" fill="none"/>
<line x1="469.69" y1="650.9" x2="469.69" y2="685.9" stroke="#2e3192" stroke-width="1.7"/>
<rect x="461.89" y="661.7" width="15.6" height="14.2" fill="#2e3192"/>
<rect x="457.74" y="637.3" width="23.9" height="51.2" fill="none" stroke="#464a4e" stroke-width="0.85" rx="0.2"/>
<rect x="484.32" y="637.3" width="23.9" height="51.2" fill="#fff"/>
<path d="M484.32 686.58H508.22M484.32 677.23H508.22M484.32 667.88H508.22M484.32 658.53H508.22M484.32 649.18H508.22M484.32 639.83H508.22" stroke="#e0e0e0" stroke-width="0.5" fill="none"/>
<path d="M484.32 681.9H508.22M484.32 672.55H508.22M484.32 663.2H508.22M484.32 653.85H508.22M484.32 644.5H508.22M496.27 637.3V688.5" stroke="#cfcfcf" stroke-width="0.7" fill="none"/>
<line x1="496.27" y1="653.6" x2="496.27" y2="680.5" stroke="#2e3192" stroke-width="1.7"/>
<rect x="488.47" y="662.5" width="15.6" height="10.2" fill="#2e3192"/>
<rect x="484.32" y="637.3" width="23.9" height="51.2" fill="none" stroke="#464a4e" stroke-width="0.85" rx="0.2"/>
<line x1="117.4" y1="644.5" x2="119.2" y2="644.5" stroke="#333" stroke-width="0.6"/>
<text x="116.3" y="647.15" font-size="7.4" text-anchor="end" fill="#000" stroke="#000" stroke-width="0.2">2</text>
<line x1="117.4" y1="653.85" x2="119.2" y2="653.85" stroke="#333" stroke-width="0.6"/>
<text x="116.3" y="656.5" font-size="7.4" text-anchor="end" fill="#000" stroke="#000" stroke-width="0.2">1</text>
<line x1="117.4" y1="663.2" x2="119.2" y2="663.2" stroke="#333" stroke-width="0.6"/>
<text x="116.3" y="665.85" font-size="7.4" text-anchor="end" fill="#000" stroke="#000" stroke-width="0.2">0</text>
<line x1="117.4" y1="672.55" x2="119.2" y2="672.55" stroke="#333" stroke-width="0.6"/>
<text x="116.3" y="675.2" font-size="7.4" text-anchor="end" fill="#000" stroke="#000" stroke-width="0.2">−1</text>
<line x1="117.4" y1="681.9" x2="119.2" y2="681.9" stroke="#333" stroke-width="0.6"/>
<text x="116.3" y="684.55" font-size="7.4" text-anchor="end" fill="#000" stroke="#000" stroke-width="0.2">−2</text>
<rect x="508.2" y="637.3" width="10.1" height="51.2" fill="#d0d0d0" stroke="#464a4e" stroke-width="0.9"/>
<text x="511.5" y="662.9" font-size="6.3" text-anchor="middle" fill="#1a1a1a" transform="rotate(90 511.5 662.9)">Type I IFN</text>
<text x="88.8" y="666.1" font-size="8.3" text-anchor="end" fill="#000">Type I IFN</text>
<rect x="119.5" y="692.5" width="23.25" height="51.1" fill="#fff"/>
<path d="M119.5 741.67H142.75M119.5 732.32H142.75M119.5 722.97H142.75M119.5 713.62H142.75M119.5 704.27H142.75M119.5 694.92H142.75" stroke="#e0e0e0" stroke-width="0.5" fill="none"/>
<path d="M119.5 737H142.75M119.5 727.65H142.75M119.5 718.3H142.75M119.5 708.95H142.75M119.5 699.6H142.75M131.12 692.5V743.6" stroke="#cfcfcf" stroke-width="0.7" fill="none"/>
<line x1="131.12" y1="706.7" x2="131.12" y2="726.7" stroke="#b3b5b4" stroke-width="1.7"/>
<rect x="123.42" y="712.2" width="15.4" height="7.5" fill="#b3b5b4"/>
<circle cx="131.12" cy="698.45" r="1.65" fill="#b3b5b4"/>
<rect x="119.5" y="692.5" width="23.25" height="51.1" fill="none" stroke="#464a4e" stroke-width="0.85" rx="0.2"/>
<rect x="145.53" y="692.5" width="23.25" height="51.1" fill="#fff"/>
<path d="M145.53 741.67H168.78M145.53 732.32H168.78M145.53 722.97H168.78M145.53 713.62H168.78M145.53 704.27H168.78M145.53 694.92H168.78" stroke="#e0e0e0" stroke-width="0.5" fill="none"/>
<path d="M145.53 737H168.78M145.53 727.65H168.78M145.53 718.3H168.78M145.53 708.95H168.78M145.53 699.6H168.78M157.16 692.5V743.6" stroke="#cfcfcf" stroke-width="0.7" fill="none"/>
<line x1="157.16" y1="701.7" x2="157.16" y2="729.2" stroke="#ec1f26" stroke-width="1.7"/>
<rect x="149.46" y="711.7" width="15.4" height="8" fill="#ec1f26"/>
<circle cx="157.16" cy="697.8" r="1.65" fill="#ec1f26"/>
<circle cx="157.16" cy="699.8" r="1.65" fill="#ec1f26"/>
<circle cx="157.16" cy="738.45" r="1.65" fill="#ec1f26"/>
<rect x="145.53" y="692.5" width="23.25" height="51.1" fill="none" stroke="#464a4e" stroke-width="0.85" rx="0.2"/>
<rect x="171.56" y="692.5" width="23.25" height="51.1" fill="#fff"/>
<path d="M171.56 741.67H194.81M171.56 732.32H194.81M171.56 722.97H194.81M171.56 713.62H194.81M171.56 704.27H194.81M171.56 694.92H194.81" stroke="#e0e0e0" stroke-width="0.5" fill="none"/>
<path d="M171.56 737H194.81M171.56 727.65H194.81M171.56 718.3H194.81M171.56 708.95H194.81M171.56 699.6H194.81M183.19 692.5V743.6" stroke="#cfcfcf" stroke-width="0.7" fill="none"/>
<line x1="183.19" y1="696.7" x2="183.19" y2="735.45" stroke="#ec1f26" stroke-width="1.7"/>
<rect x="175.49" y="707.45" width="15.4" height="12.25" fill="#ec1f26"/>
<rect x="171.56" y="692.5" width="23.25" height="51.1" fill="none" stroke="#464a4e" stroke-width="0.85" rx="0.2"/>
<rect x="197.59" y="692.5" width="23.25" height="51.1" fill="#fff"/>
<path d="M197.59 741.67H220.84M197.59 732.32H220.84M197.59 722.97H220.84M197.59 713.62H220.84M197.59 704.27H220.84M197.59 694.92H220.84" stroke="#e0e0e0" stroke-width="0.5" fill="none"/>
<path d="M197.59 737H220.84M197.59 727.65H220.84M197.59 718.3H220.84M197.59 708.95H220.84M197.59 699.6H220.84M209.22 692.5V743.6" stroke="#cfcfcf" stroke-width="0.7" fill="none"/>
<line x1="209.22" y1="697.95" x2="209.22" y2="729.2" stroke="#ec1f26" stroke-width="1.7"/>
<rect x="201.52" y="705.95" width="15.4" height="13.25" fill="#ec1f26"/>
<rect x="197.59" y="692.5" width="23.25" height="51.1" fill="none" stroke="#464a4e" stroke-width="0.85" rx="0.2"/>
<rect x="223.62" y="692.5" width="23.25" height="51.1" fill="#fff"/>
<path d="M223.62 741.67H246.87M223.62 732.32H246.87M223.62 722.97H246.87M223.62 713.62H246.87M223.62 704.27H246.87M223.62 694.92H246.87" stroke="#e0e0e0" stroke-width="0.5" fill="none"/>
<path d="M223.62 737H246.87M223.62 727.65H246.87M223.62 718.3H246.87M223.62 708.95H246.87M223.62 699.6H246.87M235.25 692.5V743.6" stroke="#cfcfcf" stroke-width="0.7" fill="none"/>
<line x1="235.25" y1="697.95" x2="235.25" y2="732.95" stroke="#ec1f26" stroke-width="1.7"/>
<rect x="227.55" y="707.2" width="15.4" height="12" fill="#ec1f26"/>
<rect x="223.62" y="692.5" width="23.25" height="51.1" fill="none" stroke="#464a4e" stroke-width="0.85" rx="0.2"/>
<rect x="249.65" y="692.5" width="23.25" height="51.1" fill="#fff"/>
<path d="M249.65 741.67H272.9M249.65 732.32H272.9M249.65 722.97H272.9M249.65 713.62H272.9M249.65 704.27H272.9M249.65 694.92H272.9" stroke="#e0e0e0" stroke-width="0.5" fill="none"/>
<path d="M249.65 737H272.9M249.65 727.65H272.9M249.65 718.3H272.9M249.65 708.95H272.9M249.65 699.6H272.9M261.27 692.5V743.6" stroke="#cfcfcf" stroke-width="0.7" fill="none"/>
<line x1="261.27" y1="714.2" x2="261.27" y2="725.45" stroke="#b3b5b4" stroke-width="1.7"/>
<rect x="253.57" y="718.45" width="15.4" height="3.25" fill="#b3b5b4"/>
<rect x="249.65" y="692.5" width="23.25" height="51.1" fill="none" stroke="#464a4e" stroke-width="0.85" rx="0.2"/>
<rect x="275.68" y="692.5" width="23.25" height="51.1" fill="#fff"/>
<path d="M275.68 741.67H298.93M275.68 732.32H298.93M275.68 722.97H298.93M275.68 713.62H298.93M275.68 704.27H298.93M275.68 694.92H298.93" stroke="#e0e0e0" stroke-width="0.5" fill="none"/>
<path d="M275.68 737H298.93M275.68 727.65H298.93M275.68 718.3H298.93M275.68 708.95H298.93M275.68 699.6H298.93M287.31 692.5V743.6" stroke="#cfcfcf" stroke-width="0.7" fill="none"/>
<line x1="287.31" y1="714.2" x2="287.31" y2="724.2" stroke="#b3b5b4" stroke-width="1.7"/>
<rect x="279.61" y="717.45" width="15.4" height="3.5" fill="#b3b5b4"/>
<circle cx="287.31" cy="709.2" r="1.65" fill="#b3b5b4"/>
<circle cx="287.31" cy="712.95" r="1.65" fill="#b3b5b4"/>
<rect x="275.68" y="692.5" width="23.25" height="51.1" fill="none" stroke="#464a4e" stroke-width="0.85" rx="0.2"/>
<rect x="301.71" y="692.5" width="23.25" height="51.1" fill="#fff"/>
<path d="M301.71 741.67H324.96M301.71 732.32H324.96M301.71 722.97H324.96M301.71 713.62H324.96M301.71 704.27H324.96M301.71 694.92H324.96" stroke="#e0e0e0" stroke-width="0.5" fill="none"/>
<path d="M301.71 737H324.96M301.71 727.65H324.96M301.71 718.3H324.96M301.71 708.95H324.96M301.71 699.6H324.96M313.34 692.5V743.6" stroke="#cfcfcf" stroke-width="0.7" fill="none"/>
<line x1="313.34" y1="697.45" x2="313.34" y2="728.7" stroke="#ec1f26" stroke-width="1.7"/>
<rect x="305.64" y="703.45" width="15.4" height="13.25" fill="#ec1f26"/>
<circle cx="313.34" cy="735.45" r="1.65" fill="#ec1f26"/>
<rect x="301.71" y="692.5" width="23.25" height="51.1" fill="none" stroke="#464a4e" stroke-width="0.85" rx="0.2"/>
<rect x="327.74" y="692.5" width="23.25" height="51.1" fill="#fff"/>
<path d="M327.74 741.67H350.99M327.74 732.32H350.99M327.74 722.97H350.99M327.74 713.62H350.99M327.74 704.27H350.99M327.74 694.92H350.99" stroke="#e0e0e0" stroke-width="0.5" fill="none"/>
<path d="M327.74 737H350.99M327.74 727.65H350.99M327.74 718.3H350.99M327.74 708.95H350.99M327.74 699.6H350.99M339.37 692.5V743.6" stroke="#cfcfcf" stroke-width="0.7" fill="none"/>
<line x1="339.37" y1="711.7" x2="339.37" y2="726.7" stroke="#b3b5b4" stroke-width="1.7"/>
<rect x="331.67" y="718.45" width="15.4" height="4" fill="#b3b5b4"/>
<rect x="327.74" y="692.5" width="23.25" height="51.1" fill="none" stroke="#464a4e" stroke-width="0.85" rx="0.2"/>
<rect x="431.16" y="692.5" width="23.9" height="51.1" fill="#fff"/>
<path d="M431.16 741.67H455.06M431.16 732.32H455.06M431.16 722.97H455.06M431.16 713.62H455.06M431.16 704.27H455.06M431.16 694.92H455.06" stroke="#e0e0e0" stroke-width="0.5" fill="none"/>
<path d="M431.16 737H455.06M431.16 727.65H455.06M431.16 718.3H455.06M431.16 708.95H455.06M431.16 699.6H455.06M443.11 692.5V743.6" stroke="#cfcfcf" stroke-width="0.7" fill="none"/>
<line x1="443.11" y1="713.4" x2="443.11" y2="724.2" stroke="#b3b5b4" stroke-width="1.7"/>
<rect x="435.31" y="716.9" width="15.6" height="4.6" fill="#b3b5b4"/>
<circle cx="443.11" cy="706.7" r="1.65" fill="#b3b5b4"/>
<circle cx="443.11" cy="726.1" r="1.65" fill="#b3b5b4"/>
<rect x="431.16" y="692.5" width="23.9" height="51.1" fill="none" stroke="#464a4e" stroke-width="0.85" rx="0.2"/>
<rect x="457.74" y="692.5" width="23.9" height="51.1" fill="#fff"/>
<path d="M457.74 741.67H481.64M457.74 732.32H481.64M457.74 722.97H481.64M457.74 713.62H481.64M457.74 704.27H481.64M457.74 694.92H481.64" stroke="#e0e0e0" stroke-width="0.5" fill="none"/>
<path d="M457.74 737H481.64M457.74 727.65H481.64M457.74 718.3H481.64M457.74 708.95H481.64M457.74 699.6H481.64M469.69 692.5V743.6" stroke="#cfcfcf" stroke-width="0.7" fill="none"/>
<line x1="469.69" y1="699.4" x2="469.69" y2="739" stroke="#b3b5b4" stroke-width="1.7"/>
<rect x="461.89" y="712.9" width="15.6" height="12.6" fill="#b3b5b4"/>
<rect x="457.74" y="692.5" width="23.9" height="51.1" fill="none" stroke="#464a4e" stroke-width="0.85" rx="0.2"/>
<rect x="484.32" y="692.5" width="23.9" height="51.1" fill="#fff"/>
<path d="M484.32 741.67H508.22M484.32 732.32H508.22M484.32 722.97H508.22M484.32 713.62H508.22M484.32 704.27H508.22M484.32 694.92H508.22" stroke="#e0e0e0" stroke-width="0.5" fill="none"/>
<path d="M484.32 737H508.22M484.32 727.65H508.22M484.32 718.3H508.22M484.32 708.95H508.22M484.32 699.6H508.22M496.27 692.5V743.6" stroke="#cfcfcf" stroke-width="0.7" fill="none"/>
<line x1="496.27" y1="705.4" x2="496.27" y2="733.6" stroke="#b3b5b4" stroke-width="1.7"/>
<rect x="488.47" y="714.8" width="15.6" height="10.2" fill="#b3b5b4"/>
<circle cx="496.27" cy="700" r="1.65" fill="#b3b5b4"/>
<rect x="484.32" y="692.5" width="23.9" height="51.1" fill="none" stroke="#464a4e" stroke-width="0.85" rx="0.2"/>
<line x1="117.4" y1="699.6" x2="119.2" y2="699.6" stroke="#333" stroke-width="0.6"/>
<text x="116.3" y="702.25" font-size="7.4" text-anchor="end" fill="#000" stroke="#000" stroke-width="0.2">2</text>
<line x1="117.4" y1="708.95" x2="119.2" y2="708.95" stroke="#333" stroke-width="0.6"/>
<text x="116.3" y="711.6" font-size="7.4" text-anchor="end" fill="#000" stroke="#000" stroke-width="0.2">1</text>
<line x1="117.4" y1="718.3" x2="119.2" y2="718.3" stroke="#333" stroke-width="0.6"/>
<text x="116.3" y="720.95" font-size="7.4" text-anchor="end" fill="#000" stroke="#000" stroke-width="0.2">0</text>
<line x1="117.4" y1="727.65" x2="119.2" y2="727.65" stroke="#333" stroke-width="0.6"/>
<text x="116.3" y="730.3" font-size="7.4" text-anchor="end" fill="#000" stroke="#000" stroke-width="0.2">−1</text>
<line x1="117.4" y1="737" x2="119.2" y2="737" stroke="#333" stroke-width="0.6"/>
<text x="116.3" y="739.65" font-size="7.4" text-anchor="end" fill="#000" stroke="#000" stroke-width="0.2">−2</text>
<rect x="508.2" y="692.5" width="10.1" height="51.1" fill="#d0d0d0" stroke="#464a4e" stroke-width="0.9"/>
<text x="511.5" y="718.05" font-size="6.3" text-anchor="middle" fill="#1a1a1a" transform="rotate(90 511.5 718.05)">IFNγ CPI</text>
<text x="88.8" y="721.2" font-size="8.3" text-anchor="end" fill="#000">IFNγ CPI</text>
<rect x="119.5" y="747.7" width="23.25" height="51.1" fill="#fff"/>
<path d="M119.5 796.77H142.75M119.5 787.42H142.75M119.5 778.07H142.75M119.5 768.73H142.75M119.5 759.38H142.75M119.5 750.02H142.75" stroke="#e0e0e0" stroke-width="0.5" fill="none"/>
<path d="M119.5 792.1H142.75M119.5 782.75H142.75M119.5 773.4H142.75M119.5 764.05H142.75M119.5 754.7H142.75M131.12 747.7V798.8" stroke="#cfcfcf" stroke-width="0.7" fill="none"/>
<line x1="131.12" y1="761.8" x2="131.12" y2="781.8" stroke="#b3b5b4" stroke-width="1.7"/>
<rect x="123.42" y="766.3" width="15.4" height="7.25" fill="#b3b5b4"/>
<circle cx="131.12" cy="753.55" r="1.65" fill="#b3b5b4"/>
<rect x="119.5" y="747.7" width="23.25" height="51.1" fill="none" stroke="#464a4e" stroke-width="0.85" rx="0.2"/>
<rect x="145.53" y="747.7" width="23.25" height="51.1" fill="#fff"/>
<path d="M145.53 796.77H168.78M145.53 787.42H168.78M145.53 778.07H168.78M145.53 768.73H168.78M145.53 759.38H168.78M145.53 750.02H168.78" stroke="#e0e0e0" stroke-width="0.5" fill="none"/>
<path d="M145.53 792.1H168.78M145.53 782.75H168.78M145.53 773.4H168.78M145.53 764.05H168.78M145.53 754.7H168.78M157.16 747.7V798.8" stroke="#cfcfcf" stroke-width="0.7" fill="none"/>
<line x1="157.16" y1="768.05" x2="157.16" y2="784.3" stroke="#b3b5b4" stroke-width="1.7"/>
<rect x="149.46" y="771.8" width="15.4" height="6.75" fill="#b3b5b4"/>
<circle cx="157.16" cy="755.55" r="1.65" fill="#b3b5b4"/>
<circle cx="157.16" cy="761.05" r="1.65" fill="#b3b5b4"/>
<rect x="145.53" y="747.7" width="23.25" height="51.1" fill="none" stroke="#464a4e" stroke-width="0.85" rx="0.2"/>
<rect x="171.56" y="747.7" width="23.25" height="51.1" fill="#fff"/>
<path d="M171.56 796.77H194.81M171.56 787.42H194.81M171.56 778.07H194.81M171.56 768.73H194.81M171.56 759.38H194.81M171.56 750.02H194.81" stroke="#e0e0e0" stroke-width="0.5" fill="none"/>
<path d="M171.56 792.1H194.81M171.56 782.75H194.81M171.56 773.4H194.81M171.56 764.05H194.81M171.56 754.7H194.81M183.19 747.7V798.8" stroke="#cfcfcf" stroke-width="0.7" fill="none"/>
<line x1="183.19" y1="754.3" x2="183.19" y2="793.05" stroke="#b3b5b4" stroke-width="1.7"/>
<rect x="175.49" y="771.05" width="15.4" height="17" fill="#b3b5b4"/>
<rect x="171.56" y="747.7" width="23.25" height="51.1" fill="none" stroke="#464a4e" stroke-width="0.85" rx="0.2"/>
<rect x="197.59" y="747.7" width="23.25" height="51.1" fill="#fff"/>
<path d="M197.59 796.77H220.84M197.59 787.42H220.84M197.59 778.07H220.84M197.59 768.73H220.84M197.59 759.38H220.84M197.59 750.02H220.84" stroke="#e0e0e0" stroke-width="0.5" fill="none"/>
<path d="M197.59 792.1H220.84M197.59 782.75H220.84M197.59 773.4H220.84M197.59 764.05H220.84M197.59 754.7H220.84M209.22 747.7V798.8" stroke="#cfcfcf" stroke-width="0.7" fill="none"/>
<line x1="209.22" y1="759.3" x2="209.22" y2="785.3" stroke="#b3b5b4" stroke-width="1.7"/>
<rect x="201.52" y="767.55" width="15.4" height="16.25" fill="#b3b5b4"/>
<rect x="197.59" y="747.7" width="23.25" height="51.1" fill="none" stroke="#464a4e" stroke-width="0.85" rx="0.2"/>
<rect x="223.62" y="747.7" width="23.25" height="51.1" fill="#fff"/>
<path d="M223.62 796.77H246.87M223.62 787.42H246.87M223.62 778.07H246.87M223.62 768.73H246.87M223.62 759.38H246.87M223.62 750.02H246.87" stroke="#e0e0e0" stroke-width="0.5" fill="none"/>
<path d="M223.62 792.1H246.87M223.62 782.75H246.87M223.62 773.4H246.87M223.62 764.05H246.87M223.62 754.7H246.87M235.25 747.7V798.8" stroke="#cfcfcf" stroke-width="0.7" fill="none"/>
<line x1="235.25" y1="763.05" x2="235.25" y2="783.55" stroke="#ec1f26" stroke-width="1.7"/>
<rect x="227.55" y="768.8" width="15.4" height="7.25" fill="#ec1f26"/>
<circle cx="235.25" cy="752.9" r="1.65" fill="#ec1f26"/>
<circle cx="235.25" cy="755.5" r="1.65" fill="#ec1f26"/>
<rect x="223.62" y="747.7" width="23.25" height="51.1" fill="none" stroke="#464a4e" stroke-width="0.85" rx="0.2"/>
<rect x="249.65" y="747.7" width="23.25" height="51.1" fill="#fff"/>
<path d="M249.65 796.77H272.9M249.65 787.42H272.9M249.65 778.07H272.9M249.65 768.73H272.9M249.65 759.38H272.9M249.65 750.02H272.9" stroke="#e0e0e0" stroke-width="0.5" fill="none"/>
<path d="M249.65 792.1H272.9M249.65 782.75H272.9M249.65 773.4H272.9M249.65 764.05H272.9M249.65 754.7H272.9M261.27 747.7V798.8" stroke="#cfcfcf" stroke-width="0.7" fill="none"/>
<line x1="261.27" y1="769.3" x2="261.27" y2="779.3" stroke="#b3b5b4" stroke-width="1.7"/>
<rect x="253.57" y="772.55" width="15.4" height="3.5" fill="#b3b5b4"/>
<rect x="249.65" y="747.7" width="23.25" height="51.1" fill="none" stroke="#464a4e" stroke-width="0.85" rx="0.2"/>
<rect x="275.68" y="747.7" width="23.25" height="51.1" fill="#fff"/>
<path d="M275.68 796.77H298.93M275.68 787.42H298.93M275.68 778.07H298.93M275.68 768.73H298.93M275.68 759.38H298.93M275.68 750.02H298.93" stroke="#e0e0e0" stroke-width="0.5" fill="none"/>
<path d="M275.68 792.1H298.93M275.68 782.75H298.93M275.68 773.4H298.93M275.68 764.05H298.93M275.68 754.7H298.93M287.31 747.7V798.8" stroke="#cfcfcf" stroke-width="0.7" fill="none"/>
<line x1="287.31" y1="765.55" x2="287.31" y2="775.55" stroke="#b3b5b4" stroke-width="1.7"/>
<rect x="279.61" y="768.05" width="15.4" height="5.5" fill="#b3b5b4"/>
<rect x="275.68" y="747.7" width="23.25" height="51.1" fill="none" stroke="#464a4e" stroke-width="0.85" rx="0.2"/>
<rect x="301.71" y="747.7" width="23.25" height="51.1" fill="#fff"/>
<path d="M301.71 796.77H324.96M301.71 787.42H324.96M301.71 778.07H324.96M301.71 768.73H324.96M301.71 759.38H324.96M301.71 750.02H324.96" stroke="#e0e0e0" stroke-width="0.5" fill="none"/>
<path d="M301.71 792.1H324.96M301.71 782.75H324.96M301.71 773.4H324.96M301.71 764.05H324.96M301.71 754.7H324.96M313.34 747.7V798.8" stroke="#cfcfcf" stroke-width="0.7" fill="none"/>
<line x1="313.34" y1="761.8" x2="313.34" y2="790.55" stroke="#b3b5b4" stroke-width="1.7"/>
<rect x="305.64" y="769.8" width="15.4" height="12" fill="#b3b5b4"/>
<rect x="301.71" y="747.7" width="23.25" height="51.1" fill="none" stroke="#464a4e" stroke-width="0.85" rx="0.2"/>
<rect x="327.74" y="747.7" width="23.25" height="51.1" fill="#fff"/>
<path d="M327.74 796.77H350.99M327.74 787.42H350.99M327.74 778.07H350.99M327.74 768.73H350.99M327.74 759.38H350.99M327.74 750.02H350.99" stroke="#e0e0e0" stroke-width="0.5" fill="none"/>
<path d="M327.74 792.1H350.99M327.74 782.75H350.99M327.74 773.4H350.99M327.74 764.05H350.99M327.74 754.7H350.99M339.37 747.7V798.8" stroke="#cfcfcf" stroke-width="0.7" fill="none"/>
<line x1="339.37" y1="769.3" x2="339.37" y2="788.05" stroke="#b3b5b4" stroke-width="1.7"/>
<rect x="331.67" y="775.55" width="15.4" height="4.25" fill="#b3b5b4"/>
<circle cx="339.37" cy="765.55" r="1.65" fill="#b3b5b4"/>
<circle cx="339.37" cy="794.3" r="1.65" fill="#b3b5b4"/>
<rect x="327.74" y="747.7" width="23.25" height="51.1" fill="none" stroke="#464a4e" stroke-width="0.85" rx="0.2"/>
<rect x="431.16" y="747.7" width="23.9" height="51.1" fill="#fff"/>
<path d="M431.16 796.77H455.06M431.16 787.42H455.06M431.16 778.07H455.06M431.16 768.73H455.06M431.16 759.38H455.06M431.16 750.02H455.06" stroke="#e0e0e0" stroke-width="0.5" fill="none"/>
<path d="M431.16 792.1H455.06M431.16 782.75H455.06M431.16 773.4H455.06M431.16 764.05H455.06M431.16 754.7H455.06M443.11 747.7V798.8" stroke="#cfcfcf" stroke-width="0.7" fill="none"/>
<line x1="443.11" y1="771.2" x2="443.11" y2="780.6" stroke="#b3b5b4" stroke-width="1.7"/>
<rect x="435.31" y="773.9" width="15.6" height="4.6" fill="#b3b5b4"/>
<circle cx="443.11" cy="761.8" r="1.65" fill="#b3b5b4"/>
<circle cx="443.11" cy="768.5" r="1.65" fill="#b3b5b4"/>
<rect x="431.16" y="747.7" width="23.9" height="51.1" fill="none" stroke="#464a4e" stroke-width="0.85" rx="0.2"/>
<rect x="457.74" y="747.7" width="23.9" height="51.1" fill="#fff"/>
<path d="M457.74 796.77H481.64M457.74 787.42H481.64M457.74 778.07H481.64M457.74 768.73H481.64M457.74 759.38H481.64M457.74 750.02H481.64" stroke="#e0e0e0" stroke-width="0.5" fill="none"/>
<path d="M457.74 792.1H481.64M457.74 782.75H481.64M457.74 773.4H481.64M457.74 764.05H481.64M457.74 754.7H481.64M469.69 747.7V798.8" stroke="#cfcfcf" stroke-width="0.7" fill="none"/>
<line x1="469.69" y1="766.4" x2="469.69" y2="796" stroke="#2e3192" stroke-width="1.7"/>
<rect x="461.89" y="774.5" width="15.6" height="12.9" fill="#2e3192"/>
<rect x="457.74" y="747.7" width="23.9" height="51.1" fill="none" stroke="#464a4e" stroke-width="0.85" rx="0.2"/>
<rect x="484.32" y="747.7" width="23.9" height="51.1" fill="#fff"/>
<path d="M484.32 796.77H508.22M484.32 787.42H508.22M484.32 778.07H508.22M484.32 768.73H508.22M484.32 759.38H508.22M484.32 750.02H508.22" stroke="#e0e0e0" stroke-width="0.5" fill="none"/>
<path d="M484.32 792.1H508.22M484.32 782.75H508.22M484.32 773.4H508.22M484.32 764.05H508.22M484.32 754.7H508.22M496.27 747.7V798.8" stroke="#cfcfcf" stroke-width="0.7" fill="none"/>
<line x1="496.27" y1="770.4" x2="496.27" y2="791.4" stroke="#2e3192" stroke-width="1.7"/>
<rect x="488.47" y="777.4" width="15.6" height="9.2" fill="#2e3192"/>
<rect x="484.32" y="747.7" width="23.9" height="51.1" fill="none" stroke="#464a4e" stroke-width="0.85" rx="0.2"/>
<line x1="117.4" y1="754.7" x2="119.2" y2="754.7" stroke="#333" stroke-width="0.6"/>
<text x="116.3" y="757.35" font-size="7.4" text-anchor="end" fill="#000" stroke="#000" stroke-width="0.2">2</text>
<line x1="117.4" y1="764.05" x2="119.2" y2="764.05" stroke="#333" stroke-width="0.6"/>
<text x="116.3" y="766.7" font-size="7.4" text-anchor="end" fill="#000" stroke="#000" stroke-width="0.2">1</text>
<line x1="117.4" y1="773.4" x2="119.2" y2="773.4" stroke="#333" stroke-width="0.6"/>
<text x="116.3" y="776.05" font-size="7.4" text-anchor="end" fill="#000" stroke="#000" stroke-width="0.2">0</text>
<line x1="117.4" y1="782.75" x2="119.2" y2="782.75" stroke="#333" stroke-width="0.6"/>
<text x="116.3" y="785.4" font-size="7.4" text-anchor="end" fill="#000" stroke="#000" stroke-width="0.2">−1</text>
<line x1="117.4" y1="792.1" x2="119.2" y2="792.1" stroke="#333" stroke-width="0.6"/>
<text x="116.3" y="794.75" font-size="7.4" text-anchor="end" fill="#000" stroke="#000" stroke-width="0.2">−2</text>
<rect x="508.2" y="747.7" width="10.1" height="51.1" fill="#d0d0d0" stroke="#464a4e" stroke-width="0.9"/>
<text x="511.5" y="773.25" font-size="6.3" text-anchor="middle" fill="#1a1a1a" transform="rotate(90 511.5 773.25)">IFNγ Merck</text>
<text x="88.8" y="776.3" font-size="8.3" text-anchor="end" fill="#000">IFNγ Merck</text>
<rect x="119.5" y="802.9" width="23.25" height="51.1" fill="#fff"/>
<path d="M119.5 852.08H142.75M119.5 842.73H142.75M119.5 833.38H142.75M119.5 824.03H142.75M119.5 814.68H142.75M119.5 805.33H142.75" stroke="#e0e0e0" stroke-width="0.5" fill="none"/>
<path d="M119.5 847.4H142.75M119.5 838.05H142.75M119.5 828.7H142.75M119.5 819.35H142.75M119.5 810H142.75M131.12 802.9V854" stroke="#cfcfcf" stroke-width="0.7" fill="none"/>
<line x1="131.12" y1="816.7" x2="131.12" y2="839.2" stroke="#b3b5b4" stroke-width="1.7"/>
<rect x="123.42" y="824.2" width="15.4" height="8" fill="#b3b5b4"/>
<rect x="119.5" y="802.9" width="23.25" height="51.1" fill="none" stroke="#464a4e" stroke-width="0.85" rx="0.2"/>
<rect x="145.53" y="802.9" width="23.25" height="51.1" fill="#fff"/>
<path d="M145.53 852.08H168.78M145.53 842.73H168.78M145.53 833.38H168.78M145.53 824.03H168.78M145.53 814.68H168.78M145.53 805.33H168.78" stroke="#e0e0e0" stroke-width="0.5" fill="none"/>
<path d="M145.53 847.4H168.78M145.53 838.05H168.78M145.53 828.7H168.78M145.53 819.35H168.78M145.53 810H168.78M157.16 802.9V854" stroke="#cfcfcf" stroke-width="0.7" fill="none"/>
<line x1="157.16" y1="812.95" x2="157.16" y2="841.7" stroke="#b3b5b4" stroke-width="1.7"/>
<rect x="149.46" y="823.45" width="15.4" height="8.25" fill="#b3b5b4"/>
<circle cx="157.16" cy="807.45" r="1.65" fill="#b3b5b4"/>
<circle cx="157.16" cy="810.45" r="1.65" fill="#b3b5b4"/>
<circle cx="157.16" cy="844.2" r="1.65" fill="#b3b5b4"/>
<rect x="145.53" y="802.9" width="23.25" height="51.1" fill="none" stroke="#464a4e" stroke-width="0.85" rx="0.2"/>
<rect x="171.56" y="802.9" width="23.25" height="51.1" fill="#fff"/>
<path d="M171.56 852.08H194.81M171.56 842.73H194.81M171.56 833.38H194.81M171.56 824.03H194.81M171.56 814.68H194.81M171.56 805.33H194.81" stroke="#e0e0e0" stroke-width="0.5" fill="none"/>
<path d="M171.56 847.4H194.81M171.56 838.05H194.81M171.56 828.7H194.81M171.56 819.35H194.81M171.56 810H194.81M183.19 802.9V854" stroke="#cfcfcf" stroke-width="0.7" fill="none"/>
<line x1="183.19" y1="809.2" x2="183.19" y2="846.7" stroke="#b3b5b4" stroke-width="1.7"/>
<rect x="175.49" y="819.7" width="15.4" height="12.5" fill="#b3b5b4"/>
<circle cx="183.19" cy="849.2" r="1.65" fill="#b3b5b4"/>
<rect x="171.56" y="802.9" width="23.25" height="51.1" fill="none" stroke="#464a4e" stroke-width="0.85" rx="0.2"/>
<rect x="197.59" y="802.9" width="23.25" height="51.1" fill="#fff"/>
<path d="M197.59 852.08H220.84M197.59 842.73H220.84M197.59 833.38H220.84M197.59 824.03H220.84M197.59 814.68H220.84M197.59 805.33H220.84" stroke="#e0e0e0" stroke-width="0.5" fill="none"/>
<path d="M197.59 847.4H220.84M197.59 838.05H220.84M197.59 828.7H220.84M197.59 819.35H220.84M197.59 810H220.84M209.22 802.9V854" stroke="#cfcfcf" stroke-width="0.7" fill="none"/>
<line x1="209.22" y1="807.95" x2="209.22" y2="846.7" stroke="#b3b5b4" stroke-width="1.7"/>
<rect x="201.52" y="819.95" width="15.4" height="11" fill="#b3b5b4"/>
<circle cx="209.22" cy="849.2" r="1.65" fill="#b3b5b4"/>
<rect x="197.59" y="802.9" width="23.25" height="51.1" fill="none" stroke="#464a4e" stroke-width="0.85" rx="0.2"/>
<rect x="223.62" y="802.9" width="23.25" height="51.1" fill="#fff"/>
<path d="M223.62 852.08H246.87M223.62 842.73H246.87M223.62 833.38H246.87M223.62 824.03H246.87M223.62 814.68H246.87M223.62 805.33H246.87" stroke="#e0e0e0" stroke-width="0.5" fill="none"/>
<path d="M223.62 847.4H246.87M223.62 838.05H246.87M223.62 828.7H246.87M223.62 819.35H246.87M223.62 810H246.87M235.25 802.9V854" stroke="#cfcfcf" stroke-width="0.7" fill="none"/>
<line x1="235.25" y1="810.45" x2="235.25" y2="841.7" stroke="#b3b5b4" stroke-width="1.7"/>
<rect x="227.55" y="822.2" width="15.4" height="9" fill="#b3b5b4"/>
<circle cx="235.25" cy="844.2" r="1.65" fill="#b3b5b4"/>
<rect x="223.62" y="802.9" width="23.25" height="51.1" fill="none" stroke="#464a4e" stroke-width="0.85" rx="0.2"/>
<rect x="249.65" y="802.9" width="23.25" height="51.1" fill="#fff"/>
<path d="M249.65 852.08H272.9M249.65 842.73H272.9M249.65 833.38H272.9M249.65 824.03H272.9M249.65 814.68H272.9M249.65 805.33H272.9" stroke="#e0e0e0" stroke-width="0.5" fill="none"/>
<path d="M249.65 847.4H272.9M249.65 838.05H272.9M249.65 828.7H272.9M249.65 819.35H272.9M249.65 810H272.9M261.27 802.9V854" stroke="#cfcfcf" stroke-width="0.7" fill="none"/>
<line x1="261.27" y1="826.7" x2="261.27" y2="834.2" stroke="#b3b5b4" stroke-width="1.7"/>
<rect x="253.57" y="828.7" width="15.4" height="3" fill="#b3b5b4"/>
<circle cx="261.27" cy="825.45" r="1.65" fill="#b3b5b4"/>
<circle cx="261.27" cy="834.95" r="1.65" fill="#b3b5b4"/>
<rect x="249.65" y="802.9" width="23.25" height="51.1" fill="none" stroke="#464a4e" stroke-width="0.85" rx="0.2"/>
<rect x="275.68" y="802.9" width="23.25" height="51.1" fill="#fff"/>
<path d="M275.68 852.08H298.93M275.68 842.73H298.93M275.68 833.38H298.93M275.68 824.03H298.93M275.68 814.68H298.93M275.68 805.33H298.93" stroke="#e0e0e0" stroke-width="0.5" fill="none"/>
<path d="M275.68 847.4H298.93M275.68 838.05H298.93M275.68 828.7H298.93M275.68 819.35H298.93M275.68 810H298.93M287.31 802.9V854" stroke="#cfcfcf" stroke-width="0.7" fill="none"/>
<line x1="287.31" y1="821.7" x2="287.31" y2="834.2" stroke="#b3b5b4" stroke-width="1.7"/>
<rect x="279.61" y="826.7" width="15.4" height="5" fill="#b3b5b4"/>
<circle cx="287.31" cy="817.2" r="1.65" fill="#b3b5b4"/>
<circle cx="287.31" cy="818.8" r="1.65" fill="#b3b5b4"/>
<rect x="275.68" y="802.9" width="23.25" height="51.1" fill="none" stroke="#464a4e" stroke-width="0.85" rx="0.2"/>
<rect x="301.71" y="802.9" width="23.25" height="51.1" fill="#fff"/>
<path d="M301.71 852.08H324.96M301.71 842.73H324.96M301.71 833.38H324.96M301.71 824.03H324.96M301.71 814.68H324.96M301.71 805.33H324.96" stroke="#e0e0e0" stroke-width="0.5" fill="none"/>
<path d="M301.71 847.4H324.96M301.71 838.05H324.96M301.71 828.7H324.96M301.71 819.35H324.96M301.71 810H324.96M313.34 802.9V854" stroke="#cfcfcf" stroke-width="0.7" fill="none"/>
<line x1="313.34" y1="807.45" x2="313.34" y2="847.95" stroke="#ec1f26" stroke-width="1.7"/>
<rect x="305.64" y="817.95" width="15.4" height="13.25" fill="#ec1f26"/>
<rect x="301.71" y="802.9" width="23.25" height="51.1" fill="none" stroke="#464a4e" stroke-width="0.85" rx="0.2"/>
<rect x="327.74" y="802.9" width="23.25" height="51.1" fill="#fff"/>
<path d="M327.74 852.08H350.99M327.74 842.73H350.99M327.74 833.38H350.99M327.74 824.03H350.99M327.74 814.68H350.99M327.74 805.33H350.99" stroke="#e0e0e0" stroke-width="0.5" fill="none"/>
<path d="M327.74 847.4H350.99M327.74 838.05H350.99M327.74 828.7H350.99M327.74 819.35H350.99M327.74 810H350.99M339.37 802.9V854" stroke="#cfcfcf" stroke-width="0.7" fill="none"/>
<line x1="339.37" y1="817.95" x2="339.37" y2="840.45" stroke="#b3b5b4" stroke-width="1.7"/>
<rect x="331.67" y="825.95" width="15.4" height="7" fill="#b3b5b4"/>
<circle cx="339.37" cy="815.45" r="1.65" fill="#b3b5b4"/>
<rect x="327.74" y="802.9" width="23.25" height="51.1" fill="none" stroke="#464a4e" stroke-width="0.85" rx="0.2"/>
<rect x="431.16" y="802.9" width="23.9" height="51.1" fill="#fff"/>
<path d="M431.16 852.08H455.06M431.16 842.73H455.06M431.16 833.38H455.06M431.16 824.03H455.06M431.16 814.68H455.06M431.16 805.33H455.06" stroke="#e0e0e0" stroke-width="0.5" fill="none"/>
<path d="M431.16 847.4H455.06M431.16 838.05H455.06M431.16 828.7H455.06M431.16 819.35H455.06M431.16 810H455.06M443.11 802.9V854" stroke="#cfcfcf" stroke-width="0.7" fill="none"/>
<line x1="443.11" y1="823.4" x2="443.11" y2="839.6" stroke="#b3b5b4" stroke-width="1.7"/>
<rect x="435.31" y="826.9" width="15.6" height="6.5" fill="#b3b5b4"/>
<circle cx="443.11" cy="818.9" r="1.65" fill="#b3b5b4"/>
<rect x="431.16" y="802.9" width="23.9" height="51.1" fill="none" stroke="#464a4e" stroke-width="0.85" rx="0.2"/>
<rect x="457.74" y="802.9" width="23.9" height="51.1" fill="#fff"/>
<path d="M457.74 852.08H481.64M457.74 842.73H481.64M457.74 833.38H481.64M457.74 824.03H481.64M457.74 814.68H481.64M457.74 805.33H481.64" stroke="#e0e0e0" stroke-width="0.5" fill="none"/>
<path d="M457.74 847.4H481.64M457.74 838.05H481.64M457.74 828.7H481.64M457.74 819.35H481.64M457.74 810H481.64M469.69 802.9V854" stroke="#cfcfcf" stroke-width="0.7" fill="none"/>
<line x1="469.69" y1="811.3" x2="469.69" y2="845" stroke="#b3b5b4" stroke-width="1.7"/>
<rect x="461.89" y="819.9" width="15.6" height="14.3" fill="#b3b5b4"/>
<rect x="457.74" y="802.9" width="23.9" height="51.1" fill="none" stroke="#464a4e" stroke-width="0.85" rx="0.2"/>
<rect x="484.32" y="802.9" width="23.9" height="51.1" fill="#fff"/>
<path d="M484.32 852.08H508.22M484.32 842.73H508.22M484.32 833.38H508.22M484.32 824.03H508.22M484.32 814.68H508.22M484.32 805.33H508.22" stroke="#e0e0e0" stroke-width="0.5" fill="none"/>
<path d="M484.32 847.4H508.22M484.32 838.05H508.22M484.32 828.7H508.22M484.32 819.35H508.22M484.32 810H508.22M496.27 802.9V854" stroke="#cfcfcf" stroke-width="0.7" fill="none"/>
<line x1="496.27" y1="808.1" x2="496.27" y2="847.7" stroke="#b3b5b4" stroke-width="1.7"/>
<rect x="488.47" y="824" width="15.6" height="13.7" fill="#b3b5b4"/>
<rect x="484.32" y="802.9" width="23.9" height="51.1" fill="none" stroke="#464a4e" stroke-width="0.85" rx="0.2"/>
<line x1="117.4" y1="810" x2="119.2" y2="810" stroke="#333" stroke-width="0.6"/>
<text x="116.3" y="812.65" font-size="7.4" text-anchor="end" fill="#000" stroke="#000" stroke-width="0.2">2</text>
<line x1="117.4" y1="819.35" x2="119.2" y2="819.35" stroke="#333" stroke-width="0.6"/>
<text x="116.3" y="822" font-size="7.4" text-anchor="end" fill="#000" stroke="#000" stroke-width="0.2">1</text>
<line x1="117.4" y1="828.7" x2="119.2" y2="828.7" stroke="#333" stroke-width="0.6"/>
<text x="116.3" y="831.35" font-size="7.4" text-anchor="end" fill="#000" stroke="#000" stroke-width="0.2">0</text>
<line x1="117.4" y1="838.05" x2="119.2" y2="838.05" stroke="#333" stroke-width="0.6"/>
<text x="116.3" y="840.7" font-size="7.4" text-anchor="end" fill="#000" stroke="#000" stroke-width="0.2">−1</text>
<line x1="117.4" y1="847.4" x2="119.2" y2="847.4" stroke="#333" stroke-width="0.6"/>
<text x="116.3" y="850.05" font-size="7.4" text-anchor="end" fill="#000" stroke="#000" stroke-width="0.2">−2</text>
<rect x="508.2" y="802.9" width="10.1" height="51.1" fill="#d0d0d0" stroke="#464a4e" stroke-width="0.9"/>
<text x="511.5" y="828.45" font-size="6.3" text-anchor="middle" fill="#1a1a1a" transform="rotate(90 511.5 828.45)">NJH395 response</text>
<text x="88.8" y="831.6" font-size="8.3" text-anchor="end" fill="#000">NJH395 response</text>
<rect x="119.5" y="858.1" width="23.25" height="51.1" fill="#fff"/>
<path d="M119.5 907.17H142.75M119.5 897.82H142.75M119.5 888.47H142.75M119.5 879.12H142.75M119.5 869.77H142.75M119.5 860.42H142.75" stroke="#e0e0e0" stroke-width="0.5" fill="none"/>
<path d="M119.5 902.5H142.75M119.5 893.15H142.75M119.5 883.8H142.75M119.5 874.45H142.75M119.5 865.1H142.75M131.12 858.1V909.2" stroke="#cfcfcf" stroke-width="0.7" fill="none"/>
<line x1="131.12" y1="870.55" x2="131.12" y2="893.05" stroke="#b3b5b4" stroke-width="1.7"/>
<rect x="123.42" y="879.8" width="15.4" height="7" fill="#b3b5b4"/>
<circle cx="131.12" cy="862.55" r="1.65" fill="#b3b5b4"/>
<circle cx="131.12" cy="865.55" r="1.65" fill="#b3b5b4"/>
<circle cx="131.12" cy="896.3" r="1.65" fill="#b3b5b4"/>
<circle cx="131.12" cy="898.8" r="1.65" fill="#b3b5b4"/>
<rect x="119.5" y="858.1" width="23.25" height="51.1" fill="none" stroke="#464a4e" stroke-width="0.85" rx="0.2"/>
<rect x="145.53" y="858.1" width="23.25" height="51.1" fill="#fff"/>
<path d="M145.53 907.17H168.78M145.53 897.82H168.78M145.53 888.47H168.78M145.53 879.12H168.78M145.53 869.77H168.78M145.53 860.42H168.78" stroke="#e0e0e0" stroke-width="0.5" fill="none"/>
<path d="M145.53 902.5H168.78M145.53 893.15H168.78M145.53 883.8H168.78M145.53 874.45H168.78M145.53 865.1H168.78M157.16 858.1V909.2" stroke="#cfcfcf" stroke-width="0.7" fill="none"/>
<line x1="157.16" y1="870.55" x2="157.16" y2="895.55" stroke="#b3b5b4" stroke-width="1.7"/>
<rect x="149.46" y="879.8" width="15.4" height="11.25" fill="#b3b5b4"/>
<circle cx="157.16" cy="863.8" r="1.65" fill="#b3b5b4"/>
<rect x="145.53" y="858.1" width="23.25" height="51.1" fill="none" stroke="#464a4e" stroke-width="0.85" rx="0.2"/>
<rect x="171.56" y="858.1" width="23.25" height="51.1" fill="#fff"/>
<path d="M171.56 907.17H194.81M171.56 897.82H194.81M171.56 888.47H194.81M171.56 879.12H194.81M171.56 869.77H194.81M171.56 860.42H194.81" stroke="#e0e0e0" stroke-width="0.5" fill="none"/>
<path d="M171.56 902.5H194.81M171.56 893.15H194.81M171.56 883.8H194.81M171.56 874.45H194.81M171.56 865.1H194.81M183.19 858.1V909.2" stroke="#cfcfcf" stroke-width="0.7" fill="none"/>
<line x1="183.19" y1="868.05" x2="183.19" y2="903.05" stroke="#b3b5b4" stroke-width="1.7"/>
<rect x="175.49" y="879.3" width="15.4" height="14.5" fill="#b3b5b4"/>
<rect x="171.56" y="858.1" width="23.25" height="51.1" fill="none" stroke="#464a4e" stroke-width="0.85" rx="0.2"/>
<rect x="197.59" y="858.1" width="23.25" height="51.1" fill="#fff"/>
<path d="M197.59 907.17H220.84M197.59 897.82H220.84M197.59 888.47H220.84M197.59 879.12H220.84M197.59 869.77H220.84M197.59 860.42H220.84" stroke="#e0e0e0" stroke-width="0.5" fill="none"/>
<path d="M197.59 902.5H220.84M197.59 893.15H220.84M197.59 883.8H220.84M197.59 874.45H220.84M197.59 865.1H220.84M209.22 858.1V909.2" stroke="#cfcfcf" stroke-width="0.7" fill="none"/>
<line x1="209.22" y1="869.3" x2="209.22" y2="895.55" stroke="#b3b5b4" stroke-width="1.7"/>
<rect x="201.52" y="880.05" width="15.4" height="8.75" fill="#b3b5b4"/>
<circle cx="209.22" cy="865.05" r="1.65" fill="#b3b5b4"/>
<rect x="197.59" y="858.1" width="23.25" height="51.1" fill="none" stroke="#464a4e" stroke-width="0.85" rx="0.2"/>
<rect x="223.62" y="858.1" width="23.25" height="51.1" fill="#fff"/>
<path d="M223.62 907.17H246.87M223.62 897.82H246.87M223.62 888.47H246.87M223.62 879.12H246.87M223.62 869.77H246.87M223.62 860.42H246.87" stroke="#e0e0e0" stroke-width="0.5" fill="none"/>
<path d="M223.62 902.5H246.87M223.62 893.15H246.87M223.62 883.8H246.87M223.62 874.45H246.87M223.62 865.1H246.87M235.25 858.1V909.2" stroke="#cfcfcf" stroke-width="0.7" fill="none"/>
<line x1="235.25" y1="868.05" x2="235.25" y2="896.8" stroke="#b3b5b4" stroke-width="1.7"/>
<rect x="227.55" y="879.3" width="15.4" height="8.75" fill="#b3b5b4"/>
<circle cx="235.25" cy="862.55" r="1.65" fill="#b3b5b4"/>
<circle cx="235.25" cy="865.05" r="1.65" fill="#b3b5b4"/>
<rect x="223.62" y="858.1" width="23.25" height="51.1" fill="none" stroke="#464a4e" stroke-width="0.85" rx="0.2"/>
<rect x="249.65" y="858.1" width="23.25" height="51.1" fill="#fff"/>
<path d="M249.65 907.17H272.9M249.65 897.82H272.9M249.65 888.47H272.9M249.65 879.12H272.9M249.65 869.77H272.9M249.65 860.42H272.9" stroke="#e0e0e0" stroke-width="0.5" fill="none"/>
<path d="M249.65 902.5H272.9M249.65 893.15H272.9M249.65 883.8H272.9M249.65 874.45H272.9M249.65 865.1H272.9M261.27 858.1V909.2" stroke="#cfcfcf" stroke-width="0.7" fill="none"/>
<line x1="261.27" y1="881.3" x2="261.27" y2="889.3" stroke="#b3b5b4" stroke-width="1.7"/>
<rect x="253.57" y="883.55" width="15.4" height="2.75" fill="#b3b5b4"/>
<circle cx="261.27" cy="880.05" r="1.65" fill="#b3b5b4"/>
<circle cx="261.27" cy="891.3" r="1.65" fill="#b3b5b4"/>
<rect x="249.65" y="858.1" width="23.25" height="51.1" fill="none" stroke="#464a4e" stroke-width="0.85" rx="0.2"/>
<rect x="275.68" y="858.1" width="23.25" height="51.1" fill="#fff"/>
<path d="M275.68 907.17H298.93M275.68 897.82H298.93M275.68 888.47H298.93M275.68 879.12H298.93M275.68 869.77H298.93M275.68 860.42H298.93" stroke="#e0e0e0" stroke-width="0.5" fill="none"/>
<path d="M275.68 902.5H298.93M275.68 893.15H298.93M275.68 883.8H298.93M275.68 874.45H298.93M275.68 865.1H298.93M287.31 858.1V909.2" stroke="#cfcfcf" stroke-width="0.7" fill="none"/>
<line x1="287.31" y1="875.55" x2="287.31" y2="893.05" stroke="#b3b5b4" stroke-width="1.7"/>
<rect x="279.61" y="880.55" width="15.4" height="6.25" fill="#b3b5b4"/>
<rect x="275.68" y="858.1" width="23.25" height="51.1" fill="none" stroke="#464a4e" stroke-width="0.85" rx="0.2"/>
<rect x="301.71" y="858.1" width="23.25" height="51.1" fill="#fff"/>
<path d="M301.71 907.17H324.96M301.71 897.82H324.96M301.71 888.47H324.96M301.71 879.12H324.96M301.71 869.77H324.96M301.71 860.42H324.96" stroke="#e0e0e0" stroke-width="0.5" fill="none"/>
<path d="M301.71 902.5H324.96M301.71 893.15H324.96M301.71 883.8H324.96M301.71 874.45H324.96M301.71 865.1H324.96M313.34 858.1V909.2" stroke="#cfcfcf" stroke-width="0.7" fill="none"/>
<line x1="313.34" y1="864.3" x2="313.34" y2="901.8" stroke="#b3b5b4" stroke-width="1.7"/>
<rect x="305.64" y="879.3" width="15.4" height="12.5" fill="#b3b5b4"/>
<rect x="301.71" y="858.1" width="23.25" height="51.1" fill="none" stroke="#464a4e" stroke-width="0.85" rx="0.2"/>
<rect x="327.74" y="858.1" width="23.25" height="51.1" fill="#fff"/>
<path d="M327.74 907.17H350.99M327.74 897.82H350.99M327.74 888.47H350.99M327.74 879.12H350.99M327.74 869.77H350.99M327.74 860.42H350.99" stroke="#e0e0e0" stroke-width="0.5" fill="none"/>
<path d="M327.74 902.5H350.99M327.74 893.15H350.99M327.74 883.8H350.99M327.74 874.45H350.99M327.74 865.1H350.99M339.37 858.1V909.2" stroke="#cfcfcf" stroke-width="0.7" fill="none"/>
<line x1="339.37" y1="871.8" x2="339.37" y2="894.3" stroke="#b3b5b4" stroke-width="1.7"/>
<rect x="331.67" y="881.3" width="15.4" height="7.5" fill="#b3b5b4"/>
<rect x="327.74" y="858.1" width="23.25" height="51.1" fill="none" stroke="#464a4e" stroke-width="0.85" rx="0.2"/>
<rect x="431.16" y="858.1" width="23.9" height="51.1" fill="#fff"/>
<path d="M431.16 907.17H455.06M431.16 897.82H455.06M431.16 888.47H455.06M431.16 879.12H455.06M431.16 869.77H455.06M431.16 860.42H455.06" stroke="#e0e0e0" stroke-width="0.5" fill="none"/>
<path d="M431.16 902.5H455.06M431.16 893.15H455.06M431.16 883.8H455.06M431.16 874.45H455.06M431.16 865.1H455.06M443.11 858.1V909.2" stroke="#cfcfcf" stroke-width="0.7" fill="none"/>
<line x1="443.11" y1="878.5" x2="443.11" y2="890.6" stroke="#b3b5b4" stroke-width="1.7"/>
<rect x="435.31" y="882" width="15.6" height="4.6" fill="#b3b5b4"/>
<circle cx="443.11" cy="873.7" r="1.65" fill="#b3b5b4"/>
<rect x="431.16" y="858.1" width="23.9" height="51.1" fill="none" stroke="#464a4e" stroke-width="0.85" rx="0.2"/>
<rect x="457.74" y="858.1" width="23.9" height="51.1" fill="#fff"/>
<path d="M457.74 907.17H481.64M457.74 897.82H481.64M457.74 888.47H481.64M457.74 879.12H481.64M457.74 869.77H481.64M457.74 860.42H481.64" stroke="#e0e0e0" stroke-width="0.5" fill="none"/>
<path d="M457.74 902.5H481.64M457.74 893.15H481.64M457.74 883.8H481.64M457.74 874.45H481.64M457.74 865.1H481.64M469.69 858.1V909.2" stroke="#cfcfcf" stroke-width="0.7" fill="none"/>
<line x1="469.69" y1="871" x2="469.69" y2="902.8" stroke="#b3b5b4" stroke-width="1.7"/>
<rect x="461.89" y="881.2" width="15.6" height="13.5" fill="#b3b5b4"/>
<rect x="457.74" y="858.1" width="23.9" height="51.1" fill="none" stroke="#464a4e" stroke-width="0.85" rx="0.2"/>
<rect x="484.32" y="858.1" width="23.9" height="51.1" fill="#fff"/>
<path d="M484.32 907.17H508.22M484.32 897.82H508.22M484.32 888.47H508.22M484.32 879.12H508.22M484.32 869.77H508.22M484.32 860.42H508.22" stroke="#e0e0e0" stroke-width="0.5" fill="none"/>
<path d="M484.32 902.5H508.22M484.32 893.15H508.22M484.32 883.8H508.22M484.32 874.45H508.22M484.32 865.1H508.22M496.27 858.1V909.2" stroke="#cfcfcf" stroke-width="0.7" fill="none"/>
<line x1="496.27" y1="864.3" x2="496.27" y2="904.1" stroke="#2e3192" stroke-width="1.7"/>
<rect x="488.47" y="880.4" width="15.6" height="15.6" fill="#2e3192"/>
<rect x="484.32" y="858.1" width="23.9" height="51.1" fill="none" stroke="#464a4e" stroke-width="0.85" rx="0.2"/>
<line x1="117.4" y1="865.1" x2="119.2" y2="865.1" stroke="#333" stroke-width="0.6"/>
<text x="116.3" y="867.75" font-size="7.4" text-anchor="end" fill="#000" stroke="#000" stroke-width="0.2">2</text>
<line x1="117.4" y1="874.45" x2="119.2" y2="874.45" stroke="#333" stroke-width="0.6"/>
<text x="116.3" y="877.1" font-size="7.4" text-anchor="end" fill="#000" stroke="#000" stroke-width="0.2">1</text>
<line x1="117.4" y1="883.8" x2="119.2" y2="883.8" stroke="#333" stroke-width="0.6"/>
<text x="116.3" y="886.45" font-size="7.4" text-anchor="end" fill="#000" stroke="#000" stroke-width="0.2">0</text>
<line x1="117.4" y1="893.15" x2="119.2" y2="893.15" stroke="#333" stroke-width="0.6"/>
<text x="116.3" y="895.8" font-size="7.4" text-anchor="end" fill="#000" stroke="#000" stroke-width="0.2">−1</text>
<line x1="117.4" y1="902.5" x2="119.2" y2="902.5" stroke="#333" stroke-width="0.6"/>
<text x="116.3" y="905.15" font-size="7.4" text-anchor="end" fill="#000" stroke="#000" stroke-width="0.2">−2</text>
<rect x="508.2" y="858.1" width="10.1" height="51.1" fill="#d0d0d0" stroke="#464a4e" stroke-width="0.9"/>
<text x="511.5" y="883.65" font-size="6.3" text-anchor="middle" fill="#1a1a1a" transform="rotate(90 511.5 883.65)">Immune index g.s.</text>
<text x="88.8" y="886.7" font-size="8.3" text-anchor="end" fill="#000">Immune index g.s.</text>
<line x1="131.12" y1="909.4" x2="131.12" y2="911.8" stroke="#444" stroke-width="0.6"/>
<line x1="157.16" y1="909.4" x2="157.16" y2="911.8" stroke="#444" stroke-width="0.6"/>
<line x1="183.19" y1="909.4" x2="183.19" y2="911.8" stroke="#444" stroke-width="0.6"/>
<line x1="209.22" y1="909.4" x2="209.22" y2="911.8" stroke="#444" stroke-width="0.6"/>
<line x1="235.25" y1="909.4" x2="235.25" y2="911.8" stroke="#444" stroke-width="0.6"/>
<line x1="261.27" y1="909.4" x2="261.27" y2="911.8" stroke="#444" stroke-width="0.6"/>
<line x1="287.31" y1="909.4" x2="287.31" y2="911.8" stroke="#444" stroke-width="0.6"/>
<line x1="313.34" y1="909.4" x2="313.34" y2="911.8" stroke="#444" stroke-width="0.6"/>
<line x1="339.37" y1="909.4" x2="339.37" y2="911.8" stroke="#444" stroke-width="0.6"/>
<line x1="443.11" y1="909.4" x2="443.11" y2="911.8" stroke="#444" stroke-width="0.6"/>
<line x1="469.69" y1="909.4" x2="469.69" y2="911.8" stroke="#444" stroke-width="0.6"/>
<line x1="496.27" y1="909.4" x2="496.27" y2="911.8" stroke="#444" stroke-width="0.6"/>
<text x="211.6" y="924.6" font-size="8.3" text-anchor="start" fill="#000">*, Greater than upper limit shown in figure</text>
<text x="210.6" y="938.8" font-size="8.3" text-anchor="start" fill="#000">#, 0 baseline is imputed as 0.05 for % change calculation</text>
<rect x="236.8" y="948.8" width="10.6" height="10" fill="#ec1f26"/>
<text x="249.6" y="956.8" font-size="8.3" text-anchor="start" fill="#000">Up</text>
<rect x="278.8" y="948.8" width="10.8" height="10" fill="#2e3192"/>
<text x="293" y="956.8" font-size="8.3" text-anchor="start" fill="#000">Down</text>
<rect x="331.4" y="948.8" width="10.6" height="10" fill="#b3b5b4"/>
<text x="346" y="956.8" font-size="8.3" text-anchor="start" fill="#000">Not changed</text>
</svg>
</body>
</html>
